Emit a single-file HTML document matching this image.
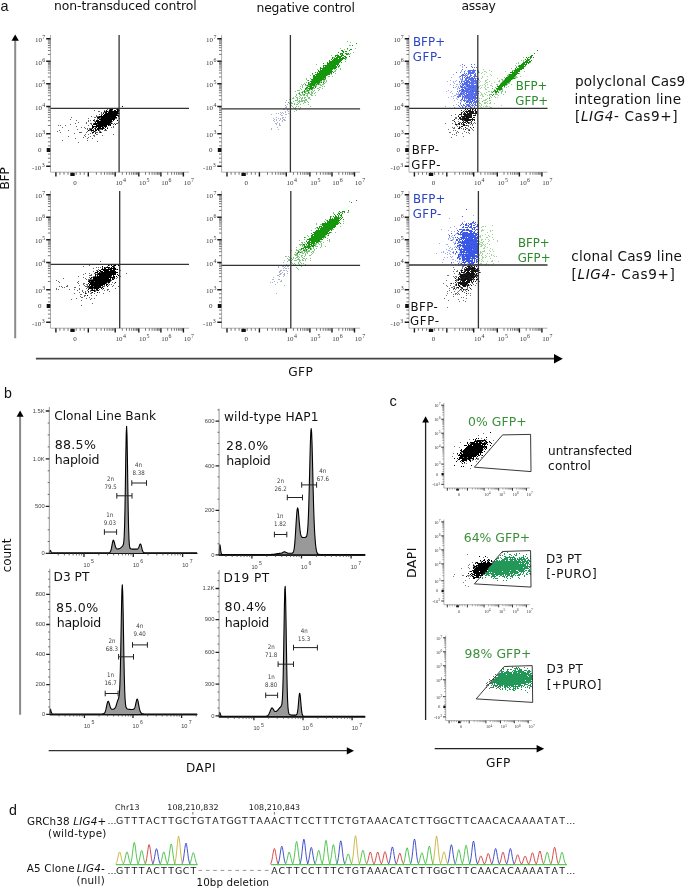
<!DOCTYPE html><html><head><meta charset="utf-8"><style>html,body{margin:0;padding:0;background:#fff}svg{display:block}</style></head><body>
<svg width="685" height="891" viewBox="0 0 685 891" font-family="'DejaVu Sans', 'Liberation Sans', sans-serif">
<rect width="685" height="891" fill="#fff"/>
<defs><filter id="soft" x="-5%" y="-5%" width="110%" height="110%"><feGaussianBlur stdDeviation="0.55"/></filter></defs>
<text x="0.4" y="10.6" font-size="14.4" fill="#111" font-family="Liberation Sans, sans-serif">a</text>
<text x="54" y="9.8" font-size="12.4" fill="#111" textLength="142.6" lengthAdjust="spacing">non-transduced control</text>
<text x="256.5" y="11.8" font-size="12.4" fill="#111" textLength="98.4" lengthAdjust="spacing">negative control</text>
<text x="461.4" y="10.4" font-size="12.4" fill="#111" textLength="34.5" lengthAdjust="spacing">assay</text>
<path d="M50.5 35V172.2H189" stroke="#a8a8a8" stroke-width="0.9" fill="none"/>
<path d="M46.2 38.7h4.3M46.2 61.2h4.3M46.2 83.8h4.3M46.2 106.5h4.3M46.2 133.7h4.3M46.2 166.3h4.3M55.9 172.2v4.4M88.3 172.2v4.4M115.2 172.2v4.4M138.8 172.2v4.4M160.9 172.2v4.4M183.4 172.2v4.4" stroke="#1a1a1a" stroke-width="1.4" fill="none"/>
<path d="M47.9 99.7h2.6M47.9 95.7h2.6M47.9 92.8h2.6M47.9 90.6h2.6M47.9 88.8h2.6M47.9 87.3h2.6M47.9 86h2.6M47.9 84.8h2.6M47.9 77h2.6M47.9 73h2.6M47.9 70.2h2.6M47.9 68h2.6M47.9 66.2h2.6M47.9 64.7h2.6M47.9 63.4h2.6M47.9 62.2h2.6M47.9 54.4h2.6M47.9 50.5h2.6M47.9 47.7h2.6M47.9 45.5h2.6M47.9 43.7h2.6M47.9 42.2h2.6M47.9 40.9h2.6M47.9 39.7h2.6M47.9 125.5h2.6M47.9 120.7h2.6M47.9 117.3h2.6M47.9 114.7h2.6M47.9 112.5h2.6M47.9 110.7h2.6M47.9 109.1h2.6M47.9 107.7h2.6M47.9 162.2h2.6M47.9 158.2h2.6M47.9 154.1h2.6M47.9 150h2.6M47.9 145.9h2.6M47.9 141.8h2.6M47.9 137.8h2.6M96.4 172.2v2.6M101.1 172.2v2.6M104.5 172.2v2.6M107.1 172.2v2.6M109.2 172.2v2.6M111 172.2v2.6M112.6 172.2v2.6M114 172.2v2.6M122.3 172.2v2.6M126.5 172.2v2.6M129.4 172.2v2.6M131.7 172.2v2.6M133.6 172.2v2.6M135.1 172.2v2.6M136.5 172.2v2.6M137.7 172.2v2.6M145.5 172.2v2.6M149.3 172.2v2.6M152.1 172.2v2.6M154.2 172.2v2.6M156 172.2v2.6M157.5 172.2v2.6M158.8 172.2v2.6M159.9 172.2v2.6M167.7 172.2v2.6M171.6 172.2v2.6M174.4 172.2v2.6M176.6 172.2v2.6M178.4 172.2v2.6M179.9 172.2v2.6M181.2 172.2v2.6M182.4 172.2v2.6M59.9 172.2v2.6M64 172.2v2.6M68 172.2v2.6M72.1 172.2v2.6M76.2 172.2v2.6M80.2 172.2v2.6M84.2 172.2v2.6" stroke="#555" stroke-width="0.8" fill="none"/>
<rect x="46.7" y="148" width="3.6" height="4" fill="#111"/>
<rect x="70.3" y="172.8" width="4.4" height="3.2" fill="#111"/>
<g font-family="'Liberation Serif', 'DejaVu Serif', serif" font-size="7" fill="#3a3a3a">
<text x="34.9" y="42">10<tspan dx="0.4" dy="-3" font-size="5.9">7</tspan></text>
<text x="34.9" y="64.5">10<tspan dx="0.4" dy="-3" font-size="5.9">6</tspan></text>
<text x="34.9" y="87.1">10<tspan dx="0.4" dy="-3" font-size="5.9">5</tspan></text>
<text x="34.9" y="109.8">10<tspan dx="0.4" dy="-3" font-size="5.9">4</tspan></text>
<text x="34.9" y="137">10<tspan dx="0.4" dy="-3" font-size="5.9">3</tspan></text>
<text x="37.9" y="152.3">0</text>
<text x="31.9" y="169.6">-10<tspan dx="0.4" dy="-3" font-size="5.9">3</tspan></text>
<text x="73.3" y="184.8">0</text>
<text x="115.5" y="184.8">10<tspan dx="0.4" dy="-3" font-size="5.9">4</tspan></text>
<text x="139.1" y="184.8">10<tspan dx="0.4" dy="-3" font-size="5.9">5</tspan></text>
<text x="161.2" y="184.8">10<tspan dx="0.4" dy="-3" font-size="5.9">6</tspan></text>
<text x="183.7" y="184.8">10<tspan dx="0.4" dy="-3" font-size="5.9">7</tspan></text>
</g>
<path d="M221.6 35V172.2H360.1" stroke="#a8a8a8" stroke-width="0.9" fill="none"/>
<path d="M217.3 38.7h4.3M217.3 61.2h4.3M217.3 83.8h4.3M217.3 106.5h4.3M217.3 133.7h4.3M217.3 166.3h4.3M227 172.2v4.4M259.4 172.2v4.4M286.3 172.2v4.4M309.9 172.2v4.4M332 172.2v4.4M354.5 172.2v4.4" stroke="#1a1a1a" stroke-width="1.4" fill="none"/>
<path d="M219 99.7h2.6M219 95.7h2.6M219 92.8h2.6M219 90.6h2.6M219 88.8h2.6M219 87.3h2.6M219 86h2.6M219 84.8h2.6M219 77h2.6M219 73h2.6M219 70.2h2.6M219 68h2.6M219 66.2h2.6M219 64.7h2.6M219 63.4h2.6M219 62.2h2.6M219 54.4h2.6M219 50.5h2.6M219 47.7h2.6M219 45.5h2.6M219 43.7h2.6M219 42.2h2.6M219 40.9h2.6M219 39.7h2.6M219 125.5h2.6M219 120.7h2.6M219 117.3h2.6M219 114.7h2.6M219 112.5h2.6M219 110.7h2.6M219 109.1h2.6M219 107.7h2.6M219 162.2h2.6M219 158.2h2.6M219 154.1h2.6M219 150h2.6M219 145.9h2.6M219 141.8h2.6M219 137.8h2.6M267.5 172.2v2.6M272.2 172.2v2.6M275.6 172.2v2.6M278.2 172.2v2.6M280.3 172.2v2.6M282.1 172.2v2.6M283.7 172.2v2.6M285.1 172.2v2.6M293.4 172.2v2.6M297.6 172.2v2.6M300.5 172.2v2.6M302.8 172.2v2.6M304.7 172.2v2.6M306.2 172.2v2.6M307.6 172.2v2.6M308.8 172.2v2.6M316.6 172.2v2.6M320.4 172.2v2.6M323.2 172.2v2.6M325.3 172.2v2.6M327.1 172.2v2.6M328.6 172.2v2.6M329.9 172.2v2.6M331 172.2v2.6M338.8 172.2v2.6M342.7 172.2v2.6M345.5 172.2v2.6M347.7 172.2v2.6M349.5 172.2v2.6M351 172.2v2.6M352.3 172.2v2.6M353.5 172.2v2.6M231.1 172.2v2.6M235.1 172.2v2.6M239.1 172.2v2.6M243.2 172.2v2.6M247.2 172.2v2.6M251.3 172.2v2.6M255.3 172.2v2.6" stroke="#555" stroke-width="0.8" fill="none"/>
<rect x="217.8" y="148" width="3.6" height="4" fill="#111"/>
<rect x="241.4" y="172.8" width="4.4" height="3.2" fill="#111"/>
<g font-family="'Liberation Serif', 'DejaVu Serif', serif" font-size="7" fill="#3a3a3a">
<text x="206" y="42">10<tspan dx="0.4" dy="-3" font-size="5.9">7</tspan></text>
<text x="206" y="64.5">10<tspan dx="0.4" dy="-3" font-size="5.9">6</tspan></text>
<text x="206" y="87.1">10<tspan dx="0.4" dy="-3" font-size="5.9">5</tspan></text>
<text x="206" y="109.8">10<tspan dx="0.4" dy="-3" font-size="5.9">4</tspan></text>
<text x="206" y="137">10<tspan dx="0.4" dy="-3" font-size="5.9">3</tspan></text>
<text x="209" y="152.3">0</text>
<text x="203" y="169.6">-10<tspan dx="0.4" dy="-3" font-size="5.9">3</tspan></text>
<text x="244.4" y="184.8">0</text>
<text x="286.6" y="184.8">10<tspan dx="0.4" dy="-3" font-size="5.9">4</tspan></text>
<text x="310.2" y="184.8">10<tspan dx="0.4" dy="-3" font-size="5.9">5</tspan></text>
<text x="332.3" y="184.8">10<tspan dx="0.4" dy="-3" font-size="5.9">6</tspan></text>
<text x="354.8" y="184.8">10<tspan dx="0.4" dy="-3" font-size="5.9">7</tspan></text>
</g>
<path d="M409 35V172.2H547.5" stroke="#a8a8a8" stroke-width="0.9" fill="none"/>
<path d="M404.7 38.7h4.3M404.7 61.2h4.3M404.7 83.8h4.3M404.7 106.5h4.3M404.7 133.7h4.3M404.7 166.3h4.3M414.4 172.2v4.4M446.8 172.2v4.4M473.7 172.2v4.4M497.3 172.2v4.4M519.4 172.2v4.4M541.9 172.2v4.4" stroke="#1a1a1a" stroke-width="1.4" fill="none"/>
<path d="M406.4 99.7h2.6M406.4 95.7h2.6M406.4 92.8h2.6M406.4 90.6h2.6M406.4 88.8h2.6M406.4 87.3h2.6M406.4 86h2.6M406.4 84.8h2.6M406.4 77h2.6M406.4 73h2.6M406.4 70.2h2.6M406.4 68h2.6M406.4 66.2h2.6M406.4 64.7h2.6M406.4 63.4h2.6M406.4 62.2h2.6M406.4 54.4h2.6M406.4 50.5h2.6M406.4 47.7h2.6M406.4 45.5h2.6M406.4 43.7h2.6M406.4 42.2h2.6M406.4 40.9h2.6M406.4 39.7h2.6M406.4 125.5h2.6M406.4 120.7h2.6M406.4 117.3h2.6M406.4 114.7h2.6M406.4 112.5h2.6M406.4 110.7h2.6M406.4 109.1h2.6M406.4 107.7h2.6M406.4 162.2h2.6M406.4 158.2h2.6M406.4 154.1h2.6M406.4 150h2.6M406.4 145.9h2.6M406.4 141.8h2.6M406.4 137.8h2.6M454.9 172.2v2.6M459.6 172.2v2.6M463 172.2v2.6M465.6 172.2v2.6M467.7 172.2v2.6M469.5 172.2v2.6M471.1 172.2v2.6M472.5 172.2v2.6M480.8 172.2v2.6M485 172.2v2.6M487.9 172.2v2.6M490.2 172.2v2.6M492.1 172.2v2.6M493.6 172.2v2.6M495 172.2v2.6M496.2 172.2v2.6M504 172.2v2.6M507.8 172.2v2.6M510.6 172.2v2.6M512.7 172.2v2.6M514.5 172.2v2.6M516 172.2v2.6M517.3 172.2v2.6M518.4 172.2v2.6M526.2 172.2v2.6M530.1 172.2v2.6M532.9 172.2v2.6M535.1 172.2v2.6M536.9 172.2v2.6M538.4 172.2v2.6M539.7 172.2v2.6M540.9 172.2v2.6M418.4 172.2v2.6M422.5 172.2v2.6M426.6 172.2v2.6M430.6 172.2v2.6M434.6 172.2v2.6M438.7 172.2v2.6M442.8 172.2v2.6" stroke="#555" stroke-width="0.8" fill="none"/>
<rect x="405.2" y="148" width="3.6" height="4" fill="#111"/>
<rect x="428.8" y="172.8" width="4.4" height="3.2" fill="#111"/>
<g font-family="'Liberation Serif', 'DejaVu Serif', serif" font-size="7" fill="#3a3a3a">
<text x="393.4" y="42">10<tspan dx="0.4" dy="-3" font-size="5.9">7</tspan></text>
<text x="393.4" y="64.5">10<tspan dx="0.4" dy="-3" font-size="5.9">6</tspan></text>
<text x="393.4" y="87.1">10<tspan dx="0.4" dy="-3" font-size="5.9">5</tspan></text>
<text x="393.4" y="109.8">10<tspan dx="0.4" dy="-3" font-size="5.9">4</tspan></text>
<text x="393.4" y="137">10<tspan dx="0.4" dy="-3" font-size="5.9">3</tspan></text>
<text x="396.4" y="152.3">0</text>
<text x="390.4" y="169.6">-10<tspan dx="0.4" dy="-3" font-size="5.9">3</tspan></text>
<text x="431.8" y="184.8">0</text>
<text x="474" y="184.8">10<tspan dx="0.4" dy="-3" font-size="5.9">4</tspan></text>
<text x="497.6" y="184.8">10<tspan dx="0.4" dy="-3" font-size="5.9">5</tspan></text>
<text x="519.7" y="184.8">10<tspan dx="0.4" dy="-3" font-size="5.9">6</tspan></text>
<text x="542.2" y="184.8">10<tspan dx="0.4" dy="-3" font-size="5.9">7</tspan></text>
</g>
<path d="M50.5 191V328.2H189" stroke="#a8a8a8" stroke-width="0.9" fill="none"/>
<path d="M46.2 194.7h4.3M46.2 217.2h4.3M46.2 239.8h4.3M46.2 262.5h4.3M46.2 289.7h4.3M46.2 322.3h4.3M55.9 328.2v4.4M88.3 328.2v4.4M115.2 328.2v4.4M138.8 328.2v4.4M160.9 328.2v4.4M183.4 328.2v4.4" stroke="#1a1a1a" stroke-width="1.4" fill="none"/>
<path d="M47.9 255.7h2.6M47.9 251.7h2.6M47.9 248.8h2.6M47.9 246.6h2.6M47.9 244.8h2.6M47.9 243.3h2.6M47.9 242h2.6M47.9 240.8h2.6M47.9 233h2.6M47.9 229h2.6M47.9 226.2h2.6M47.9 224h2.6M47.9 222.2h2.6M47.9 220.7h2.6M47.9 219.4h2.6M47.9 218.2h2.6M47.9 210.4h2.6M47.9 206.5h2.6M47.9 203.7h2.6M47.9 201.5h2.6M47.9 199.7h2.6M47.9 198.2h2.6M47.9 196.9h2.6M47.9 195.7h2.6M47.9 281.5h2.6M47.9 276.7h2.6M47.9 273.3h2.6M47.9 270.7h2.6M47.9 268.5h2.6M47.9 266.7h2.6M47.9 265.1h2.6M47.9 263.7h2.6M47.9 318.2h2.6M47.9 314.1h2.6M47.9 310.1h2.6M47.9 306h2.6M47.9 301.9h2.6M47.9 297.9h2.6M47.9 293.8h2.6M96.4 328.2v2.6M101.1 328.2v2.6M104.5 328.2v2.6M107.1 328.2v2.6M109.2 328.2v2.6M111 328.2v2.6M112.6 328.2v2.6M114 328.2v2.6M122.3 328.2v2.6M126.5 328.2v2.6M129.4 328.2v2.6M131.7 328.2v2.6M133.6 328.2v2.6M135.1 328.2v2.6M136.5 328.2v2.6M137.7 328.2v2.6M145.5 328.2v2.6M149.3 328.2v2.6M152.1 328.2v2.6M154.2 328.2v2.6M156 328.2v2.6M157.5 328.2v2.6M158.8 328.2v2.6M159.9 328.2v2.6M167.7 328.2v2.6M171.6 328.2v2.6M174.4 328.2v2.6M176.6 328.2v2.6M178.4 328.2v2.6M179.9 328.2v2.6M181.2 328.2v2.6M182.4 328.2v2.6M59.9 328.2v2.6M64 328.2v2.6M68 328.2v2.6M72.1 328.2v2.6M76.2 328.2v2.6M80.2 328.2v2.6M84.2 328.2v2.6" stroke="#555" stroke-width="0.8" fill="none"/>
<rect x="46.7" y="304" width="3.6" height="4" fill="#111"/>
<rect x="70.3" y="328.8" width="4.4" height="3.2" fill="#111"/>
<g font-family="'Liberation Serif', 'DejaVu Serif', serif" font-size="7" fill="#3a3a3a">
<text x="34.9" y="198">10<tspan dx="0.4" dy="-3" font-size="5.9">7</tspan></text>
<text x="34.9" y="220.5">10<tspan dx="0.4" dy="-3" font-size="5.9">6</tspan></text>
<text x="34.9" y="243.1">10<tspan dx="0.4" dy="-3" font-size="5.9">5</tspan></text>
<text x="34.9" y="265.8">10<tspan dx="0.4" dy="-3" font-size="5.9">4</tspan></text>
<text x="34.9" y="293">10<tspan dx="0.4" dy="-3" font-size="5.9">3</tspan></text>
<text x="37.9" y="308.3">0</text>
<text x="31.9" y="325.6">-10<tspan dx="0.4" dy="-3" font-size="5.9">3</tspan></text>
<text x="73.3" y="340.8">0</text>
<text x="115.5" y="340.8">10<tspan dx="0.4" dy="-3" font-size="5.9">4</tspan></text>
<text x="139.1" y="340.8">10<tspan dx="0.4" dy="-3" font-size="5.9">5</tspan></text>
<text x="161.2" y="340.8">10<tspan dx="0.4" dy="-3" font-size="5.9">6</tspan></text>
<text x="183.7" y="340.8">10<tspan dx="0.4" dy="-3" font-size="5.9">7</tspan></text>
</g>
<path d="M221.6 191V328.2H360.1" stroke="#a8a8a8" stroke-width="0.9" fill="none"/>
<path d="M217.3 194.7h4.3M217.3 217.2h4.3M217.3 239.8h4.3M217.3 262.5h4.3M217.3 289.7h4.3M217.3 322.3h4.3M227 328.2v4.4M259.4 328.2v4.4M286.3 328.2v4.4M309.9 328.2v4.4M332 328.2v4.4M354.5 328.2v4.4" stroke="#1a1a1a" stroke-width="1.4" fill="none"/>
<path d="M219 255.7h2.6M219 251.7h2.6M219 248.8h2.6M219 246.6h2.6M219 244.8h2.6M219 243.3h2.6M219 242h2.6M219 240.8h2.6M219 233h2.6M219 229h2.6M219 226.2h2.6M219 224h2.6M219 222.2h2.6M219 220.7h2.6M219 219.4h2.6M219 218.2h2.6M219 210.4h2.6M219 206.5h2.6M219 203.7h2.6M219 201.5h2.6M219 199.7h2.6M219 198.2h2.6M219 196.9h2.6M219 195.7h2.6M219 281.5h2.6M219 276.7h2.6M219 273.3h2.6M219 270.7h2.6M219 268.5h2.6M219 266.7h2.6M219 265.1h2.6M219 263.7h2.6M219 318.2h2.6M219 314.1h2.6M219 310.1h2.6M219 306h2.6M219 301.9h2.6M219 297.9h2.6M219 293.8h2.6M267.5 328.2v2.6M272.2 328.2v2.6M275.6 328.2v2.6M278.2 328.2v2.6M280.3 328.2v2.6M282.1 328.2v2.6M283.7 328.2v2.6M285.1 328.2v2.6M293.4 328.2v2.6M297.6 328.2v2.6M300.5 328.2v2.6M302.8 328.2v2.6M304.7 328.2v2.6M306.2 328.2v2.6M307.6 328.2v2.6M308.8 328.2v2.6M316.6 328.2v2.6M320.4 328.2v2.6M323.2 328.2v2.6M325.3 328.2v2.6M327.1 328.2v2.6M328.6 328.2v2.6M329.9 328.2v2.6M331 328.2v2.6M338.8 328.2v2.6M342.7 328.2v2.6M345.5 328.2v2.6M347.7 328.2v2.6M349.5 328.2v2.6M351 328.2v2.6M352.3 328.2v2.6M353.5 328.2v2.6M231.1 328.2v2.6M235.1 328.2v2.6M239.1 328.2v2.6M243.2 328.2v2.6M247.2 328.2v2.6M251.3 328.2v2.6M255.3 328.2v2.6" stroke="#555" stroke-width="0.8" fill="none"/>
<rect x="217.8" y="304" width="3.6" height="4" fill="#111"/>
<rect x="241.4" y="328.8" width="4.4" height="3.2" fill="#111"/>
<g font-family="'Liberation Serif', 'DejaVu Serif', serif" font-size="7" fill="#3a3a3a">
<text x="206" y="198">10<tspan dx="0.4" dy="-3" font-size="5.9">7</tspan></text>
<text x="206" y="220.5">10<tspan dx="0.4" dy="-3" font-size="5.9">6</tspan></text>
<text x="206" y="243.1">10<tspan dx="0.4" dy="-3" font-size="5.9">5</tspan></text>
<text x="206" y="265.8">10<tspan dx="0.4" dy="-3" font-size="5.9">4</tspan></text>
<text x="206" y="293">10<tspan dx="0.4" dy="-3" font-size="5.9">3</tspan></text>
<text x="209" y="308.3">0</text>
<text x="203" y="325.6">-10<tspan dx="0.4" dy="-3" font-size="5.9">3</tspan></text>
<text x="244.4" y="340.8">0</text>
<text x="286.6" y="340.8">10<tspan dx="0.4" dy="-3" font-size="5.9">4</tspan></text>
<text x="310.2" y="340.8">10<tspan dx="0.4" dy="-3" font-size="5.9">5</tspan></text>
<text x="332.3" y="340.8">10<tspan dx="0.4" dy="-3" font-size="5.9">6</tspan></text>
<text x="354.8" y="340.8">10<tspan dx="0.4" dy="-3" font-size="5.9">7</tspan></text>
</g>
<path d="M409 191V328.2H547.5" stroke="#a8a8a8" stroke-width="0.9" fill="none"/>
<path d="M404.7 194.7h4.3M404.7 217.2h4.3M404.7 239.8h4.3M404.7 262.5h4.3M404.7 289.7h4.3M404.7 322.3h4.3M414.4 328.2v4.4M446.8 328.2v4.4M473.7 328.2v4.4M497.3 328.2v4.4M519.4 328.2v4.4M541.9 328.2v4.4" stroke="#1a1a1a" stroke-width="1.4" fill="none"/>
<path d="M406.4 255.7h2.6M406.4 251.7h2.6M406.4 248.8h2.6M406.4 246.6h2.6M406.4 244.8h2.6M406.4 243.3h2.6M406.4 242h2.6M406.4 240.8h2.6M406.4 233h2.6M406.4 229h2.6M406.4 226.2h2.6M406.4 224h2.6M406.4 222.2h2.6M406.4 220.7h2.6M406.4 219.4h2.6M406.4 218.2h2.6M406.4 210.4h2.6M406.4 206.5h2.6M406.4 203.7h2.6M406.4 201.5h2.6M406.4 199.7h2.6M406.4 198.2h2.6M406.4 196.9h2.6M406.4 195.7h2.6M406.4 281.5h2.6M406.4 276.7h2.6M406.4 273.3h2.6M406.4 270.7h2.6M406.4 268.5h2.6M406.4 266.7h2.6M406.4 265.1h2.6M406.4 263.7h2.6M406.4 318.2h2.6M406.4 314.1h2.6M406.4 310.1h2.6M406.4 306h2.6M406.4 301.9h2.6M406.4 297.9h2.6M406.4 293.8h2.6M454.9 328.2v2.6M459.6 328.2v2.6M463 328.2v2.6M465.6 328.2v2.6M467.7 328.2v2.6M469.5 328.2v2.6M471.1 328.2v2.6M472.5 328.2v2.6M480.8 328.2v2.6M485 328.2v2.6M487.9 328.2v2.6M490.2 328.2v2.6M492.1 328.2v2.6M493.6 328.2v2.6M495 328.2v2.6M496.2 328.2v2.6M504 328.2v2.6M507.8 328.2v2.6M510.6 328.2v2.6M512.7 328.2v2.6M514.5 328.2v2.6M516 328.2v2.6M517.3 328.2v2.6M518.4 328.2v2.6M526.2 328.2v2.6M530.1 328.2v2.6M532.9 328.2v2.6M535.1 328.2v2.6M536.9 328.2v2.6M538.4 328.2v2.6M539.7 328.2v2.6M540.9 328.2v2.6M418.4 328.2v2.6M422.5 328.2v2.6M426.6 328.2v2.6M430.6 328.2v2.6M434.6 328.2v2.6M438.7 328.2v2.6M442.8 328.2v2.6" stroke="#555" stroke-width="0.8" fill="none"/>
<rect x="405.2" y="304" width="3.6" height="4" fill="#111"/>
<rect x="428.8" y="328.8" width="4.4" height="3.2" fill="#111"/>
<g font-family="'Liberation Serif', 'DejaVu Serif', serif" font-size="7" fill="#3a3a3a">
<text x="393.4" y="198">10<tspan dx="0.4" dy="-3" font-size="5.9">7</tspan></text>
<text x="393.4" y="220.5">10<tspan dx="0.4" dy="-3" font-size="5.9">6</tspan></text>
<text x="393.4" y="243.1">10<tspan dx="0.4" dy="-3" font-size="5.9">5</tspan></text>
<text x="393.4" y="265.8">10<tspan dx="0.4" dy="-3" font-size="5.9">4</tspan></text>
<text x="393.4" y="293">10<tspan dx="0.4" dy="-3" font-size="5.9">3</tspan></text>
<text x="396.4" y="308.3">0</text>
<text x="390.4" y="325.6">-10<tspan dx="0.4" dy="-3" font-size="5.9">3</tspan></text>
<text x="431.8" y="340.8">0</text>
<text x="474" y="340.8">10<tspan dx="0.4" dy="-3" font-size="5.9">4</tspan></text>
<text x="497.6" y="340.8">10<tspan dx="0.4" dy="-3" font-size="5.9">5</tspan></text>
<text x="519.7" y="340.8">10<tspan dx="0.4" dy="-3" font-size="5.9">6</tspan></text>
<text x="542.2" y="340.8">10<tspan dx="0.4" dy="-3" font-size="5.9">7</tspan></text>
</g>
<g filter="url(#soft)">
<path d="M117 108.5h1m-11 1h1m1 0h1m6 0h1m1 0h1m-25 1h1m9 0h1m7 0h1m5 0h1m0 0h1m-22 1h1m0 0h1m5 0h1m1 0h1m0 0h1m0 0h1m2 0h1m1 0h1m1 0h1m-16 1h1m1 0h1m0 0h1m0 0h1m3 0h1m2 0h1m5 0h1m-18 1h1m5 0h1m1 0h1m9 0h1m-21 1h1m1 0h1m0 0h1m4 0h1m0 0h1m2 0h1m0 0h1m0 0h1m3 0h1m-22 1h1m4 0h1m3 0h1m1 0h1m3 0h1m1 0h1m2 0h1m-26 1h1m4 0h1m0 0h1m0 0h1m2 0h1m2 0h1m2 0h1m5 0h1m0 0h1m-44 1h1m22 0h1m0 0h1m3 0h1m0 0h1m1 0h1m1 0h1m1 0h1m0 0h1m0 0h1m0 0h1m1 0h1m0 0h1m1 0h1m-27 1h1m8 0h1m0 0h1m0 0h1m0 0h1m1 0h1m0 0h1m0 0h1m0 0h1m2 0h1m1 0h1m0 0h1m1 0h1m1 0h1m0 0h1m2 0h1m-50 1h1m23 0h1m2 0h1m2 0h1m0 0h1m1 0h1m0 0h1m0 0h1m1 0h1m1 0h1m1 0h1m2 0h1m-39 1h1m11 0h1m1 0h1m3 0h1m2 0h1m0 0h1m1 0h1m0 0h1m0 0h1m1 0h1m0 0h1m0 0h1m3 0h1m2 0h1m-26 1h1m5 0h1m0 0h1m0 0h1m0 0h1m1 0h1m1 0h1m0 0h1m1 0h1m0 0h1m4 0h1m1 0h1m-35 1h1m7 0h1m8 0h1m1 0h1m0 0h1m0 0h1m1 0h1m0 0h1m0 0h1m0 0h1m3 0h1m1 0h1m0 0h1m6 0h1m-44 1h1m10 0h1m3 0h1m0 0h1m1 0h1m0 0h1m0 0h1m3 0h1m0 0h1m0 0h1m1 0h1m0 0h1m0 0h1m0 0h1m1 0h1m0 0h1m0 0h1m1 0h1m1 0h1m1 0h1m0 0h1m-48 1h1m20 0h1m1 0h1m0 0h1m1 0h1m0 0h1m2 0h1m0 0h1m0 0h1m0 0h1m1 0h1m0 0h1m1 0h1m4 0h1m-56 1h1m1 0h1m4 0h1m22 0h1m3 0h1m4 0h1m2 0h1m0 0h1m0 0h1m0 0h1m5 0h1m-34 1h1m15 0h1m1 0h1m0 0h1m0 0h1m0 0h1m2 0h1m2 0h1m1 0h1m0 0h1m6 0h1m-52 1h1m18 0h1m2 0h1m8 0h1m1 0h1m2 0h1m0 0h1m3 0h1m3 0h1m3 0h1m1 0h1m-29 1h1m1 0h1m1 0h1m0 0h1m0 0h1m2 0h1m0 0h1m2 0h1m0 0h1m1 0h1m0 0h1m1 0h1m2 0h1m-31 1h1m9 0h1m1 0h1m3 0h1m1 0h1m0 0h1m1 0h1m0 0h1m0 0h1m0 0h1m-43 1h1m8 0h1m19 0h1m0 0h1m0 0h1m4 0h1m3 0h1m4 0h1m0 0h1m0 0h1m-50 1h1m29 0h1m3 0h1m1 0h1m0 0h1m0 0h1m3 0h1m0 0h1m-41 1h1m18 0h1m0 0h1m0 0h1m4 0h1m8 0h1m0 0h1m0 0h1m1 0h1m1 0h1m-28 1h1m15 0h1m1 0h1m-8 1h1m2 0h1m7 0h1m0 0h1m15 0h1m-30 1h1m8 0h1m0 0h1m7 0h1m-35 1h1m16 0h1m4 0h1m3 0h1m-12 1h1m4 0h1m-14 1h1m11 0h1m4 0h1m-31 2h1m24 0h1m9 1h1m-20 1h1" stroke="#000" stroke-width="1.0" stroke-opacity="0.6" fill="none"/>
<path d="M122 106.5h1m-13 3h1m0 0h1m0 0h1m4 0h1m0 0h1m-13 1h1m2 0h1m0 0h1m0 0h1m2 0h1m0 0h1m1 0h1m0 0h1m-15 1h1m1 0h1m0 0h1m1 0h1m0 0h1m0 0h1m0 0h1m0 0h1m0 0h1m0 0h1m0 0h1m0 0h1m0 0h1m-14 1h1m0 0h1m1 0h1m0 0h1m0 0h1m0 0h1m0 0h1m0 0h1m0 0h1m0 0h1m0 0h1m0 0h1m-15 1h1m1 0h1m0 0h1m0 0h1m0 0h1m0 0h1m0 0h1m0 0h1m0 0h1m0 0h1m0 0h1m0 0h1m0 0h1m0 0h1m0 0h1m-15 1h1m0 0h1m0 0h1m0 0h1m0 0h1m0 0h1m0 0h1m0 0h1m0 0h1m0 0h1m0 0h1m0 0h1m0 0h1m-16 1h1m1 0h1m0 0h1m0 0h1m0 0h1m0 0h1m0 0h1m0 0h1m0 0h1m0 0h1m0 0h1m0 0h1m0 0h1m0 0h1m0 0h1m0 0h1m0 0h1m-20 1h1m0 0h1m0 0h1m0 0h1m0 0h1m0 0h1m0 0h1m0 0h1m0 0h1m0 0h1m0 0h1m0 0h1m0 0h1m0 0h1m0 0h1m0 0h1m0 0h1m2 0h1m-22 1h1m0 0h1m0 0h1m1 0h1m0 0h1m0 0h1m0 0h1m0 0h1m0 0h1m0 0h1m0 0h1m0 0h1m0 0h1m0 0h1m0 0h1m0 0h1m0 0h1m0 0h1m0 0h1m-19 1h1m2 0h1m0 0h1m0 0h1m0 0h1m0 0h1m0 0h1m0 0h1m0 0h1m0 0h1m0 0h1m0 0h1m0 0h1m0 0h1m0 0h1m-16 1h1m0 0h1m0 0h1m0 0h1m0 0h1m0 0h1m0 0h1m0 0h1m0 0h1m0 0h1m0 0h1m0 0h1m0 0h1m0 0h1m0 0h1m0 0h1m-22 1h1m2 0h1m0 0h1m0 0h1m2 0h1m0 0h1m0 0h1m0 0h1m0 0h1m0 0h1m0 0h1m0 0h1m0 0h1m0 0h1m0 0h1m1 0h1m3 0h1m-22 1h1m0 0h1m0 0h1m0 0h1m0 0h1m0 0h1m0 0h1m0 0h1m0 0h1m0 0h1m0 0h1m0 0h1m0 0h1m0 0h1m0 0h1m0 0h1m-17 1h1m1 0h1m0 0h1m0 0h1m0 0h1m0 0h1m0 0h1m0 0h1m0 0h1m0 0h1m0 0h1m0 0h1m0 0h1m0 0h1m0 0h1m-17 1h1m0 0h1m0 0h1m0 0h1m0 0h1m0 0h1m0 0h1m0 0h1m0 0h1m0 0h1m0 0h1m0 0h1m0 0h1m0 0h1m0 0h1m0 0h1m1 0h1m-19 1h1m0 0h1m0 0h1m0 0h1m1 0h1m0 0h1m0 0h1m0 0h1m0 0h1m0 0h1m0 0h1m0 0h1m0 0h1m0 0h1m0 0h1m0 0h1m0 0h1m4 0h1m-24 1h1m3 0h1m0 0h1m0 0h1m0 0h1m0 0h1m0 0h1m0 0h1m0 0h1m0 0h1m0 0h1m0 0h1m1 0h1m1 0h1m-19 1h1m0 0h1m0 0h1m0 0h1m0 0h1m0 0h1m0 0h1m0 0h1m0 0h1m0 0h1m0 0h1m1 0h1m0 0h1m0 0h1m-15 1h1m0 0h1m2 0h1m1 0h1m0 0h1m0 0h1m1 0h1m0 0h1m1 0h1m-14 1h1m2 0h1m1 0h1m0 0h1m0 0h1m0 0h1m0 0h1m0 0h1m0 0h1m3 0h1m-18 1h1m0 0h1m3 0h1m1 0h1m0 0h1m3 0h1m2 0h1m-18 1h1m2 0h1m0 0h1m0 0h1m1 0h1m0 0h1m1 0h1m-5 1h1m-3 1h1m0 0h1m6 0h1m-6 1h1" stroke="#000" stroke-width="1.0" fill="none"/>
</g>
<g filter="url(#soft)">
<path d="M100 261.5h1m-1 3h1m-12 1h1m19 0h1m1 0h1m1 0h1m1 0h1m2 0h1m-36 1h1m23 0h1m6 0h1m-19 1h1m1 0h1m1 0h1m1 0h1m1 0h1m0 0h1m0 0h1m0 0h1m5 0h1m-21 1h1m15 0h1m1 0h1m7 0h1m-22 1h1m5 0h1m1 0h1m1 0h1m0 0h1m3 0h1m0 0h1m1 0h1m-21 1h1m0 0h1m5 0h1m2 0h1m0 0h1m2 0h1m9 0h1m-28 1h1m4 0h1m7 0h1m-8 1h1m0 0h1m0 0h1m1 0h1m6 0h1m0 0h1m-27 1h1m3 0h1m4 0h1m0 0h1m1 0h1m0 0h1m3 0h1m1 0h1m1 0h1m0 0h1m4 0h1m0 0h1m12 0h1m-44 1h1m7 0h1m4 0h1m0 0h1m0 0h1m2 0h1m0 0h1m0 0h1m2 0h1m3 0h1m3 0h1m0 0h1m-27 1h1m0 0h1m0 0h1m3 0h1m4 0h1m0 0h1m0 0h1m0 0h1m1 0h1m1 0h1m-30 1h1m14 0h1m0 0h1m1 0h1m0 0h1m0 0h1m1 0h1m2 0h1m0 0h1m3 0h1m1 0h1m0 0h1m8 0h1m-38 1h1m5 0h1m2 0h1m1 0h1m2 0h1m0 0h1m0 0h1m0 0h1m0 0h1m0 0h1m0 0h1m0 0h1m0 0h1m3 0h1m3 0h1m0 0h1m2 0h1m-55 1h1m21 0h1m5 0h1m1 0h1m0 0h1m0 0h1m0 0h1m0 0h1m2 0h1m0 0h1m0 0h1m0 0h1m0 0h1m0 0h1m6 0h1m0 0h1m2 0h1m-31 1h1m1 0h1m0 0h1m0 0h1m0 0h1m0 0h1m2 0h1m2 0h1m0 0h1m0 0h1m0 0h1m1 0h1m1 0h1m0 0h1m1 0h1m-53 1h1m31 0h1m5 0h1m1 0h1m0 0h1m0 0h1m1 0h1m0 0h1m1 0h1m0 0h1m0 0h1m1 0h1m1 0h1m0 0h1m0 0h1m7 0h1m-62 1h1m19 0h1m11 0h1m2 0h1m0 0h1m3 0h1m0 0h1m0 0h1m0 0h1m0 0h1m0 0h1m3 0h1m2 0h1m-52 1h1m17 0h1m11 0h1m3 0h1m1 0h1m0 0h1m0 0h1m0 0h1m0 0h1m0 0h1m0 0h1m0 0h1m1 0h1m1 0h1m0 0h1m0 0h1m3 0h1m-35 1h1m4 0h1m0 0h1m3 0h1m3 0h1m1 0h1m2 0h1m0 0h1m2 0h1m0 0h1m0 0h1m0 0h1m1 0h1m1 0h1m5 0h1m4 0h1m-37 1h1m2 0h1m0 0h1m6 0h1m0 0h1m2 0h1m0 0h1m0 0h1m2 0h1m0 0h1m1 0h1m2 0h1m1 0h1m-45 1h1m11 0h1m4 0h1m2 0h1m4 0h1m2 0h1m2 0h1m0 0h1m1 0h1m0 0h1m1 0h1m3 0h1m4 0h1m-55 1h1m1 0h1m4 0h1m0 0h1m17 0h1m0 0h1m0 0h1m1 0h1m0 0h1m0 0h1m0 0h1m0 0h1m0 0h1m1 0h1m1 0h1m3 0h1m0 0h1m0 0h1m7 0h1m5 0h1m-57 1h1m1 0h1m9 0h1m0 0h1m11 0h1m0 0h1m1 0h1m0 0h1m1 0h1m4 0h1m0 0h1m1 0h1m-46 1h1m22 0h1m6 0h1m1 0h1m1 0h1m2 0h1m0 0h1m2 0h1m0 0h1m2 0h1m1 0h1m11 0h1m-60 1h1m1 0h1m10 0h1m4 0h1m4 0h1m11 0h1m0 0h1m1 0h1m4 0h1m2 0h1m4 0h1m0 0h1m-32 1h1m4 0h1m4 0h1m2 0h1m0 0h1m3 0h1m0 0h1m1 0h1m5 0h1m2 0h1m-26 1h1m2 0h1m4 0h1m4 0h1m13 0h1m-31 1h1m3 0h1m1 0h1m2 0h1m2 0h1m0 0h1m6 0h1m-26 1h1m11 0h1m3 0h1m0 0h1m2 0h1m8 0h1m-24 1h1m0 0h1m2 1h1m0 0h1m5 0h1m4 0h1m-17 1h1m3 0h1m-4 1h1m0 0h1m6 0h1m-14 1h1m9 0h1m4 0h1m2 0h1m-24 1h1m18 0h1m-10 1h1m10 3h1m-12 2h1" stroke="#000" stroke-width="1.0" stroke-opacity="0.6" fill="none"/>
<path d="M113 264.5h1m-6 1h1m2 0h1m2 0h1m0 0h1m2 0h1m0 0h1m-18 1h1m9 0h1m0 0h1m-10 1h1m1 0h1m0 0h1m0 0h1m0 0h1m1 0h1m1 0h1m0 0h1m4 0h1m-18 1h1m1 0h1m0 0h1m2 0h1m1 0h1m0 0h1m0 0h1m0 0h1m0 0h1m0 0h1m-15 1h1m0 0h1m0 0h1m0 0h1m0 0h1m0 0h1m0 0h1m0 0h1m0 0h1m0 0h1m0 0h1m1 0h1m0 0h1m0 0h1m1 0h1m1 0h1m-21 1h1m0 0h1m2 0h1m0 0h1m0 0h1m0 0h1m0 0h1m0 0h1m1 0h1m0 0h1m0 0h1m0 0h1m0 0h1m-18 1h1m2 0h1m0 0h1m0 0h1m1 0h1m0 0h1m0 0h1m0 0h1m0 0h1m0 0h1m0 0h1m0 0h1m0 0h1m0 0h1m0 0h1m0 0h1m-21 1h1m0 0h1m0 0h1m1 0h1m1 0h1m0 0h1m0 0h1m0 0h1m0 0h1m0 0h1m0 0h1m0 0h1m0 0h1m0 0h1m0 0h1m0 0h1m0 0h1m0 0h1m0 0h1m0 0h1m0 0h1m-20 1h1m0 0h1m0 0h1m0 0h1m0 0h1m0 0h1m0 0h1m0 0h1m0 0h1m0 0h1m0 0h1m0 0h1m0 0h1m0 0h1m0 0h1m0 0h1m0 0h1m0 0h1m-21 1h1m1 0h1m0 0h1m0 0h1m0 0h1m0 0h1m0 0h1m0 0h1m0 0h1m0 0h1m0 0h1m0 0h1m0 0h1m0 0h1m0 0h1m0 0h1m0 0h1m0 0h1m0 0h1m0 0h1m1 0h1m-23 1h1m1 0h1m1 0h1m0 0h1m0 0h1m0 0h1m0 0h1m0 0h1m0 0h1m0 0h1m0 0h1m0 0h1m0 0h1m0 0h1m0 0h1m1 0h1m4 0h1m-24 1h1m1 0h1m0 0h1m0 0h1m0 0h1m0 0h1m0 0h1m0 0h1m0 0h1m0 0h1m0 0h1m0 0h1m0 0h1m0 0h1m0 0h1m2 0h1m0 0h1m1 0h1m-26 1h1m1 0h1m0 0h1m0 0h1m0 0h1m0 0h1m0 0h1m0 0h1m0 0h1m0 0h1m0 0h1m0 0h1m0 0h1m0 0h1m0 0h1m0 0h1m0 0h1m0 0h1m0 0h1m0 0h1m0 0h1m0 0h1m0 0h1m-25 1h1m2 0h1m0 0h1m0 0h1m0 0h1m0 0h1m0 0h1m0 0h1m0 0h1m0 0h1m0 0h1m0 0h1m0 0h1m0 0h1m0 0h1m0 0h1m0 0h1m1 0h1m1 0h1m1 0h1m-22 1h1m0 0h1m0 0h1m0 0h1m0 0h1m0 0h1m0 0h1m0 0h1m0 0h1m0 0h1m0 0h1m0 0h1m0 0h1m0 0h1m0 0h1m0 0h1m0 0h1m0 0h1m1 0h1m0 0h1m-25 1h1m0 0h1m0 0h1m0 0h1m0 0h1m0 0h1m0 0h1m0 0h1m0 0h1m0 0h1m0 0h1m0 0h1m0 0h1m0 0h1m0 0h1m0 0h1m0 0h1m0 0h1m0 0h1m0 0h1m0 0h1m0 0h1m-23 1h1m0 0h1m1 0h1m0 0h1m0 0h1m1 0h1m0 0h1m0 0h1m0 0h1m0 0h1m0 0h1m0 0h1m0 0h1m0 0h1m0 0h1m0 0h1m0 0h1m0 0h1m0 0h1m0 0h1m-21 1h1m0 0h1m0 0h1m0 0h1m0 0h1m0 0h1m0 0h1m0 0h1m0 0h1m0 0h1m0 0h1m0 0h1m0 0h1m0 0h1m0 0h1m0 0h1m0 0h1m0 0h1m1 0h1m0 0h1m5 0h1m-28 1h1m1 0h1m0 0h1m0 0h1m0 0h1m0 0h1m0 0h1m0 0h1m0 0h1m0 0h1m0 0h1m0 0h1m0 0h1m0 0h1m0 0h1m0 0h1m0 0h1m-17 1h1m0 0h1m0 0h1m0 0h1m0 0h1m0 0h1m0 0h1m0 0h1m0 0h1m0 0h1m0 0h1m0 0h1m0 0h1m0 0h1m0 0h1m0 0h1m1 0h1m0 0h1m-19 1h1m1 0h1m0 0h1m0 0h1m0 0h1m0 0h1m0 0h1m0 0h1m0 0h1m0 0h1m0 0h1m0 0h1m0 0h1m3 0h1m-19 1h1m1 0h1m0 0h1m0 0h1m1 0h1m0 0h1m0 0h1m0 0h1m0 0h1m0 0h1m0 0h1m6 0h1m-19 1h1m0 0h1m0 0h1m0 0h1m0 0h1m0 0h1m0 0h1m0 0h1m0 0h1m0 0h1m0 0h1m0 0h1m1 0h1m-14 1h1m0 0h1m0 0h1m0 0h1m1 0h1m0 0h1m0 0h1m0 0h1m0 0h1m2 0h1m1 0h1m-16 1h1m3 0h1m3 0h1m0 0h1m-7 1h1m0 0h1m0 0h1m0 0h1m2 0h1m0 0h1m-11 1h1m5 0h1m-3 1h1m4 0h1m-13 1h1m1 2h1" stroke="#000" stroke-width="1.0" fill="none"/>
</g>
<g filter="url(#soft)">
<path d="M290 99.5h1m-5 1h1m-2 2h1m2 0h1m1 0h1m-4 2h1m-3 1h1m0 1h1m-2 1h1m0 0h1m-4 2h1m0 0h1m2 0h1m0 0h1m1 0h1m-4 1h1m-3 1h1m2 0h1m1 0h1m3 0h1m-15 1h1m1 0h1m2 0h1m-10 1h1m1 0h1m2 0h1m1 0h1m4 0h1m-18 1h1m8 0h1m4 0h1m0 0h1m-6 1h1m0 0h1m-7 2h1m5 0h1m0 0h1m1 0h1m-13 1h1m4 0h1m1 0h1m1 0h1m-9 1h1m1 0h1m3 0h1m2 0h1m0 0h1m-12 1h1m2 0h1m2 0h1m2 0h1m1 0h1m0 0h1m-12 1h1m7 0h1m-6 1h1m-3 1h1m0 0h1m2 0h1m-4 1h1m2 0h1m-1 1h1m0 0h1m-4 2h1m-7 1h1m-1 1h1m6 0h1" stroke="#6870a0" stroke-width="1.0" stroke-opacity="0.55" fill="none"/>
<path d="M347 41.5h1m2 1h1m-2 3h1m0 0h1m-11 3h1m14 0h1m-12 1h1m2 0h1m5 3h1m-14 1h1m6 0h1m2 0h1m-14 1h1m3 0h1m6 0h1m0 0h1m-19 1h1m7 1h1m-7 1h1m0 0h1m1 1h1m7 0h1m0 0h1m0 0h1m-11 1h1m0 0h1m-9 1h1m7 0h1m1 0h1m-11 1h1m9 0h1m5 0h1m-14 1h1m0 0h1m2 0h1m0 0h1m-11 1h1m2 0h1m5 0h1m-21 1h1m18 0h1m-13 1h1m5 0h1m2 0h1m-7 1h1m9 0h1m2 0h1m-17 1h1m1 0h1m0 0h1m0 0h1m0 0h1m1 0h1m2 0h1m4 0h1m-14 1h1m0 0h1m0 0h1m2 0h1m2 0h1m0 0h1m5 0h1m-24 1h1m6 0h1m3 0h1m1 0h1m3 0h1m1 0h1m3 0h1m-21 1h1m1 0h1m5 0h1m0 0h1m5 0h1m-16 1h1m4 0h1m0 0h1m0 0h1m0 0h1m2 0h1m0 0h1m1 0h1m0 0h1m-16 1h1m1 0h1m2 0h1m3 0h1m3 0h1m-17 1h1m2 0h1m1 0h1m0 0h1m0 0h1m0 0h1m1 0h1m0 0h1m0 0h1m0 0h1m4 0h1m-24 1h1m10 0h1m0 0h1m1 0h1m0 0h1m0 0h1m0 0h1m1 0h1m-22 1h1m5 0h1m0 0h1m1 0h1m0 0h1m2 0h1m0 0h1m2 0h1m-15 1h1m1 0h1m0 0h1m0 0h1m0 0h1m0 0h1m1 0h1m0 0h1m0 0h1m0 0h1m3 0h1m0 0h1m2 0h1m-19 1h1m2 0h1m0 0h1m0 0h1m2 0h1m-17 1h1m3 0h1m4 0h1m0 0h1m1 0h1m1 0h1m1 0h1m0 0h1m0 0h1m-19 1h1m4 0h1m0 0h1m2 0h1m0 0h1m0 0h1m1 0h1m0 0h1m0 0h1m1 0h1m0 0h1m0 0h1m-19 1h1m3 0h1m0 0h1m2 0h1m0 0h1m3 0h1m2 0h1m0 0h1m1 0h1m-17 1h1m0 0h1m1 0h1m0 0h1m0 0h1m2 0h1m0 0h1m0 0h1m0 0h1m1 0h1m0 0h1m1 0h1m-21 1h1m2 0h1m3 0h1m3 0h1m2 0h1m2 0h1m1 0h1m-22 1h1m4 0h1m3 0h1m1 0h1m0 0h1m1 0h1m0 0h1m3 0h1m0 0h1m-24 1h1m1 0h1m4 0h1m1 0h1m0 0h1m0 0h1m0 0h1m1 0h1m0 0h1m0 0h1m0 0h1m0 0h1m0 0h1m1 0h1m0 0h1m-22 1h1m2 0h1m0 0h1m0 0h1m0 0h1m0 0h1m1 0h1m2 0h1m0 0h1m0 0h1m3 0h1m0 0h1m-22 1h1m1 0h1m4 0h1m1 0h1m1 0h1m1 0h1m0 0h1m0 0h1m0 0h1m5 0h1m1 0h1m-23 1h1m3 0h1m2 0h1m2 0h1m2 0h1m3 0h1m0 0h1m-21 1h1m5 0h1m0 0h1m0 0h1m0 0h1m1 0h1m0 0h1m0 0h1m0 0h1m2 0h1m0 0h1m3 0h1m-22 1h1m4 0h1m0 0h1m2 0h1m0 0h1m0 0h1m6 0h1m-23 1h1m0 0h1m0 0h1m4 0h1m1 0h1m0 0h1m0 0h1m0 0h1m2 0h1m1 0h1m3 0h1m-24 1h1m6 0h1m0 0h1m1 0h1m0 0h1m0 0h1m0 0h1m2 0h1m1 0h1m-15 1h1m1 0h1m0 0h1m1 0h1m0 0h1m2 0h1m0 0h1m1 0h1m0 0h1m2 0h1m-18 1h1m3 0h1m2 0h1m0 0h1m0 0h1m0 0h1m0 0h1m1 0h1m0 0h1m1 0h1m-19 1h1m2 0h1m0 0h1m1 0h1m0 0h1m0 0h1m2 0h1m2 0h1m0 0h1m-16 1h1m3 0h1m0 0h1m1 0h1m0 0h1m1 0h1m0 0h1m3 0h1m0 0h1m2 0h1m-21 1h1m3 0h1m7 0h1m-15 1h1m2 0h1m0 0h1m2 0h1m1 0h1m1 0h1m0 0h1m2 0h1m0 0h1m-18 1h1m0 0h1m3 0h1m1 0h1m1 0h1m0 0h1m1 0h1m3 0h1m0 0h1m-21 1h1m7 0h1m3 0h1m3 0h1m0 0h1m3 0h1m-16 1h1m0 0h1m0 0h1m1 0h1m1 0h1m0 0h1m0 0h1m0 0h1m0 0h1m0 0h1m-14 1h1m4 0h1m0 0h1m0 0h1m0 0h1m0 0h1m1 0h1m2 0h1m-20 1h1m2 0h1m5 0h1m1 0h1m4 0h1m0 0h1m2 0h1m-20 1h1m1 0h1m0 0h1m1 0h1m3 0h1m4 0h1m-14 1h1m3 0h1m1 0h1m0 0h1m2 0h1m7 0h1m-18 1h1m0 1h1m3 0h1m1 0h1m11 0h1m-18 1h1m1 0h1m4 0h1m-7 1h1m0 0h1m-1 1h1m3 0h1m-4 1h1" stroke="#12960f" stroke-width="1.0" stroke-opacity="0.55" fill="none"/>
<path d="M356 43.5h1m-5 2h1m-6 3h1m2 1h1m0 0h1m-11 1h1m0 0h1m6 0h1m-8 1h1m0 0h1m1 0h1m0 0h1m-9 1h1m4 0h1m-4 1h1m0 0h1m0 0h1m2 0h1m0 0h1m1 0h1m-9 1h1m1 0h1m3 0h1m0 0h1m-13 1h1m0 0h1m0 0h1m0 0h1m2 0h1m0 0h1m0 0h1m-9 1h1m1 0h1m0 0h1m0 0h1m0 0h1m0 0h1m2 0h1m0 0h1m3 0h1m-18 1h1m3 0h1m0 0h1m0 0h1m0 0h1m0 0h1m1 0h1m0 0h1m1 0h1m0 0h1m-15 1h1m1 0h1m0 0h1m0 0h1m0 0h1m1 0h1m0 0h1m0 0h1m0 0h1m0 0h1m0 0h1m-14 1h1m1 0h1m0 0h1m0 0h1m0 0h1m0 0h1m0 0h1m0 0h1m0 0h1m0 0h1m0 0h1m2 0h1m-17 1h1m2 0h1m0 0h1m0 0h1m0 0h1m0 0h1m0 0h1m0 0h1m0 0h1m0 0h1m0 0h1m-13 1h1m0 0h1m0 0h1m0 0h1m0 0h1m0 0h1m0 0h1m0 0h1m0 0h1m0 0h1m0 0h1m0 0h1m-14 1h1m1 0h1m0 0h1m0 0h1m0 0h1m0 0h1m0 0h1m0 0h1m0 0h1m0 0h1m0 0h1m0 0h1m1 0h1m-19 1h1m3 0h1m0 0h1m0 0h1m0 0h1m0 0h1m0 0h1m0 0h1m0 0h1m0 0h1m0 0h1m0 0h1m0 0h1m-12 1h1m0 0h1m0 0h1m0 0h1m0 0h1m0 0h1m0 0h1m0 0h1m0 0h1m0 0h1m0 0h1m0 0h1m-16 1h1m0 0h1m0 0h1m0 0h1m0 0h1m0 0h1m0 0h1m0 0h1m0 0h1m0 0h1m0 0h1m0 0h1m0 0h1m1 0h1m1 0h1m-17 1h1m1 0h1m0 0h1m0 0h1m0 0h1m0 0h1m0 0h1m0 0h1m0 0h1m0 0h1m0 0h1m0 0h1m0 0h1m1 0h1m-19 1h1m2 0h1m0 0h1m0 0h1m0 0h1m0 0h1m0 0h1m0 0h1m0 0h1m0 0h1m0 0h1m0 0h1m0 0h1m0 0h1m0 0h1m-17 1h1m0 0h1m0 0h1m0 0h1m0 0h1m0 0h1m0 0h1m0 0h1m0 0h1m0 0h1m0 0h1m0 0h1m0 0h1m0 0h1m0 0h1m0 0h1m-16 1h1m1 0h1m0 0h1m0 0h1m0 0h1m0 0h1m0 0h1m0 0h1m0 0h1m0 0h1m0 0h1m0 0h1m-15 1h1m1 0h1m0 0h1m0 0h1m0 0h1m0 0h1m0 0h1m0 0h1m0 0h1m0 0h1m0 0h1m0 0h1m0 0h1m-14 1h1m0 0h1m0 0h1m0 0h1m0 0h1m0 0h1m0 0h1m0 0h1m0 0h1m0 0h1m0 0h1m0 0h1m0 0h1m0 0h1m0 0h1m-18 1h1m1 0h1m1 0h1m0 0h1m0 0h1m0 0h1m0 0h1m0 0h1m0 0h1m0 0h1m0 0h1m0 0h1m0 0h1m0 0h1m0 0h1m1 0h1m-22 1h1m4 0h1m0 0h1m0 0h1m0 0h1m0 0h1m0 0h1m0 0h1m0 0h1m0 0h1m0 0h1m0 0h1m0 0h1m0 0h1m1 0h1m-17 1h1m0 0h1m0 0h1m0 0h1m0 0h1m0 0h1m0 0h1m0 0h1m0 0h1m0 0h1m0 0h1m0 0h1m0 0h1m0 0h1m0 0h1m-17 1h1m0 0h1m1 0h1m0 0h1m0 0h1m0 0h1m0 0h1m0 0h1m0 0h1m0 0h1m0 0h1m0 0h1m0 0h1m-14 1h1m0 0h1m0 0h1m0 0h1m0 0h1m0 0h1m0 0h1m0 0h1m0 0h1m0 0h1m0 0h1m0 0h1m0 0h1m-13 1h1m0 0h1m0 0h1m0 0h1m0 0h1m0 0h1m0 0h1m0 0h1m0 0h1m0 0h1m0 0h1m0 0h1m0 0h1m-13 1h1m0 0h1m0 0h1m0 0h1m0 0h1m0 0h1m0 0h1m0 0h1m0 0h1m0 0h1m0 0h1m1 0h1m-15 1h1m0 0h1m0 0h1m0 0h1m0 0h1m0 0h1m0 0h1m0 0h1m0 0h1m0 0h1m0 0h1m0 0h1m0 0h1m0 0h1m-17 1h1m3 0h1m0 0h1m0 0h1m0 0h1m0 0h1m0 0h1m0 0h1m0 0h1m0 0h1m0 0h1m-12 1h1m0 0h1m0 0h1m0 0h1m0 0h1m0 0h1m0 0h1m0 0h1m0 0h1m0 0h1m-12 1h1m2 0h1m0 0h1m0 0h1m0 0h1m0 0h1m0 0h1m0 0h1m0 0h1m0 0h1m1 0h1m1 0h1m-16 1h1m1 0h1m0 0h1m0 0h1m0 0h1m0 0h1m0 0h1m1 0h1m0 0h1m-14 1h1m2 0h1m0 0h1m0 0h1m0 0h1m0 0h1m0 0h1m0 0h1m1 0h1m1 0h1m-12 1h1m2 0h1m0 0h1m0 0h1m0 0h1m0 0h1m-7 1h1m0 0h1m0 0h1m0 0h1m3 0h1m-10 1h1m0 0h1m2 0h1m0 0h1m0 0h1m0 0h1m1 0h1m-11 1h1m0 0h1m1 0h1m0 0h1m0 0h1m0 0h1m0 0h1m-8 1h1m3 0h1m1 0h1m-8 1h1m2 0h1m0 0h1m-5 1h1m-3 1h1m1 0h1m3 0h1m-10 1h1m4 1h1" stroke="#12960f" stroke-width="1.0" fill="none"/>
</g>
<g filter="url(#soft)">
<path d="M286 256.5h1m-3 4h1m3 0h1m-2 1h1m-5 1h1m2 2h1m-6 1h1m1 0h1m0 0h1m0 0h1m3 0h1m-12 1h1m3 0h1m0 0h1m1 0h1m1 0h1m0 0h1m-11 1h1m5 0h1m-2 1h1m1 0h1m0 0h1m1 0h1m1 0h1m-1 1h1m-11 1h1m0 0h1m1 0h1m0 0h1m1 0h1m-8 1h1m0 0h1m6 0h1m-9 1h1m2 0h1m-3 1h1m0 0h1m2 0h1m2 0h1m-9 1h1m0 0h1m2 0h1m0 0h1m-8 1h1m0 0h1m5 0h1m-6 1h1m3 0h1m-11 1h1m-2 2h1m0 0h1m4 0h1m0 0h1m1 1h1m-8 1h1m5 0h1m0 0h1m-12 1h1m1 0h1m4 0h1m-3 2h1m8 1h1m-9 8h1" stroke="#6870a0" stroke-width="1.0" stroke-opacity="0.55" fill="none"/>
<path d="M349 201.5h1m-2 10h1m-16 1h1m4 0h1m2 0h1m0 0h1m4 0h1m0 0h1m-16 1h1m3 1h1m-7 2h1m3 0h1m-1 1h1m1 0h1m1 0h1m-15 2h1m7 0h1m1 0h1m-10 1h1m6 0h1m-10 1h1m5 0h1m12 0h1m-17 1h1m7 0h1m2 0h1m-23 1h1m6 0h1m5 0h1m0 0h1m0 0h1m5 0h1m5 0h1m-28 1h1m3 0h1m0 0h1m1 0h1m1 0h1m9 0h1m-13 1h1m3 0h1m0 0h1m0 0h1m0 0h1m4 0h1m-17 1h1m3 0h1m1 0h1m0 0h1m2 0h1m1 0h1m1 0h1m0 0h1m5 0h1m-25 1h1m4 0h1m0 0h1m3 0h1m2 0h1m0 0h1m-16 1h1m1 0h1m0 0h1m0 0h1m1 0h1m6 0h1m2 0h1m0 0h1m-11 1h1m3 0h1m0 0h1m0 0h1m1 0h1m1 0h1m0 0h1m-23 1h1m8 0h1m0 0h1m1 0h1m0 0h1m0 0h1m1 0h1m-13 1h1m2 0h1m1 0h1m0 0h1m0 0h1m3 0h1m0 0h1m0 0h1m-16 1h1m1 0h1m0 0h1m1 0h1m1 0h1m0 0h1m2 0h1m0 0h1m3 0h1m0 0h1m0 0h1m3 0h1m-22 1h1m5 0h1m0 0h1m0 0h1m1 0h1m0 0h1m1 0h1m1 0h1m-17 1h1m1 0h1m2 0h1m2 0h1m4 0h1m1 0h1m-22 1h1m4 0h1m4 0h1m0 0h1m0 0h1m3 0h1m0 0h1m0 0h1m1 0h1m0 0h1m-21 1h1m4 0h1m1 0h1m2 0h1m0 0h1m1 0h1m3 0h1m-21 1h1m5 0h1m0 0h1m2 0h1m2 0h1m0 0h1m0 0h1m2 0h1m0 0h1m0 0h1m-16 1h1m2 0h1m0 0h1m1 0h1m0 0h1m0 0h1m0 0h1m0 0h1m2 0h1m3 0h1m-24 1h1m2 0h1m1 0h1m0 0h1m0 0h1m0 0h1m1 0h1m0 0h1m0 0h1m0 0h1m0 0h1m0 0h1m1 0h1m7 0h1m-31 1h1m6 0h1m4 0h1m1 0h1m1 0h1m2 0h1m8 0h1m1 0h1m-19 1h1m1 0h1m0 0h1m0 0h1m1 0h1m2 0h1m0 0h1m7 0h1m-29 1h1m0 0h1m1 0h1m3 0h1m2 0h1m2 0h1m3 0h1m1 0h1m2 0h1m-22 1h1m2 0h1m1 0h1m0 0h1m4 0h1m1 0h1m0 0h1m1 0h1m2 0h1m-23 1h1m0 0h1m0 0h1m0 0h1m3 0h1m1 0h1m0 0h1m4 0h1m0 0h1m0 0h1m2 0h1m1 0h1m-22 1h1m1 0h1m0 0h1m2 0h1m0 0h1m0 0h1m0 0h1m2 0h1m2 0h1m5 0h1m-20 1h1m1 0h1m1 0h1m1 0h1m1 0h1m0 0h1m0 0h1m2 0h1m0 0h1m0 0h1m3 0h1m3 0h1m-30 1h1m6 0h1m0 0h1m0 0h1m0 0h1m0 0h1m0 0h1m1 0h1m2 0h1m6 0h1m-20 1h1m0 0h1m0 0h1m1 0h1m2 0h1m0 0h1m1 0h1m1 0h1m2 0h1m-21 1h1m2 0h1m0 0h1m0 0h1m1 0h1m0 0h1m0 0h1m0 0h1m0 0h1m2 0h1m0 0h1m2 0h1m-24 1h1m4 0h1m0 0h1m0 0h1m1 0h1m2 0h1m1 0h1m2 0h1m0 0h1m4 0h1m-16 1h1m1 0h1m0 0h1m1 0h1m0 0h1m0 0h1m0 0h1m0 0h1m0 0h1m2 0h1m0 0h1m-19 1h1m1 0h1m0 0h1m0 0h1m0 0h1m0 0h1m0 0h1m1 0h1m1 0h1m0 0h1m3 0h1m1 0h1m-18 1h1m5 0h1m0 0h1m1 0h1m1 0h1m4 0h1m-19 1h1m0 0h1m0 0h1m0 0h1m1 0h1m5 0h1m5 0h1m-17 1h1m0 0h1m0 0h1m3 0h1m0 0h1m2 0h1m3 0h1m0 0h1m-26 1h1m2 0h1m8 0h1m0 0h1m2 0h1m2 0h1m-16 1h1m3 0h1m2 0h1m0 0h1m1 0h1m2 0h1m-16 1h1m3 0h1m1 0h1m1 0h1m2 0h1m4 0h1m0 0h1m1 0h1m3 0h1m-23 1h1m0 0h1m2 0h1m4 0h1m0 0h1m0 0h1m2 0h1m2 0h1m-17 1h1m1 0h1m2 0h1m0 0h1m0 0h1m2 0h1m0 0h1m1 0h1m0 0h1m1 0h1m4 0h1m-21 1h1m8 0h1m-9 1h1m6 0h1m1 0h1m-9 1h1m1 0h1m3 0h1m2 0h1m1 0h1m-11 1h1m1 0h1m3 0h1m5 0h1m-12 1h1m6 1h1m-6 1h1m0 1h1m0 1h1" stroke="#12960f" stroke-width="1.0" stroke-opacity="0.55" fill="none"/>
<path d="M356 200.5h1m-6 2h1m-4 8h1m-10 1h1m2 0h1m0 0h1m0 0h1m-5 1h1m3 0h1m-7 1h1m0 0h1m2 0h1m-9 1h1m2 0h1m1 0h1m1 0h1m-7 1h1m2 0h1m1 0h1m0 0h1m-12 1h1m2 0h1m1 0h1m0 0h1m1 0h1m2 0h1m-12 1h1m3 0h1m0 0h1m0 0h1m0 0h1m0 0h1m1 0h1m1 0h1m-13 1h1m1 0h1m1 0h1m0 0h1m0 0h1m0 0h1m0 0h1m0 0h1m1 0h1m-13 1h1m0 0h1m0 0h1m0 0h1m0 0h1m0 0h1m0 0h1m0 0h1m0 0h1m0 0h1m1 0h1m2 0h1m-17 1h1m1 0h1m0 0h1m0 0h1m0 0h1m0 0h1m0 0h1m0 0h1m0 0h1m0 0h1m0 0h1m0 0h1m-13 1h1m0 0h1m0 0h1m0 0h1m0 0h1m0 0h1m0 0h1m0 0h1m0 0h1m0 0h1m0 0h1m0 0h1m-14 1h1m1 0h1m0 0h1m0 0h1m0 0h1m0 0h1m0 0h1m0 0h1m0 0h1m0 0h1m0 0h1m0 0h1m1 0h1m-18 1h1m0 0h1m0 0h1m0 0h1m0 0h1m0 0h1m0 0h1m0 0h1m0 0h1m0 0h1m0 0h1m0 0h1m0 0h1m0 0h1m0 0h1m0 0h1m0 0h1m1 0h1m-19 1h1m0 0h1m0 0h1m0 0h1m0 0h1m0 0h1m0 0h1m0 0h1m0 0h1m0 0h1m0 0h1m0 0h1m0 0h1m0 0h1m0 0h1m0 0h1m-16 1h1m0 0h1m0 0h1m0 0h1m0 0h1m0 0h1m0 0h1m0 0h1m0 0h1m0 0h1m0 0h1m0 0h1m0 0h1m0 0h1m-17 1h1m0 0h1m0 0h1m1 0h1m0 0h1m0 0h1m0 0h1m0 0h1m0 0h1m0 0h1m0 0h1m0 0h1m0 0h1m0 0h1m0 0h1m0 0h1m-19 1h1m1 0h1m1 0h1m0 0h1m0 0h1m0 0h1m0 0h1m0 0h1m0 0h1m0 0h1m0 0h1m0 0h1m0 0h1m0 0h1m0 0h1m0 0h1m-17 1h1m1 0h1m0 0h1m0 0h1m0 0h1m0 0h1m0 0h1m0 0h1m0 0h1m0 0h1m0 0h1m0 0h1m0 0h1m0 0h1m-15 1h1m1 0h1m0 0h1m0 0h1m0 0h1m0 0h1m0 0h1m0 0h1m0 0h1m0 0h1m0 0h1m0 0h1m0 0h1m-16 1h1m0 0h1m0 0h1m0 0h1m0 0h1m0 0h1m0 0h1m0 0h1m0 0h1m0 0h1m0 0h1m0 0h1m0 0h1m0 0h1m1 0h1m-17 1h1m0 0h1m0 0h1m0 0h1m0 0h1m0 0h1m0 0h1m0 0h1m0 0h1m0 0h1m0 0h1m0 0h1m0 0h1m0 0h1m-16 1h1m0 0h1m0 0h1m0 0h1m0 0h1m0 0h1m0 0h1m0 0h1m0 0h1m0 0h1m0 0h1m0 0h1m0 0h1m0 0h1m0 0h1m1 0h1m0 0h1m-20 1h1m2 0h1m0 0h1m0 0h1m0 0h1m0 0h1m0 0h1m0 0h1m0 0h1m0 0h1m0 0h1m0 0h1m0 0h1m0 0h1m0 0h1m0 0h1m-17 1h1m0 0h1m0 0h1m0 0h1m0 0h1m0 0h1m0 0h1m0 0h1m0 0h1m0 0h1m0 0h1m0 0h1m0 0h1m0 0h1m0 0h1m-16 1h1m0 0h1m1 0h1m0 0h1m0 0h1m0 0h1m0 0h1m0 0h1m0 0h1m0 0h1m0 0h1m0 0h1m0 0h1m3 0h1m-18 1h1m0 0h1m0 0h1m0 0h1m0 0h1m0 0h1m0 0h1m0 0h1m0 0h1m0 0h1m0 0h1m0 0h1m0 0h1m0 0h1m-21 1h1m6 0h1m0 0h1m0 0h1m0 0h1m0 0h1m0 0h1m0 0h1m0 0h1m0 0h1m0 0h1m0 0h1m0 0h1m0 0h1m1 0h1m-17 1h1m0 0h1m0 0h1m0 0h1m0 0h1m0 0h1m0 0h1m0 0h1m0 0h1m0 0h1m0 0h1m0 0h1m0 0h1m-15 1h1m0 0h1m0 0h1m0 0h1m0 0h1m0 0h1m0 0h1m0 0h1m0 0h1m0 0h1m0 0h1m0 0h1m0 0h1m0 0h1m0 0h1m0 0h1m-14 1h1m0 0h1m0 0h1m0 0h1m0 0h1m0 0h1m0 0h1m0 0h1m0 0h1m0 0h1m0 0h1m-14 1h1m1 0h1m0 0h1m1 0h1m0 0h1m0 0h1m0 0h1m0 0h1m0 0h1m0 0h1m0 0h1m0 0h1m-13 1h1m0 0h1m0 0h1m0 0h1m0 0h1m0 0h1m0 0h1m0 0h1m1 0h1m0 0h1m-11 1h1m0 0h1m0 0h1m1 0h1m0 0h1m0 0h1m0 0h1m-12 1h1m0 0h1m1 0h1m1 0h1m0 0h1m0 0h1m0 0h1m1 0h1m-10 1h1m3 0h1m0 0h1m1 0h1m0 0h1m0 0h1m0 0h1m-11 1h1m0 0h1m1 0h1m0 0h1m0 0h1m0 0h1m1 0h1m0 0h1m-10 1h1m0 0h1m0 0h1m0 0h1m0 0h1m0 0h1m-9 1h1m0 0h1m0 0h1m1 0h1m2 0h1m1 0h1m-10 1h1m4 0h1m3 0h1m-8 1h1m0 0h1m1 0h1m-9 1h1m-1 1h1m1 0h1m-4 1h1" stroke="#12960f" stroke-width="1.0" fill="none"/>
</g>
<g filter="url(#soft)">
<path d="M472 108.5h1m-1 1h1m0 0h1m-10 1h1m1 0h1m5 0h1m1 0h1m-6 1h1m0 0h1m-9 1h1m0 1h1m5 0h1m-15 1h1m8 0h1m10 0h1m1 0h1m-27 1h1m6 0h1m2 0h1m-4 1h1m4 0h1m3 0h1m-13 1h1m0 0h1m3 0h1m4 0h1m0 0h1m1 0h1m2 0h1m-17 1h1m0 0h1m4 0h1m2 0h1m0 0h1m0 0h1m-9 1h1m8 0h1m5 0h1m-22 1h1m0 0h1m9 0h1m1 0h1m0 0h1m0 0h1m0 0h1m-11 1h1m6 0h1m-11 1h1m3 0h1m0 0h1m1 0h1m0 0h1m1 0h1m2 0h1m0 0h1m0 0h1m0 0h1m2 0h1m-30 1h1m6 0h1m2 0h1m13 0h1m3 0h1m1 0h1m-19 1h1m0 0h1m0 0h1m1 0h1m0 0h1m0 0h1m6 0h1m1 0h1m-17 1h1m8 0h1m1 0h1m0 0h1m3 0h1m-16 1h1m1 0h1m1 0h1m6 0h1m-17 1h1m1 0h1m5 0h1m-8 1h1m0 0h1m4 0h1m1 0h1m1 0h1m2 0h1m0 0h1m3 0h1m-24 1h1m14 0h1m4 0h1m0 0h1m2 0h1m-20 1h1m1 0h1m12 0h1m4 0h1m-17 1h1m6 0h1m-16 1h1m0 0h1m5 0h1m1 0h1m7 0h1m1 0h1m-13 1h1m5 0h1m6 0h1m-18 1h1m1 0h1m1 1h1m6 1h1m-13 1h1" stroke="#000" stroke-width="1.0" stroke-opacity="0.55" fill="none"/>
<path d="M470 108.5h1m-6 1h1m1 0h1m2 0h1m1 0h1m2 0h1m-15 1h1m6 0h1m0 0h1m0 0h1m1 0h1m2 0h1m-13 1h1m1 0h1m0 0h1m0 0h1m0 0h1m0 0h1m0 0h1m0 0h1m0 0h1m0 0h1m1 0h1m0 0h1m-16 1h1m2 0h1m1 0h1m0 0h1m1 0h1m0 0h1m0 0h1m0 0h1m0 0h1m1 0h1m0 0h1m-16 1h1m2 0h1m0 0h1m1 0h1m0 0h1m0 0h1m0 0h1m0 0h1m0 0h1m0 0h1m0 0h1m0 0h1m0 0h1m-18 1h1m0 0h1m0 0h1m1 0h1m0 0h1m0 0h1m0 0h1m0 0h1m0 0h1m0 0h1m0 0h1m0 0h1m-8 1h1m0 0h1m0 0h1m0 0h1m0 0h1m0 0h1m0 0h1m0 0h1m1 0h1m0 0h1m0 0h1m-18 1h1m2 0h1m0 0h1m0 0h1m0 0h1m0 0h1m0 0h1m0 0h1m0 0h1m0 0h1m0 0h1m0 0h1m-13 1h1m0 0h1m1 0h1m0 0h1m0 0h1m1 0h1m0 0h1m0 0h1m0 0h1m0 0h1m0 0h1m1 0h1m0 0h1m-16 1h1m0 0h1m1 0h1m0 0h1m0 0h1m0 0h1m0 0h1m0 0h1m0 0h1m3 0h1m-19 1h1m5 0h1m0 0h1m0 0h1m0 0h1m0 0h1m0 0h1m0 0h1m0 0h1m0 0h1m0 0h1m0 0h1m0 0h1m0 0h1m0 0h1m0 0h1m-13 1h1m1 0h1m0 0h1m0 0h1m0 0h1m0 0h1m0 0h1m0 0h1m1 0h1m1 0h1m-21 1h1m8 0h1m2 0h1m0 0h1m3 0h1m-10 1h1m1 0h1m0 0h1m1 0h1m0 0h1m-11 1h1m0 0h1m1 0h1m1 0h1m2 0h1m1 0h1m2 0h1m-17 1h1m0 0h1m2 0h1m3 0h1m0 0h1m-2 1h1m0 0h1m1 0h1m-6 1h1m0 0h1m-4 1h1m5 0h1m4 0h1m2 0h1m-16 1h1m0 0h1m5 1h1m3 1h1" stroke="#000" stroke-width="1.0" stroke-opacity="0.9" fill="none"/>
<path d="M460 65.5h1m1 1h1m-1 1h1m9 0h1m-12 3h1m3 0h1m5 0h1m-11 1h1m5 0h1m-4 1h1m1 1h1m10 0h1m-25 1h1m13 0h1m-3 1h1m1 0h1m-9 1h1m-9 1h1m7 0h1m7 0h1m1 0h1m-10 1h1m7 0h1m3 0h1m3 0h1m0 0h1m-18 1h1m0 0h1m11 0h1m-24 1h1m5 0h1m4 0h1m0 0h1m1 0h1m-18 1h1m5 0h1m1 0h1m5 0h1m0 0h1m4 0h1m1 0h1m-17 1h1m5 0h1m5 0h1m0 0h1m7 0h1m-21 1h1m7 0h1m0 0h1m0 0h1m-15 1h1m5 0h1m0 0h1m1 0h1m1 0h1m1 0h1m2 0h1m-14 1h1m11 0h1m1 0h1m7 0h1m-20 1h1m1 0h1m2 0h1m3 0h1m1 0h1m1 0h1m-15 1h1m2 0h1m1 0h1m0 0h1m1 0h1m2 0h1m0 0h1m2 0h1m1 0h1m0 0h1m-17 1h1m7 0h1m-9 1h1m3 0h1m0 0h1m0 0h1m4 0h1m0 0h1m-22 1h1m12 0h1m0 0h1m0 0h1m5 0h1m2 0h1m3 0h1m-31 1h1m4 0h1m10 0h1m3 0h1m3 0h1m1 0h1m2 0h1m0 0h1m-27 1h1m7 0h1m1 0h1m1 0h1m4 0h1m8 0h1m-25 1h1m3 0h1m1 0h1m1 0h1m3 0h1m1 0h1m9 0h1m-21 1h1m0 0h1m0 0h1m2 0h1m0 0h1m4 0h1m3 0h1m-18 1h1m0 0h1m2 0h1m8 0h1m4 0h1m0 0h1m0 0h1m1 0h1m-26 1h1m1 0h1m9 0h1m0 0h1m0 0h1m7 0h1m-26 1h1m8 0h1m5 0h1m9 0h1m1 0h1m-23 1h1m2 0h1m5 0h1m2 0h1m-9 1h1m8 0h1m1 0h1m3 0h1m-19 1h1m6 0h1m1 0h1m2 0h1m5 0h1m-12 1h1m2 0h1m2 0h1m1 0h1m2 0h1m1 0h1m2 0h1m-20 1h1m1 0h1m5 0h1m0 0h1m0 0h1m0 0h1m-1 1h1m1 0h1m5 0h1m-22 1h1m3 0h1m8 0h1m-17 1h1m12 0h1m1 0h1m6 0h1m-31 1h1m20 0h1m1 0h1m3 0h1m-19 1h1m5 0h1m2 0h1m7 0h1m-12 1h1m1 0h1m6 0h1m6 0h1" stroke="#2a48e4" stroke-width="1.0" stroke-opacity="0.45" fill="none"/>
<path d="M462 64.5h1m8 0h1m2 0h1m-11 1h1m6 1h1m-6 1h1m5 0h1m1 0h1m1 0h1m-15 2h1m10 0h1m-6 1h1m0 0h1m0 0h1m0 0h1m0 0h1m0 0h1m0 0h1m0 0h1m1 0h1m-14 1h1m3 0h1m0 0h1m0 0h1m1 0h1m0 0h1m0 0h1m3 0h1m-23 1h1m3 0h1m7 0h1m0 0h1m0 0h1m0 0h1m0 0h1m0 0h1m0 0h1m3 0h1m-15 1h1m1 0h1m1 0h1m0 0h1m0 0h1m0 0h1m0 0h1m0 0h1m1 0h1m-14 1h1m0 0h1m1 0h1m2 0h1m1 0h1m3 0h1m0 0h1m-15 1h1m0 0h1m0 0h1m0 0h1m1 0h1m3 0h1m0 0h1m2 0h1m0 0h1m-16 1h1m1 0h1m2 0h1m1 0h1m1 0h1m0 0h1m2 0h1m0 0h1m0 0h1m0 0h1m-15 1h1m1 0h1m1 0h1m0 0h1m0 0h1m0 0h1m1 0h1m0 0h1m1 0h1m-13 1h1m2 0h1m0 0h1m0 0h1m1 0h1m0 0h1m0 0h1m0 0h1m0 0h1m0 0h1m0 0h1m1 0h1m0 0h1m-17 1h1m2 0h1m0 0h1m1 0h1m0 0h1m0 0h1m0 0h1m0 0h1m0 0h1m1 0h1m1 0h1m0 0h1m-14 1h1m0 0h1m0 0h1m0 0h1m1 0h1m0 0h1m0 0h1m0 0h1m0 0h1m0 0h1m0 0h1m0 0h1m-19 1h1m1 0h1m1 0h1m0 0h1m1 0h1m0 0h1m0 0h1m0 0h1m1 0h1m0 0h1m0 0h1m0 0h1m0 0h1m0 0h1m0 0h1m-17 1h1m2 0h1m0 0h1m0 0h1m0 0h1m0 0h1m0 0h1m0 0h1m0 0h1m0 0h1m0 0h1m1 0h1m0 0h1m0 0h1m-18 1h1m1 0h1m1 0h1m0 0h1m0 0h1m0 0h1m1 0h1m0 0h1m0 0h1m0 0h1m0 0h1m0 0h1m0 0h1m0 0h1m0 0h1m-16 1h1m0 0h1m0 0h1m0 0h1m0 0h1m0 0h1m0 0h1m0 0h1m1 0h1m0 0h1m0 0h1m2 0h1m0 0h1m-18 1h1m1 0h1m0 0h1m2 0h1m0 0h1m0 0h1m0 0h1m0 0h1m0 0h1m0 0h1m0 0h1m0 0h1m0 0h1m0 0h1m0 0h1m-18 1h1m0 0h1m0 0h1m1 0h1m1 0h1m0 0h1m0 0h1m0 0h1m0 0h1m0 0h1m0 0h1m0 0h1m0 0h1m0 0h1m0 0h1m0 0h1m-25 1h1m7 0h1m0 0h1m0 0h1m0 0h1m0 0h1m2 0h1m0 0h1m0 0h1m0 0h1m0 0h1m0 0h1m0 0h1m0 0h1m0 0h1m0 0h1m0 0h1m-20 1h1m2 0h1m1 0h1m0 0h1m0 0h1m0 0h1m0 0h1m0 0h1m0 0h1m0 0h1m0 0h1m0 0h1m0 0h1m0 0h1m0 0h1m0 0h1m-17 1h1m0 0h1m0 0h1m1 0h1m0 0h1m0 0h1m0 0h1m0 0h1m0 0h1m0 0h1m0 0h1m0 0h1m0 0h1m0 0h1m0 0h1m0 0h1m-19 1h1m0 0h1m1 0h1m0 0h1m0 0h1m0 0h1m0 0h1m0 0h1m0 0h1m1 0h1m0 0h1m0 0h1m0 0h1m0 0h1m0 0h1m0 0h1m-20 1h1m1 0h1m1 0h1m0 0h1m0 0h1m0 0h1m0 0h1m0 0h1m0 0h1m0 0h1m0 0h1m0 0h1m0 0h1m0 0h1m0 0h1m0 0h1m0 0h1m0 0h1m1 0h1m-18 1h1m1 0h1m0 0h1m1 0h1m0 0h1m0 0h1m0 0h1m0 0h1m0 0h1m0 0h1m0 0h1m1 0h1m0 0h1m-17 1h1m0 0h1m0 0h1m0 0h1m1 0h1m0 0h1m1 0h1m0 0h1m0 0h1m0 0h1m0 0h1m0 0h1m0 0h1m0 0h1m0 0h1m1 0h1m-20 1h1m0 0h1m0 0h1m1 0h1m0 0h1m1 0h1m0 0h1m0 0h1m0 0h1m0 0h1m0 0h1m0 0h1m0 0h1m0 0h1m0 0h1m0 0h1m-18 1h1m0 0h1m1 0h1m1 0h1m0 0h1m0 0h1m0 0h1m0 0h1m0 0h1m0 0h1m0 0h1m0 0h1m1 0h1m0 0h1m0 0h1m0 0h1m-21 1h1m0 0h1m0 0h1m0 0h1m1 0h1m0 0h1m1 0h1m0 0h1m0 0h1m0 0h1m0 0h1m0 0h1m0 0h1m0 0h1m0 0h1m0 0h1m0 0h1m1 0h1m-20 1h1m3 0h1m1 0h1m0 0h1m0 0h1m0 0h1m0 0h1m0 0h1m0 0h1m0 0h1m0 0h1m0 0h1m0 0h1m0 0h1m0 0h1m0 0h1m-16 1h1m1 0h1m1 0h1m0 0h1m0 0h1m0 0h1m0 0h1m0 0h1m0 0h1m0 0h1m0 0h1m0 0h1m0 0h1m0 0h1m-17 1h1m0 0h1m1 0h1m3 0h1m0 0h1m0 0h1m0 0h1m0 0h1m1 0h1m0 0h1m-16 1h1m2 0h1m0 0h1m0 0h1m1 0h1m0 0h1m0 0h1m0 0h1m1 0h1m0 0h1m0 0h1m1 0h1m-13 1h1m1 0h1m0 0h1m0 0h1m1 0h1m0 0h1m0 0h1m1 0h1m0 0h1m0 0h1m-11 1h1m0 0h1m1 0h1m0 0h1m0 0h1m1 0h1m0 0h1m0 0h1m0 0h1m-17 1h1m4 0h1m3 0h1m1 0h1m1 0h1m1 0h1m-13 1h1m2 0h1m0 0h1m0 0h1m1 0h1m1 0h1m1 0h1m0 0h1m-18 1h1m2 0h1m1 0h1m0 0h1m2 0h1m0 0h1m0 0h1m1 0h1m0 0h1m0 0h1m1 0h1m0 0h1m-18 1h1m2 0h1m2 0h1m0 0h1m1 0h1m0 0h1m0 0h1m3 0h1m-13 1h1m2 0h1m4 0h1m0 0h1m2 0h1m-11 1h1m4 0h1m1 0h1m0 0h1m3 0h1m0 0h1" stroke="#2a48e4" stroke-width="1.0" stroke-opacity="0.78" fill="none"/>
<path d="M483 69.5h1m-6 1h1m10 0h1m-6 1h1m0 0h1m5 0h1m-13 1h1m2 0h1m3 0h1m-6 1h1m2 1h1m5 0h1m0 1h1m-10 1h1m4 0h1m-6 1h1m-2 1h1m15 0h1m-11 1h1m-9 1h1m5 0h1m0 0h1m-7 1h1m4 0h1m3 0h1m-11 1h1m6 0h1m0 0h1m6 0h1m-10 1h1m5 0h1m-8 1h1m2 0h1m-8 1h1m1 0h1m2 0h1m4 0h1m0 0h1m5 0h1m3 0h1m-24 1h1m0 0h1m5 0h1m-5 1h1m2 0h1m2 0h1m0 0h1m-11 1h1m1 0h1m4 0h1m6 0h1m-8 1h1m0 0h1m12 1h1m-21 1h1m8 0h1m0 0h1m-10 1h1m10 0h1m-11 1h1m2 0h1m-4 1h1m0 0h1m8 0h1m-12 1h1m1 0h1m4 0h1m-6 1h1m0 0h1m5 1h1m7 0h1m-19 1h1m1 0h1m5 0h1m-3 1h1m-7 1h1m3 0h1m1 0h1m3 0h1m-12 1h1m3 0h1m4 0h1m-9 1h1m4 0h1m0 0h1m0 0h1m-8 1h1m0 0h1m4 0h1m1 0h1m1 0h1m0 0h1m3 0h1m-16 2h1m1 0h1m4 0h1m14 0h1m-24 1h1m1 0h1m2 0h1m1 0h1m0 0h1m0 0h1m1 0h1m-9 1h1m8 0h1m0 0h1m-11 1h1" stroke="#12960f" stroke-width="1.0" stroke-opacity="0.4" fill="none"/>
<path d="M523 57.5h1m2 0h1m2 0h1m-9 3h1m1 0h1m5 0h1m-7 1h1m-6 1h1m11 0h1m-15 1h1m1 0h1m3 0h1m1 1h1m-10 1h1m2 0h1m2 0h1m1 0h1m-8 1h1m6 0h1m1 0h1m-10 1h1m3 0h1m2 0h1m-13 1h1m7 0h1m0 0h1m1 0h1m-7 1h1m0 0h1m0 0h1m1 0h1m-9 1h1m0 0h1m0 0h1m0 0h1m0 0h1m2 0h1m-15 1h1m8 0h1m2 0h1m1 0h1m4 0h1m-11 1h1m0 0h1m0 0h1m0 0h1m-5 1h1m0 0h1m1 0h1m2 0h1m-12 1h1m0 0h1m0 0h1m0 0h1m0 0h1m0 0h1m0 0h1m0 0h1m-9 1h1m0 0h1m0 0h1m1 0h1m0 0h1m-6 1h1m0 0h1m0 0h1m5 0h1m0 0h1m3 0h1m-17 1h1m1 0h1m1 0h1m0 0h1m0 0h1m1 0h1m0 0h1m0 0h1m0 0h1m0 0h1m0 0h1m-13 1h1m0 0h1m0 0h1m0 0h1m3 0h1m0 0h1m1 0h1m-15 1h1m0 0h1m1 0h1m1 0h1m1 0h1m1 0h1m1 0h1m-14 1h1m2 0h1m0 0h1m0 0h1m0 0h1m2 0h1m1 0h1m-13 1h1m0 0h1m2 0h1m1 0h1m0 0h1m2 0h1m1 0h1m-10 1h1m1 0h1m0 0h1m0 0h1m0 0h1m1 0h1m0 0h1m-10 1h1m0 0h1m0 0h1m1 0h1m2 0h1m0 0h1m0 0h1m-14 1h1m0 0h1m2 0h1m0 0h1m0 0h1m0 0h1m0 0h1m2 0h1m3 0h1m-7 1h1m0 0h1m-15 1h1m5 0h1m0 0h1m0 0h1m0 0h1m0 0h1m5 0h1m-14 1h1m2 0h1m0 0h1m0 0h1m0 0h1m2 0h1m1 0h1m-15 1h1m3 0h1m0 0h1m2 0h1m0 0h1m0 0h1m-9 1h1m1 0h1m0 0h1m0 0h1m2 0h1m0 0h1m-4 1h1m0 0h1m1 0h1m-12 1h1m1 0h1m0 0h1m0 0h1m1 0h1m0 0h1m2 0h1m0 0h1m2 0h1m-20 1h1m8 0h1m5 0h1m3 0h1m-11 1h1m0 0h1m4 0h1m-17 1h1m3 0h1m0 0h1m0 0h1m3 0h1m0 0h1m0 0h1m5 0h1m-15 1h1m8 0h1m-9 1h1m3 0h1m-4 1h1m3 0h1m-7 1h1m-4 1h1m-3 1h1m5 0h1m-9 1h1m7 1h1m-7 1h1m-4 1h1" stroke="#12960f" stroke-width="1.0" stroke-opacity="0.5" fill="none"/>
<path d="M537 50.5h1m-4 3h1m-4 2h1m0 0h1m-3 1h1m0 0h1m-6 1h1m1 0h1m1 0h1m0 0h1m1 0h1m-7 1h1m2 0h1m-6 1h1m1 0h1m0 0h1m0 0h1m-4 1h1m0 0h1m0 0h1m2 0h1m-7 1h1m0 0h1m0 0h1m1 0h1m0 0h1m-8 1h1m0 0h1m0 0h1m0 0h1m0 0h1m0 0h1m0 0h1m-8 1h1m0 0h1m0 0h1m1 0h1m1 0h1m-8 1h1m0 0h1m0 0h1m0 0h1m0 0h1m0 0h1m-8 1h1m0 0h1m0 0h1m0 0h1m0 0h1m1 0h1m-8 1h1m0 0h1m0 0h1m0 0h1m0 0h1m0 0h1m0 0h1m-9 1h1m2 0h1m0 0h1m0 0h1m0 0h1m0 0h1m-9 1h1m1 0h1m0 0h1m0 0h1m0 0h1m0 0h1m0 0h1m0 0h1m-9 1h1m0 0h1m0 0h1m0 0h1m0 0h1m0 0h1m0 0h1m-8 1h1m0 0h1m0 0h1m0 0h1m0 0h1m0 0h1m-8 1h1m1 0h1m0 0h1m0 0h1m0 0h1m0 0h1m0 0h1m-10 1h1m0 0h1m0 0h1m0 0h1m0 0h1m0 0h1m0 0h1m0 0h1m-6 1h1m0 0h1m0 0h1m0 0h1m0 0h1m0 0h1m0 0h1m-10 1h1m0 0h1m0 0h1m0 0h1m0 0h1m0 0h1m0 0h1m0 0h1m-8 1h1m0 0h1m0 0h1m0 0h1m0 0h1m0 0h1m0 0h1m-8 1h1m0 0h1m0 0h1m0 0h1m0 0h1m0 0h1m0 0h1m-9 1h1m0 0h1m0 0h1m0 0h1m0 0h1m0 0h1m0 0h1m0 0h1m-9 1h1m0 0h1m0 0h1m0 0h1m0 0h1m0 0h1m0 0h1m0 0h1m0 0h1m0 0h1m-10 1h1m0 0h1m0 0h1m0 0h1m0 0h1m0 0h1m0 0h1m-8 1h1m0 0h1m0 0h1m0 0h1m0 0h1m0 0h1m0 0h1m-8 1h1m0 0h1m0 0h1m0 0h1m0 0h1m0 0h1m0 0h1m-8 1h1m0 0h1m0 0h1m0 0h1m0 0h1m0 0h1m0 0h1m-8 1h1m0 0h1m0 0h1m0 0h1m0 0h1m0 0h1m-7 1h1m0 0h1m0 0h1m0 0h1m0 0h1m0 0h1m0 0h1m-8 1h1m0 0h1m0 0h1m0 0h1m0 0h1m0 0h1m-8 1h1m0 0h1m0 0h1m0 0h1m0 0h1m0 0h1m1 0h1m-7 1h1m0 0h1m0 0h1m0 0h1m-6 1h1m0 0h1m0 0h1m0 0h1m0 0h1m0 0h1m-5 1h1m0 0h1m0 0h1m0 0h1m0 0h1m-8 1h1m0 0h1m1 0h1m-5 1h1m1 0h1m0 0h1m0 0h1m-6 1h1m2 0h1m0 0h1m1 0h1m-6 2h1m-2 1h1m-4 3h1" stroke="#12960f" stroke-width="1.0" fill="none"/>
</g>
<g filter="url(#soft)">
<path d="M478 265.5h1m-17 1h1m0 0h1m6 0h1m1 0h1m-20 1h1m8 0h1m3 0h1m4 0h1m0 0h1m-11 1h1m1 0h1m6 0h1m0 0h1m1 0h1m-21 1h1m6 0h1m13 0h1m-19 1h1m2 0h1m3 0h1m3 0h1m4 0h1m0 0h1m4 0h1m-27 1h1m2 0h1m0 0h1m14 0h1m-14 1h1m1 0h1m1 0h1m2 0h1m0 0h1m0 0h1m3 0h1m7 0h1m-27 1h1m5 0h1m2 0h1m0 0h1m3 0h1m0 0h1m1 0h1m0 0h1m4 0h1m-20 1h1m0 0h1m0 0h1m1 0h1m1 0h1m3 0h1m2 0h1m1 0h1m1 0h1m2 0h1m-32 1h1m0 0h1m12 0h1m0 0h1m2 0h1m1 0h1m2 0h1m2 0h1m0 0h1m-22 1h1m1 0h1m0 0h1m6 0h1m1 0h1m0 0h1m2 0h1m1 0h1m0 0h1m3 0h1m0 0h1m-24 1h1m1 0h1m1 0h1m2 0h1m5 0h1m4 0h1m3 0h1m1 0h1m-19 1h1m1 0h1m2 0h1m1 0h1m4 0h1m0 0h1m3 0h1m0 0h1m-23 1h1m0 0h1m0 0h1m0 0h1m1 0h1m2 0h1m0 0h1m2 0h1m2 0h1m0 0h1m0 0h1m2 0h1m-31 1h1m9 0h1m0 0h1m0 0h1m1 0h1m1 0h1m0 0h1m0 0h1m2 0h1m1 0h1m3 0h1m2 0h1m-21 1h1m3 0h1m2 0h1m2 0h1m2 0h1m1 0h1m7 0h1m-23 1h1m1 0h1m5 0h1m0 0h1m1 0h1m0 0h1m1 0h1m-29 1h1m6 0h1m2 0h1m2 0h1m4 0h1m0 0h1m0 0h1m0 0h1m2 0h1m4 0h1m3 0h1m-22 1h1m2 0h1m6 0h1m0 0h1m0 0h1m0 0h1m1 0h1m2 0h1m-28 1h1m3 0h1m4 0h1m7 0h1m0 0h1m0 0h1m0 0h1m1 0h1m0 0h1m1 0h1m3 0h1m-29 1h1m5 0h1m0 0h1m4 0h1m0 0h1m3 0h1m-14 1h1m0 0h1m1 0h1m1 0h1m0 0h1m2 0h1m0 0h1m0 0h1m4 0h1m1 0h1m-21 1h1m3 0h1m2 0h1m1 0h1m2 0h1m5 0h1m10 0h1m-26 1h1m1 0h1m5 0h1m1 0h1m0 0h1m0 0h1m1 0h1m3 0h1m-23 1h1m9 0h1m1 0h1m1 0h1m1 0h1m-19 1h1m6 0h1m3 0h1m3 0h1m3 0h1m-16 1h1m5 0h1m6 0h1m-18 1h1m7 0h1m0 0h1m1 0h1m9 0h1m1 0h1m-18 1h1m1 0h1m1 0h1m1 0h1m-14 1h1m19 0h1m3 0h1m-18 1h1m7 1h1m1 0h1m-20 1h1m21 0h1m-9 1h1m-11 1h1m14 0h1m-5 1h1m5 0h1m-19 6h1" stroke="#000" stroke-width="1.0" stroke-opacity="0.55" fill="none"/>
<path d="M465 265.5h1m5 0h1m1 0h1m4 0h1m-12 1h1m0 0h1m0 0h1m1 0h1m2 0h1m1 0h1m-12 1h1m2 0h1m0 0h1m0 0h1m1 0h1m0 0h1m0 0h1m-9 1h1m0 0h1m0 0h1m0 0h1m0 0h1m0 0h1m0 0h1m0 0h1m0 0h1m0 0h1m1 0h1m0 0h1m-15 1h1m0 0h1m0 0h1m0 0h1m0 0h1m0 0h1m0 0h1m0 0h1m0 0h1m0 0h1m0 0h1m1 0h1m0 0h1m-17 1h1m0 0h1m2 0h1m0 0h1m0 0h1m0 0h1m0 0h1m1 0h1m0 0h1m0 0h1m0 0h1m0 0h1m0 0h1m0 0h1m-17 1h1m2 0h1m0 0h1m1 0h1m0 0h1m1 0h1m0 0h1m0 0h1m0 0h1m0 0h1m0 0h1m0 0h1m0 0h1m-19 1h1m1 0h1m0 0h1m0 0h1m0 0h1m1 0h1m0 0h1m0 0h1m0 0h1m1 0h1m0 0h1m0 0h1m1 0h1m2 0h1m0 0h1m-21 1h1m5 0h1m0 0h1m0 0h1m0 0h1m0 0h1m0 0h1m0 0h1m0 0h1m0 0h1m0 0h1m1 0h1m-17 1h1m0 0h1m0 0h1m0 0h1m0 0h1m0 0h1m0 0h1m0 0h1m0 0h1m0 0h1m0 0h1m0 0h1m0 0h1m0 0h1m0 0h1m1 0h1m-17 1h1m0 0h1m0 0h1m0 0h1m0 0h1m0 0h1m0 0h1m0 0h1m0 0h1m0 0h1m0 0h1m0 0h1m0 0h1m0 0h1m1 0h1m0 0h1m0 0h1m-19 1h1m0 0h1m0 0h1m0 0h1m0 0h1m0 0h1m0 0h1m0 0h1m0 0h1m0 0h1m0 0h1m0 0h1m0 0h1m0 0h1m0 0h1m0 0h1m0 0h1m-18 1h1m1 0h1m0 0h1m0 0h1m0 0h1m0 0h1m0 0h1m0 0h1m0 0h1m0 0h1m0 0h1m0 0h1m0 0h1m0 0h1m0 0h1m0 0h1m1 0h1m-22 1h1m2 0h1m0 0h1m1 0h1m0 0h1m0 0h1m0 0h1m0 0h1m0 0h1m0 0h1m0 0h1m0 0h1m0 0h1m0 0h1m1 0h1m-16 1h1m0 0h1m0 0h1m0 0h1m0 0h1m0 0h1m0 0h1m0 0h1m0 0h1m0 0h1m0 0h1m0 0h1m0 0h1m0 0h1m0 0h1m1 0h1m1 0h1m0 0h1m-23 1h1m2 0h1m2 0h1m0 0h1m0 0h1m0 0h1m0 0h1m1 0h1m0 0h1m0 0h1m0 0h1m0 0h1m-12 1h1m1 0h1m0 0h1m0 0h1m1 0h1m0 0h1m0 0h1m0 0h1m1 0h1m1 0h1m1 0h1m-21 1h1m2 0h1m0 0h1m0 0h1m0 0h1m0 0h1m0 0h1m0 0h1m0 0h1m0 0h1m0 0h1m0 0h1m0 0h1m2 0h1m-22 1h1m6 0h1m0 0h1m0 0h1m0 0h1m0 0h1m0 0h1m0 0h1m0 0h1m0 0h1m0 0h1m-12 1h1m1 0h1m1 0h1m0 0h1m0 0h1m0 0h1m0 0h1m0 0h1m0 0h1m1 0h1m-13 1h1m1 0h1m0 0h1m2 0h1m0 0h1m0 0h1m0 0h1m1 0h1m0 0h1m2 0h1m-13 1h1m3 0h1m0 0h1m0 0h1m1 0h1m-11 1h1m0 0h1m2 0h1m-8 1h1m7 0h1m7 0h1m-11 1h1m2 0h1m2 0h1m1 1h1m-7 1h1m3 2h1" stroke="#000" stroke-width="1.0" stroke-opacity="0.9" fill="none"/>
<path d="M473 215.5h1m-25 3h1m14 3h1m-3 1h1m9 1h1m0 0h1m-8 1h1m4 0h1m-5 1h1m-14 1h1m21 0h1m-27 1h1m5 1h1m10 0h1m3 0h1m-31 1h1m17 0h1m2 0h1m1 0h1m2 0h1m5 0h1m-26 1h1m16 0h1m-15 1h1m2 0h1m17 0h1m-16 1h1m4 0h1m-7 1h1m0 0h1m4 0h1m12 0h1m-28 1h1m6 0h1m2 0h1m10 0h1m6 0h1m-25 1h1m7 0h1m1 0h1m0 0h1m3 0h1m-19 1h1m1 0h1m11 0h1m0 0h1m2 0h1m-19 1h1m2 0h1m0 0h1m3 0h1m4 0h1m0 0h1m1 0h1m0 0h1m5 0h1m5 0h1m-31 1h1m1 0h1m2 0h1m5 0h1m4 0h1m2 0h1m4 0h1m1 0h1m-27 1h1m3 0h1m0 0h1m2 0h1m8 0h1m-16 1h1m1 0h1m9 0h1m1 0h1m1 0h1m0 0h1m0 0h1m0 0h1m0 0h1m0 0h1m0 0h1m-18 1h1m3 0h1m1 0h1m0 0h1m0 0h1m1 0h1m1 0h1m7 0h1m-23 1h1m1 0h1m2 0h1m1 0h1m1 0h1m1 0h1m1 0h1m1 0h1m-30 1h1m14 0h1m3 0h1m3 0h1m2 0h1m0 0h1m0 0h1m0 0h1m8 0h1m-32 1h1m0 0h1m6 0h1m7 0h1m1 0h1m6 0h1m1 0h1m0 0h1m3 0h1m-20 1h1m0 0h1m1 0h1m0 0h1m2 0h1m2 0h1m-22 1h1m6 0h1m2 0h1m0 0h1m0 0h1m2 0h1m3 0h1m1 0h1m4 0h1m1 0h1m0 0h1m-28 1h1m3 0h1m3 0h1m0 0h1m2 0h1m1 0h1m0 0h1m2 0h1m0 0h1m1 0h1m-23 1h1m2 0h1m4 0h1m1 0h1m1 0h1m1 0h1m1 0h1m0 0h1m0 0h1m1 0h1m1 0h1m1 0h1m-28 1h1m4 0h1m0 0h1m2 0h1m2 0h1m3 0h1m2 0h1m4 0h1m0 0h1m0 0h1m3 0h1m-29 1h1m0 0h1m9 0h1m4 0h1m2 0h1m0 0h1m2 0h1m-29 1h1m6 0h1m2 0h1m2 0h1m5 0h1m0 0h1m5 0h1m3 0h1m0 0h1m-34 1h1m1 0h1m3 0h1m4 0h1m4 0h1m1 0h1m0 0h1m3 0h1m1 0h1m2 0h1m4 0h1m0 0h1m0 0h1m-41 1h1m8 0h1m3 0h1m3 0h1m5 0h1m0 0h1m0 0h1m3 0h1m1 0h1m1 0h1m1 0h1m3 0h1m-29 1h1m2 0h1m4 0h1m3 0h1m4 0h1m5 0h1m1 0h1m-15 1h1m0 0h1m1 0h1m0 0h1m0 0h1m0 0h1m0 0h1m0 0h1m1 0h1m1 0h1m1 0h1m4 0h1m0 0h1m-29 1h1m1 0h1m5 0h1m1 0h1m0 0h1m0 0h1m0 0h1m2 0h1m0 0h1m3 0h1m0 0h1m0 0h1m-30 1h1m2 0h1m3 0h1m6 0h1m0 0h1m1 0h1m2 0h1m0 1h1m1 0h1m0 0h1m6 0h1m-33 1h1m8 0h1m0 0h1m5 0h1m0 0h1m2 0h1m0 0h1m1 0h1m1 0h1m2 0h1m-17 1h1m1 1h1m1 0h1m1 0h1m4 0h1m3 0h1m0 0h1m-30 1h1m10 0h1m5 0h1m3 0h1m0 0h1m3 0h1m4 0h1m-23 1h1m8 0h1m6 0h1m0 0h1m1 0h1m2 0h1m-19 1h1m4 0h1m0 0h1m1 0h1m0 0h1m5 0h1m3 0h1m2 0h1m-20 1h1" stroke="#2a48e4" stroke-width="1.0" stroke-opacity="0.45" fill="none"/>
<path d="M466 209.5h1m-5 7h1m10 5h1m-2 1h1m0 0h1m1 0h1m-14 1h1m3 0h1m1 0h1m1 0h1m0 0h1m2 0h1m-14 1h1m1 0h1m1 0h1m0 0h1m2 0h1m0 0h1m0 0h1m3 0h1m1 0h1m-18 1h1m4 0h1m0 0h1m1 0h1m2 0h1m1 0h1m0 0h1m2 0h1m-15 1h1m4 0h1m1 0h1m0 0h1m4 0h1m0 0h1m0 0h1m-17 1h1m0 0h1m1 0h1m0 0h1m0 0h1m1 0h1m0 0h1m0 0h1m1 0h1m0 0h1m0 0h1m2 0h1m-7 1h1m1 0h1m-16 1h1m0 0h1m0 0h1m1 0h1m0 0h1m1 0h1m0 0h1m0 0h1m3 0h1m1 0h1m1 0h1m0 0h1m0 0h1m-22 1h1m4 0h1m0 0h1m0 0h1m1 0h1m0 0h1m0 0h1m0 0h1m0 0h1m0 0h1m3 0h1m-18 1h1m2 0h1m0 0h1m6 0h1m0 0h1m0 0h1m0 0h1m1 0h1m-15 1h1m0 0h1m1 0h1m0 0h1m0 0h1m0 0h1m0 0h1m2 0h1m0 0h1m1 0h1m0 0h1m2 0h1m-27 1h1m5 0h1m0 0h1m1 0h1m1 0h1m0 0h1m0 0h1m0 0h1m0 0h1m0 0h1m0 0h1m0 0h1m0 0h1m0 0h1m0 0h1m0 0h1m0 0h1m0 0h1m0 0h1m-19 1h1m0 0h1m0 0h1m0 0h1m0 0h1m0 0h1m0 0h1m0 0h1m0 0h1m0 0h1m0 0h1m0 0h1m0 0h1m0 0h1m0 0h1m0 0h1m1 0h1m0 0h1m0 0h1m0 0h1m-30 1h1m4 0h1m7 0h1m0 0h1m0 0h1m0 0h1m0 0h1m0 0h1m0 0h1m0 0h1m0 0h1m0 0h1m0 0h1m0 0h1m0 0h1m0 0h1m0 0h1m1 0h1m-17 1h1m0 0h1m0 0h1m0 0h1m0 0h1m0 0h1m0 0h1m0 0h1m0 0h1m0 0h1m0 0h1m0 0h1m0 0h1m0 0h1m1 0h1m0 0h1m-24 1h1m1 0h1m2 0h1m0 0h1m0 0h1m0 0h1m0 0h1m1 0h1m1 0h1m0 0h1m0 0h1m0 0h1m0 0h1m0 0h1m0 0h1m0 0h1m0 0h1m0 0h1m0 0h1m-21 1h1m2 0h1m0 0h1m0 0h1m0 0h1m0 0h1m0 0h1m0 0h1m0 0h1m0 0h1m0 0h1m0 0h1m0 0h1m1 0h1m0 0h1m0 0h1m0 0h1m0 0h1m-23 1h1m0 0h1m1 0h1m0 0h1m0 0h1m1 0h1m1 0h1m0 0h1m0 0h1m0 0h1m0 0h1m0 0h1m0 0h1m0 0h1m0 0h1m0 0h1m0 0h1m0 0h1m1 0h1m-28 1h1m4 0h1m0 0h1m1 0h1m2 0h1m1 0h1m0 0h1m0 0h1m0 0h1m0 0h1m0 0h1m0 0h1m0 0h1m0 0h1m0 0h1m0 0h1m0 0h1m0 0h1m0 0h1m0 0h1m-21 1h1m1 0h1m1 0h1m0 0h1m0 0h1m0 0h1m0 0h1m0 0h1m0 0h1m0 0h1m0 0h1m0 0h1m0 0h1m0 0h1m0 0h1m0 0h1m0 0h1m0 0h1m0 0h1m-21 1h1m0 0h1m0 0h1m0 0h1m0 0h1m0 0h1m0 0h1m0 0h1m0 0h1m0 0h1m0 0h1m0 0h1m0 0h1m0 0h1m0 0h1m0 0h1m0 0h1m0 0h1m0 0h1m1 0h1m-24 1h1m1 0h1m3 0h1m0 0h1m0 0h1m0 0h1m0 0h1m0 0h1m0 0h1m0 0h1m0 0h1m0 0h1m0 0h1m0 0h1m0 0h1m0 0h1m0 0h1m0 0h1m0 0h1m0 0h1m-20 1h1m0 0h1m2 0h1m0 0h1m1 0h1m0 0h1m0 0h1m0 0h1m0 0h1m0 0h1m0 0h1m0 0h1m0 0h1m0 0h1m0 0h1m0 0h1m0 0h1m-22 1h1m0 0h1m0 0h1m0 0h1m0 0h1m0 0h1m0 0h1m0 0h1m0 0h1m0 0h1m0 0h1m0 0h1m0 0h1m0 0h1m0 0h1m0 0h1m0 0h1m0 0h1m0 0h1m0 0h1m0 0h1m0 0h1m-22 1h1m2 0h1m1 0h1m0 0h1m0 0h1m0 0h1m0 0h1m0 0h1m0 0h1m0 0h1m0 0h1m0 0h1m0 0h1m0 0h1m0 0h1m0 0h1m0 0h1m0 0h1m0 0h1m-23 1h1m2 0h1m3 0h1m0 0h1m0 0h1m0 0h1m0 0h1m0 0h1m0 0h1m0 0h1m0 0h1m0 0h1m0 0h1m0 0h1m0 0h1m0 0h1m0 0h1m-19 1h1m1 0h1m2 0h1m0 0h1m0 0h1m0 0h1m0 0h1m0 0h1m0 0h1m0 0h1m0 0h1m0 0h1m0 0h1m0 0h1m0 0h1m0 0h1m0 0h1m-24 1h1m3 0h1m0 0h1m0 0h1m0 0h1m0 0h1m0 0h1m0 0h1m0 0h1m0 0h1m0 0h1m0 0h1m0 0h1m0 0h1m1 0h1m0 0h1m0 0h1m0 0h1m0 0h1m0 0h1m-19 1h1m0 0h1m1 0h1m0 0h1m0 0h1m0 0h1m0 0h1m0 0h1m0 0h1m0 0h1m0 0h1m0 0h1m0 0h1m0 0h1m0 0h1m0 0h1m0 0h1m-22 1h1m3 0h1m0 0h1m0 0h1m0 0h1m0 0h1m1 0h1m0 0h1m0 0h1m0 0h1m0 0h1m0 0h1m0 0h1m0 0h1m0 0h1m0 0h1m0 0h1m0 0h1m-25 1h1m2 0h1m3 0h1m0 0h1m0 0h1m0 0h1m0 0h1m0 0h1m0 0h1m0 0h1m0 0h1m0 0h1m0 0h1m0 0h1m0 0h1m0 0h1m0 0h1m0 0h1m0 0h1m0 0h1m0 0h1m-24 1h1m5 0h1m1 0h1m2 0h1m1 0h1m0 0h1m0 0h1m0 0h1m0 0h1m0 0h1m0 0h1m0 0h1m0 0h1m0 0h1m-20 1h1m0 0h1m0 0h1m0 0h1m0 0h1m0 0h1m0 0h1m0 0h1m0 0h1m0 0h1m0 0h1m0 0h1m0 0h1m0 0h1m0 0h1m0 0h1m0 0h1m2 0h1m-20 1h1m1 0h1m1 0h1m0 0h1m1 0h1m0 0h1m0 0h1m0 0h1m0 0h1m0 0h1m0 0h1m0 0h1m0 0h1m0 0h1m0 0h1m0 0h1m-19 1h1m0 0h1m2 0h1m0 0h1m0 0h1m0 0h1m0 0h1m0 0h1m0 0h1m0 0h1m0 0h1m0 0h1m0 0h1m0 0h1m0 0h1m0 0h1m0 0h1m0 0h1m0 0h1m-22 1h1m0 0h1m3 0h1m0 0h1m0 0h1m1 0h1m0 0h1m0 0h1m0 0h1m0 0h1m1 0h1m0 0h1m0 0h1m1 0h1m0 0h1m0 0h1m-22 1h1m1 0h1m0 0h1m1 0h1m0 0h1m0 0h1m0 0h1m0 0h1m0 0h1m0 0h1m0 0h1m0 0h1m0 0h1m0 0h1m0 0h1m0 0h1m0 0h1m-17 1h1m2 0h1m0 0h1m0 0h1m0 0h1m0 0h1m0 0h1m0 0h1m0 0h1m2 0h1m1 0h1m1 0h1m0 0h1m0 0h1m-17 1h1m0 0h1m0 0h1m1 0h1m0 0h1m0 0h1m0 0h1m0 0h1m0 0h1m0 0h1m1 0h1m1 0h1m-14 1h1m1 0h1m0 0h1m0 0h1m0 0h1m0 0h1m0 0h1m0 0h1m0 0h1m1 0h1m1 0h1m0 0h1m-27 1h1m10 0h1m0 0h1m0 0h1m0 0h1m2 0h1m0 0h1m1 0h1m0 0h1m0 0h1m0 0h1m1 0h1m-19 1h1m2 0h1m2 0h1m4 0h1m0 0h1m0 0h1m0 0h1m0 0h1m-12 1h1m2 0h1m0 0h1m1 0h1m0 0h1m0 0h1m1 0h1m2 0h1m0 0h1m-14 1h1m0 0h1m0 0h1m2 0h1m0 0h1m0 0h1" stroke="#2a48e4" stroke-width="1.0" stroke-opacity="0.9" fill="none"/>
<path d="M492 225.5h1m-11 1h1m0 0h1m1 0h1m-5 1h1m0 2h1m-2 1h1m0 0h1m0 0h1m6 0h1m1 0h1m-12 1h1m8 0h1m-4 1h1m-3 2h1m6 0h1m-13 1h1m1 0h1m5 0h1m-10 1h1m0 0h1m8 0h1m-10 1h1m5 0h1m0 0h1m4 0h1m-12 2h1m0 0h1m2 0h1m2 0h1m4 0h1m-13 1h1m7 0h1m7 0h1m-19 1h1m3 0h1m4 0h1m8 0h1m-18 1h1m0 0h1m0 0h1m-4 1h1m2 0h1m4 0h1m-9 1h1m0 0h1m0 0h1m1 0h1m1 0h1m3 0h1m-9 1h1m0 0h1m1 0h1m-5 1h1m0 0h1m3 0h1m-2 1h1m2 0h1m-5 1h1m0 0h1m5 0h1m1 1h1m-9 1h1m4 0h1m-10 1h1m1 0h1m0 0h1m0 0h1m5 0h1m2 0h1m-14 1h1m0 0h1m-2 1h1m1 0h1m4 0h1m1 0h1m-11 1h1m2 0h1m8 0h1m-13 1h1m1 0h1m3 0h1m5 0h1m1 0h1m-12 1h1m3 0h1m2 0h1m4 0h1m1 0h1m-15 1h1m0 0h1m1 0h1m-7 1h1m2 0h1m7 0h1m-10 1h1m-3 1h1m2 0h1m9 0h1m-12 1h1m1 0h1m3 0h1m3 0h1m0 0h1m5 0h1m-19 2h1m0 0h1m4 0h1m6 0h1m-15 1h1m1 0h1m3 0h1m-1 1h1m2 0h1m3 0h1" stroke="#12960f" stroke-width="1.0" stroke-opacity="0.4" fill="none"/>
</g>
<path d="M119.1 35V172.2M50.5 108.4H189" stroke="#333" stroke-width="1.3" fill="none"/>
<path d="M290.4 35V172.2M221.6 108.8H360.1" stroke="#333" stroke-width="1.3" fill="none"/>
<path d="M477.8 35V172.2M409 108.3H547.5" stroke="#333" stroke-width="1.3" fill="none"/>
<path d="M119.7 191V328.2M50.5 264.3H189" stroke="#333" stroke-width="1.3" fill="none"/>
<path d="M290.8 191V328.2M221.6 265.4H360.1" stroke="#333" stroke-width="1.3" fill="none"/>
<path d="M478.4 191V328.2M409 265H547.5" stroke="#333" stroke-width="1.3" fill="none"/>
<g>
<text x="412.9" y="46.2" font-size="11.8" fill="#2c45c4" textLength="32.2" lengthAdjust="spacing">BFP+</text>
<text x="412.8" y="61.4" font-size="11.8" fill="#2c45c4" textLength="28.8" lengthAdjust="spacing">GFP-</text>
<text x="515.7" y="89.7" font-size="11.8" fill="#2e8a2e" textLength="31.6" lengthAdjust="spacing">BFP+</text>
<text x="515.3" y="105" font-size="11.8" fill="#2e8a2e" textLength="32.9" lengthAdjust="spacing">GFP+</text>
<text x="411.8" y="153.6" font-size="11.8" fill="#111" textLength="27.3" lengthAdjust="spacing">BFP-</text>
<text x="411.3" y="168.5" font-size="11.8" fill="#111" textLength="29.1" lengthAdjust="spacing">GFP-</text>
<text x="412.9" y="203" font-size="11.8" fill="#2c45c4" textLength="32.6" lengthAdjust="spacing">BFP+</text>
<text x="412.7" y="217.7" font-size="11.8" fill="#2c45c4" textLength="28.6" lengthAdjust="spacing">GFP-</text>
<text x="518" y="247" font-size="11.8" fill="#2e8a2e" textLength="31.6" lengthAdjust="spacing">BFP+</text>
<text x="517.7" y="261.7" font-size="11.8" fill="#2e8a2e" textLength="32.9" lengthAdjust="spacing">GFP+</text>
<text x="410.4" y="310.6" font-size="11.8" fill="#111" textLength="27.3" lengthAdjust="spacing">BFP-</text>
<text x="409.9" y="325.2" font-size="11.8" fill="#111" textLength="29.1" lengthAdjust="spacing">GFP-</text>
</g>
<text x="574.9" y="85.7" font-size="13.6" fill="#111" textLength="110.3" lengthAdjust="spacing">polyclonal Cas9</text>
<text x="574.6" y="103.6" font-size="13.6" fill="#111" textLength="106.4" lengthAdjust="spacing">integration line</text>
<text x="575.1" y="120.9" font-size="13.6" fill="#111" textLength="102.4" lengthAdjust="spacing">[<tspan font-style="italic">LIG4</tspan>- Cas9+]</text>
<text x="571.2" y="260.8" font-size="13.6" fill="#111" textLength="110.7" lengthAdjust="spacing">clonal Cas9 line</text>
<text x="571.5" y="278.6" font-size="13.6" fill="#111" textLength="103.3" lengthAdjust="spacing">[<tspan font-style="italic">LIG4</tspan>- Cas9+]</text>
<path d="M15.2 40V338.2" stroke="#8a8a8a" stroke-width="2" fill="none"/>
<path d="M15.2 34.5L18.9 40.8H11.5Z" fill="#000"/>
<path d="M35.9 358.6H555" stroke="#444" stroke-width="1.7" fill="none"/>
<path d="M562.8 358.7L554 353.9V363.5Z" fill="#000"/>
<text transform="translate(8.9 178.5) rotate(-90)" font-size="12.6" fill="#111" text-anchor="middle" textLength="22.5" lengthAdjust="spacing">BFP</text>
<text x="288.2" y="376" font-size="12.2" fill="#111" textLength="24.7" lengthAdjust="spacing">GFP</text>
<text x="4" y="397.7" font-size="14.2" fill="#111" font-family="Liberation Sans, sans-serif">b</text>
<path d="M49.3 553.5L49.8 550.8 50.2 550.4 50.6 550.8 51 551.6 51.4 552.3 51.8 552.7 52.2 552.9 52.6 552.9 53 552.9 53.4 552.9 53.8 552.9 54.2 552.9 54.6 552.9 55 552.9 55.4 552.9 55.8 552.9 56.2 552.9 56.6 552.9 57 552.9 57.4 552.9 57.8 552.9 58.2 552.9 58.6 552.9 59 552.9 59.4 552.9 59.8 552.9 60.2 552.9 60.6 552.9 61 552.9 61.4 552.9 61.8 552.9 62.2 552.9 62.6 552.9 63 552.9 63.4 552.9 63.8 552.9 64.2 552.9 64.6 552.9 65 552.9 65.4 552.9 65.8 552.9 66.2 552.9 66.6 552.9 67 552.9 67.4 552.9 67.8 552.9 68.2 552.9 68.6 552.9 69 552.9 69.4 552.9 69.8 552.9 70.2 552.9 70.6 552.9 71 552.9 71.4 552.9 71.8 552.9 72.2 552.9 72.6 552.9 73 552.9 73.4 552.9 73.8 552.9 74.2 552.9 74.6 552.9 75 552.9 75.4 552.9 75.8 552.9 76.2 552.9 76.6 552.9 77 552.9 77.4 552.9 77.8 552.9 78.2 552.9 78.6 552.9 79 552.9 79.4 552.9 79.8 552.9 80.2 552.9 80.6 552.9 81 552.9 81.4 552.9 81.8 552.9 82.2 552.9 82.6 552.9 83 552.9 83.4 552.9 83.8 552.9 84.2 552.9 84.6 552.9 85 552.9 85.4 552.9 85.8 552.9 86.2 552.9 86.6 552.9 87 552.9 87.4 552.9 87.8 552.9 88.2 552.9 88.6 552.9 89 552.9 89.4 552.9 89.8 552.9 90.2 552.9 90.6 552.9 91 552.9 91.4 552.9 91.8 552.9 92.2 552.9 92.6 552.9 93 552.9 93.4 552.9 93.8 552.9 94.2 552.9 94.6 552.9 95 552.9 95.4 552.9 95.8 552.9 96.2 552.9 96.6 552.9 97 552.9 97.4 552.9 97.8 552.9 98.2 552.9 98.6 552.9 99 552.9 99.4 552.9 99.8 552.9 100.2 552.9 100.6 552.9 101 552.9 101.4 552.9 101.8 552.9 102.2 552.9 102.6 552.9 103 552.9 103.4 552.9 103.8 552.9 104.2 552.9 104.6 552.9 105 552.9 105.4 552.9 105.8 552.9 106.2 552.9 106.6 552.9 107 552.9 107.4 552.9 107.8 552.9 108.2 552.9 108.6 552.8 109 552.8 109.4 552.7 109.8 552.4 110.2 552 110.6 551.2 111 550.1 111.4 548.4 111.8 546.4 112.2 544.1 112.6 542.1 113 540.7 113.4 540.2 113.8 540.6 114.2 541.9 114.6 543.5 115 545.1 115.4 546.6 115.8 547.6 116.2 548.3 116.6 548.7 117 548.9 117.4 549 117.8 549 118.2 548.9 118.6 548.9 119 548.7 119.4 548.6 119.8 548.4 120.2 548.2 120.6 547.9 121 547.6 121.4 547.2 121.8 546.9 122.2 546.5 122.6 546 123 545.4 123.4 544.3 123.8 541.8 124.2 536.3 124.6 525.5 125 507.6 125.4 482.9 125.8 455.8 126.2 434.3 126.6 426.3 127 435.1 127.4 457.3 127.8 485 128.2 510.2 128.6 528.5 129 539.5 129.4 545.1 129.8 547.5 130.2 548.5 130.6 548.8 131 548.9 131.4 549 131.8 549 132.2 549.1 132.6 549.1 133 549.1 133.4 549.1 133.8 549.1 134.2 549.1 134.6 549.1 135 549.1 135.4 549.1 135.8 549.1 136.2 549.1 136.6 549.1 137 549.1 137.4 549 137.8 548.7 138.2 548.3 138.6 547.7 139 546.7 139.4 545.6 139.8 544.6 140.2 544 140.6 544 141 544.9 141.4 546.3 141.8 547.9 142.2 549.5 142.6 550.8 143 551.7 143.4 552.3 143.8 552.6 144.2 552.8 144.6 552.8 145 552.9 145.4 552.9 145.8 552.9 146.2 552.9 146.6 552.9 147 552.9 147.4 552.9 147.8 552.9 148.2 552.9 148.6 552.9 149 552.9 149.4 552.9 149.8 552.9 150.2 552.9 150.6 552.9 151 552.9 151.4 552.9 151.8 552.9 152.2 552.9 152.6 552.9 153 552.9 153.4 552.9 153.8 552.9 154.2 552.9 154.6 552.9 155 552.9 155.4 552.9 155.8 552.9 156.2 552.9 156.6 552.9 157 552.9 157.4 552.9 157.8 552.9 158.2 552.9 158.6 552.9 159 552.9 159.4 552.9 159.8 552.9 160.2 552.9 160.6 552.9 161 552.9 161.4 552.9 161.8 552.9 162.2 552.9 162.6 552.9 163 552.9 163.4 552.9 163.8 552.9 164.2 552.9 164.6 552.9 165 552.9 165.4 552.9 165.8 552.9 166.2 552.9 166.6 552.9 167 552.9 167.4 552.9 167.8 552.9 168.2 552.9 168.6 552.9 169 552.9 169.4 552.9 169.8 552.9 170.2 552.9 170.6 552.9 171 552.9 171.4 552.9 171.8 552.9 172.2 552.9 172.6 552.9 173 552.9 173.4 552.9 173.8 552.9 174.2 552.9 174.6 552.9 175 552.9 175.4 552.9 175.8 552.9 176.2 552.9 176.6 552.9 177 552.9 177.4 552.9 177.8 552.9 178.2 552.9 178.6 552.9 179 552.9 179.4 552.9 179.8 552.9 180.2 552.9 180.6 552.9 181 552.9 181.4 552.9 181.8 552.9 182.2 552.9 182.6 552.9 183 552.9 183.4 552.9 183.8 552.9 184.2 552.9 184.6 552.9 185 552.9 185.4 552.9 185.8 552.9 186.2 552.9 186.6 552.9 187 552.9 187.4 552.9 187.8 552.9 188.2 552.9 188.6 552.9 189 552.9 189.4 552.9 189.8 552.9 190.2 552.9 190.6 552.9 191 552.9 191.4 552.9 191.8 552.9 192.2 552.9 192.6 552.9 193 552.9 193.4 552.9 193.8 552.9 194.2 552.9 194.6 552.9 195 552.9 195.4 552.9 195.8 552.9 196.2 552.9 196.6 552.9L197 553.5Z" fill="#999" stroke="#000" stroke-width="1.1" stroke-linejoin="round"/>
<path d="M49.3 407V553.5" stroke="#8a8a8a" stroke-width="0.9" fill="none"/>
<path d="M49.3 553.5H197" stroke="#111" stroke-width="1.2" fill="none"/>
<path d="M45.7 411h3.6M45.7 458.9h3.6M45.7 506.3h3.6M45.7 553.3h3.6M84 553.5v3.4M133.3 553.5v3.4M182.6 553.5v3.4" stroke="#222" stroke-width="1.3" fill="none"/>
<path d="M47.7 423h1.6M47.7 434.9h1.6M47.7 446.9h1.6M47.7 470.8h1.6M47.7 482.6h1.6M47.7 494.4h1.6M47.7 518h1.6M47.7 529.8h1.6M47.7 541.5h1.6M58.2 553.5v1.9M64.4 553.5v1.9M69.2 553.5v1.9M73.1 553.5v1.9M76.4 553.5v1.9M79.2 553.5v1.9M81.7 553.5v1.9M98.8 553.5v1.9M107.5 553.5v1.9M113.7 553.5v1.9M118.5 553.5v1.9M122.4 553.5v1.9M125.7 553.5v1.9M128.5 553.5v1.9M131 553.5v1.9M148.1 553.5v1.9M156.8 553.5v1.9M163 553.5v1.9M167.8 553.5v1.9M171.7 553.5v1.9M175 553.5v1.9M177.8 553.5v1.9M180.3 553.5v1.9" stroke="#444" stroke-width="0.8" fill="none"/>
<g font-family="Liberation Sans, sans-serif" font-size="5.2" fill="#444" text-anchor="end" transform="translate(44.7 0) scale(1.12 1) translate(-44.7 0)">
<text x="44.7" y="412.9">1.5K</text>
<text x="44.7" y="460.8">1.0K</text>
<text x="44.7" y="508.2">500</text>
<text x="44.7" y="555.2">0</text>
</g>
<g font-family="Liberation Sans, sans-serif" font-size="5.6" fill="#444">
<text x="83.6" y="566.9">10<tspan dx="1.2" dy="-3.8" font-size="5.2">5</tspan></text>
<text x="132.9" y="566.9">10<tspan dx="1.2" dy="-3.8" font-size="5.2">6</tspan></text>
<text x="182.2" y="566.9">10<tspan dx="1.2" dy="-3.8" font-size="5.2">7</tspan></text>
</g>
<text x="54.2" y="419.8" font-size="12.2" fill="#111" textLength="101.8" lengthAdjust="spacing">Clonal Line Bank</text>
<text x="54.7" y="448.9" font-size="12.6" fill="#111" textLength="41.2" lengthAdjust="spacing">88.5%</text>
<text x="54.8" y="464.1" font-size="12.6" fill="#111" textLength="44.6" lengthAdjust="spacing">haploid</text>
<text x="109.8" y="516.8" font-size="6.3" fill="#3a3a3a" text-anchor="middle" textLength="7" lengthAdjust="spacingAndGlyphs">1n</text>
<text x="109.8" y="524.8" font-size="6.3" fill="#3a3a3a" text-anchor="middle" textLength="12.2" lengthAdjust="spacingAndGlyphs">9.03</text>
<text x="110.6" y="480.6" font-size="6.3" fill="#3a3a3a" text-anchor="middle" textLength="7" lengthAdjust="spacingAndGlyphs">2n</text>
<text x="110.6" y="488.6" font-size="6.3" fill="#3a3a3a" text-anchor="middle" textLength="12.2" lengthAdjust="spacingAndGlyphs">79.5</text>
<text x="138.6" y="466.5" font-size="6.3" fill="#3a3a3a" text-anchor="middle" textLength="7" lengthAdjust="spacingAndGlyphs">4n</text>
<text x="138.6" y="474.5" font-size="6.3" fill="#3a3a3a" text-anchor="middle" textLength="12.2" lengthAdjust="spacingAndGlyphs">8.38</text>
<path d="M104.4 532H116.6M104.4 529.2v5.6M116.6 529.2v5.6M116.8 495.8H132M116.8 493v5.6M132 493v5.6M131.8 483H146.5M131.8 480.2v5.6M146.5 480.2v5.6" stroke="#222" stroke-width="1" fill="none"/>
<path d="M219.1 555.1L219.6 544.9 220 544.9 220.4 547.6 220.8 550.9 221.2 553.1 221.6 554.1 222 554.4 222.4 554.5 222.8 554.5 223.2 554.5 223.6 554.5 224 554.5 224.4 554.5 224.8 554.5 225.2 554.5 225.6 554.5 226 554.5 226.4 554.5 226.8 554.5 227.2 554.5 227.6 554.5 228 554.5 228.4 554.5 228.8 554.5 229.2 554.5 229.6 554.5 230 554.5 230.4 554.5 230.8 554.5 231.2 554.5 231.6 554.5 232 554.5 232.4 554.5 232.8 554.5 233.2 554.5 233.6 554.5 234 554.5 234.4 554.5 234.8 554.5 235.2 554.5 235.6 554.5 236 554.5 236.4 554.5 236.8 554.5 237.2 554.5 237.6 554.5 238 554.5 238.4 554.5 238.8 554.5 239.2 554.5 239.6 554.5 240 554.5 240.4 554.5 240.8 554.5 241.2 554.5 241.6 554.5 242 554.5 242.4 554.5 242.8 554.5 243.2 554.5 243.6 554.5 244 554.5 244.4 554.5 244.8 554.5 245.2 554.5 245.6 554.5 246 554.5 246.4 554.5 246.8 554.5 247.2 554.5 247.6 554.5 248 554.5 248.4 554.5 248.8 554.5 249.2 554.5 249.6 554.5 250 554.5 250.4 554.5 250.8 554.5 251.2 554.5 251.6 554.5 252 554.5 252.4 554.5 252.8 554.5 253.2 554.5 253.6 554.5 254 554.5 254.4 554.5 254.8 554.5 255.2 554.5 255.6 554.5 256 554.5 256.4 554.5 256.8 554.5 257.2 554.5 257.6 554.5 258 554.5 258.4 554.5 258.8 554.5 259.2 554.5 259.6 554.5 260 554.5 260.4 554.5 260.8 554.5 261.2 554.5 261.6 554.5 262 554.5 262.4 554.5 262.8 554.5 263.2 554.5 263.6 554.5 264 554.5 264.4 554.5 264.8 554.5 265.2 554.5 265.6 554.5 266 554.5 266.4 554.5 266.8 554.5 267.2 554.5 267.6 554.5 268 554.5 268.4 554.5 268.8 554.5 269.2 554.5 269.6 554.5 270 554.5 270.4 554.5 270.8 554.5 271.2 554.5 271.6 554.4 272 554.4 272.4 554.4 272.8 554.4 273.2 554.3 273.6 554.3 274 554.2 274.4 554.2 274.8 554.1 275.2 554.1 275.6 554 276 553.9 276.4 553.8 276.8 553.7 277.2 553.7 277.6 553.6 278 553.6 278.4 553.5 278.8 553.5 279.2 553.4 279.6 553.4 280 553.4 280.4 553.3 280.8 553.3 281.2 553.2 281.6 553.1 282 552.9 282.4 552.8 282.8 552.5 283.2 552.3 283.6 552.1 284 551.9 284.4 551.8 284.8 551.8 285.2 552 285.6 552.2 286 552.4 286.4 552.6 286.8 552.8 287.2 553 287.6 553.1 288 553.2 288.4 553.3 288.8 553.3 289.2 553.3 289.6 553.3 290 553.3 290.4 553.3 290.8 553.3 291.2 553.3 291.6 553.3 292 553.3 292.4 553.1 292.8 552.9 293.2 552.4 293.6 551.4 294 549.7 294.4 547 294.8 543.1 295.2 537.8 295.6 531.6 296 524.9 296.4 518.5 296.8 513 297.2 509.3 297.6 507.9 298 508.8 298.4 511.8 298.8 516.2 299.2 521.2 299.6 525.9 300 529.9 300.4 532.8 300.8 534.9 301.2 536.1 301.6 536.8 302 537.2 302.4 537.4 302.8 537.4 303.2 537.5 303.6 537.5 304 537.5 304.4 537.5 304.8 537.5 305.2 537.4 305.6 537.3 306 537.1 306.4 536.6 306.8 535.6 307.2 533.6 307.6 530.2 308 524.6 308.4 516.2 308.8 504.6 309.2 490.1 309.6 473.5 310 456.7 310.4 442.1 310.8 432.1 311.2 428.5 311.6 432.1 312 442.2 312.4 456.9 312.8 473.9 313.2 490.7 313.6 505.7 314 518 314.4 527.5 314.8 534.7 315.2 540.3 315.6 544.7 316 548 316.4 550.4 316.8 552 317.2 553.1 317.6 553.7 318 554 318.4 554.2 318.8 554.3 319.2 554.4 319.6 554.5 320 554.5 320.4 554.5 320.8 554.5 321.2 554.5 321.6 554.5 322 554.5 322.4 554.5 322.8 554.5 323.2 554.5 323.6 554.5 324 554.5 324.4 554.5 324.8 554.5 325.2 554.5 325.6 554.5 326 554.5 326.4 554.5 326.8 554.5 327.2 554.5 327.6 554.5 328 554.5 328.4 554.5 328.8 554.5 329.2 554.5 329.6 554.5 330 554.5 330.4 554.5 330.8 554.5 331.2 554.5 331.6 554.5 332 554.5 332.4 554.5 332.8 554.5 333.2 554.5 333.6 554.5 334 554.5 334.4 554.5 334.8 554.5 335.2 554.5 335.6 554.5 336 554.5 336.4 554.5 336.8 554.5 337.2 554.5 337.6 554.5 338 554.5 338.4 554.5 338.8 554.5 339.2 554.5 339.6 554.5 340 554.5 340.4 554.5 340.8 554.5 341.2 554.5 341.6 554.5 342 554.5 342.4 554.5 342.8 554.5 343.2 554.5 343.6 554.5 344 554.5 344.4 554.5 344.8 554.5 345.2 554.5 345.6 554.5 346 554.5 346.4 554.5 346.8 554.5 347.2 554.5 347.6 554.5 348 554.5 348.4 554.5 348.8 554.5 349.2 554.5 349.6 554.5 350 554.5 350.4 554.5 350.8 554.5 351.2 554.5 351.6 554.5 352 554.5 352.4 554.5 352.8 554.5 353.2 554.5 353.6 554.5 354 554.5 354.4 554.5 354.8 554.5 355.2 554.5 355.6 554.5 356 554.5 356.4 554.5 356.8 554.5 357.2 554.5 357.6 554.5 358 554.5 358.4 554.5 358.8 554.5 359.2 554.5 359.6 554.5 360 554.5 360.4 554.5 360.8 554.5 361.2 554.5 361.6 554.5 362 554.5 362.4 554.5 362.8 554.5 363.2 554.5 363.6 554.5 364 554.5 364.4 554.5 364.8 554.5L365 555.1Z" fill="#999" stroke="#000" stroke-width="1.1" stroke-linejoin="round"/>
<path d="M219.1 408.7V555.1" stroke="#8a8a8a" stroke-width="0.9" fill="none"/>
<path d="M219.1 555.1H365" stroke="#111" stroke-width="1.2" fill="none"/>
<path d="M215.5 421.1h3.6M215.5 465.8h3.6M215.5 510.4h3.6M215.5 554.9h3.6M251.9 555.1v3.4M301.5 555.1v3.4M351.1 555.1v3.4" stroke="#222" stroke-width="1.3" fill="none"/>
<path d="M217.5 432.3h1.6M217.5 443.5h1.6M217.5 454.6h1.6M217.5 476.9h1.6M217.5 488.1h1.6M217.5 499.2h1.6M217.5 521.5h1.6M217.5 532.6h1.6M217.5 543.8h1.6M217.5 409.9h1.6M226 555.1v1.9M232.2 555.1v1.9M237 555.1v1.9M240.9 555.1v1.9M244.2 555.1v1.9M247.1 555.1v1.9M249.6 555.1v1.9M266.8 555.1v1.9M275.6 555.1v1.9M281.8 555.1v1.9M286.6 555.1v1.9M290.5 555.1v1.9M293.8 555.1v1.9M296.7 555.1v1.9M299.2 555.1v1.9M316.4 555.1v1.9M325.2 555.1v1.9M331.4 555.1v1.9M336.2 555.1v1.9M340.1 555.1v1.9M343.4 555.1v1.9M346.3 555.1v1.9M348.8 555.1v1.9" stroke="#444" stroke-width="0.8" fill="none"/>
<g font-family="Liberation Sans, sans-serif" font-size="5.2" fill="#444" text-anchor="end" transform="translate(214.5 0) scale(1.12 1) translate(-214.5 0)">
<text x="214.5" y="423">600</text>
<text x="214.5" y="467.7">400</text>
<text x="214.5" y="512.3">200</text>
<text x="214.5" y="556.8">0</text>
</g>
<g font-family="Liberation Sans, sans-serif" font-size="5.6" fill="#444">
<text x="251.5" y="568.5">10<tspan dx="1.2" dy="-3.8" font-size="5.2">5</tspan></text>
<text x="301.1" y="568.5">10<tspan dx="1.2" dy="-3.8" font-size="5.2">6</tspan></text>
<text x="350.7" y="568.5">10<tspan dx="1.2" dy="-3.8" font-size="5.2">7</tspan></text>
</g>
<text x="224" y="421.1" font-size="12.2" fill="#111" textLength="94.5" lengthAdjust="spacing">wild-type HAP1</text>
<text x="226.1" y="449.6" font-size="12.6" fill="#111" textLength="42.2" lengthAdjust="spacing">28.0%</text>
<text x="226.2" y="465" font-size="12.6" fill="#111" textLength="44.6" lengthAdjust="spacing">haploid</text>
<text x="280.1" y="517.8" font-size="6.3" fill="#3a3a3a" text-anchor="middle" textLength="7" lengthAdjust="spacingAndGlyphs">1n</text>
<text x="280.1" y="525.8" font-size="6.3" fill="#3a3a3a" text-anchor="middle" textLength="12.2" lengthAdjust="spacingAndGlyphs">1.82</text>
<text x="280.6" y="483.1" font-size="6.3" fill="#3a3a3a" text-anchor="middle" textLength="7" lengthAdjust="spacingAndGlyphs">2n</text>
<text x="280.6" y="491.1" font-size="6.3" fill="#3a3a3a" text-anchor="middle" textLength="12.2" lengthAdjust="spacingAndGlyphs">26.2</text>
<text x="322.8" y="472.6" font-size="6.3" fill="#3a3a3a" text-anchor="middle" textLength="7" lengthAdjust="spacingAndGlyphs">4n</text>
<text x="322.8" y="480.6" font-size="6.3" fill="#3a3a3a" text-anchor="middle" textLength="12.2" lengthAdjust="spacingAndGlyphs">67.6</text>
<path d="M274.4 534.5H286.8M274.4 531.7v5.6M286.8 531.7v5.6M287.3 497.5H302.5M287.3 494.7v5.6M302.5 494.7v5.6M301.7 484.9H316.6M301.7 482.1v5.6M316.6 482.1v5.6" stroke="#222" stroke-width="1" fill="none"/>
<path d="M49.8 714.6L50.3 709 50.7 709.8 51.1 711.4 51.5 712.8 51.9 713.6 52.3 713.9 52.7 714 53.1 714 53.5 714 53.9 714 54.3 714 54.7 714 55.1 714 55.5 714 55.9 714 56.3 714 56.7 714 57.1 714 57.5 714 57.9 714 58.3 714 58.7 714 59.1 714 59.5 714 59.9 714 60.3 714 60.7 714 61.1 714 61.5 714 61.9 714 62.3 714 62.7 714 63.1 714 63.5 714 63.9 714 64.3 714 64.7 714 65.1 714 65.5 714 65.9 714 66.3 714 66.7 714 67.1 714 67.5 714 67.9 714 68.3 714 68.7 714 69.1 714 69.5 714 69.9 714 70.3 714 70.7 714 71.1 714 71.5 714 71.9 714 72.3 714 72.7 714 73.1 714 73.5 714 73.9 714 74.3 714 74.7 714 75.1 714 75.5 714 75.9 714 76.3 714 76.7 714 77.1 714 77.5 714 77.9 714 78.3 714 78.7 714 79.1 714 79.5 714 79.9 714 80.3 714 80.7 714 81.1 714 81.5 714 81.9 714 82.3 714 82.7 714 83.1 714 83.5 714 83.9 714 84.3 714 84.7 714 85.1 714 85.5 714 85.9 714 86.3 714 86.7 714 87.1 714 87.5 714 87.9 714 88.3 714 88.7 714 89.1 714 89.5 714 89.9 714 90.3 714 90.7 714 91.1 714 91.5 714 91.9 714 92.3 714 92.7 714 93.1 714 93.5 714 93.9 714 94.3 714 94.7 714 95.1 714 95.5 714 95.9 714 96.3 714 96.7 714 97.1 714 97.5 714 97.9 714 98.3 714 98.7 714 99.1 714 99.5 714 99.9 714 100.3 714 100.7 714 101.1 714 101.5 714 101.9 714 102.3 714 102.7 713.9 103.1 713.9 103.5 713.8 103.9 713.6 104.3 713.3 104.7 712.8 105.1 712 105.5 710.9 105.9 709.4 106.3 707.6 106.7 705.7 107.1 703.8 107.5 702.3 107.9 701.5 108.3 701.3 108.7 701.9 109.1 703 109.5 704.4 109.9 705.8 110.3 707 110.7 708 111.1 708.6 111.5 709 111.9 709.2 112.3 709.3 112.7 709.3 113.1 709.3 113.5 709.2 113.9 709 114.3 708.8 114.7 708.4 115.1 707.9 115.5 707.2 115.9 706.2 116.3 705.1 116.7 703.7 117.1 702.3 117.5 701 117.9 700 118.3 699.1 118.7 698 119.1 696.2 119.5 692.3 119.9 684.6 120.3 671.7 120.7 653.1 121.1 630.4 121.5 607.8 121.9 590.9 122.3 584.9 122.7 591.8 123.1 609.5 123.5 633.1 123.9 656.8 124.3 676.5 124.7 690.6 125.1 699.3 125.5 704.2 125.9 706.6 126.3 707.8 126.7 708.4 127.1 708.7 127.5 708.9 127.9 709.1 128.3 709.2 128.7 709.3 129.1 709.3 129.5 709.4 129.9 709.4 130.3 709.5 130.7 709.5 131.1 709.5 131.5 709.5 131.9 709.5 132.3 709.5 132.7 709.5 133.1 709.4 133.5 709.3 133.9 709.1 134.3 708.6 134.7 707.9 135.1 706.7 135.5 705.1 135.9 703.2 136.3 701.3 136.7 699.8 137.1 699.1 137.5 699.5 137.9 700.7 138.3 702.6 138.7 704.8 139.1 707 139.5 708.9 139.9 710.4 140.3 711.6 140.7 712.4 141.1 713 141.5 713.4 141.9 713.6 142.3 713.8 142.7 713.8 143.1 713.9 143.5 713.9 143.9 714 144.3 714 144.7 714 145.1 714 145.5 714 145.9 714 146.3 714 146.7 714 147.1 714 147.5 714 147.9 714 148.3 714 148.7 714 149.1 714 149.5 714 149.9 714 150.3 714 150.7 714 151.1 714 151.5 714 151.9 714 152.3 714 152.7 714 153.1 714 153.5 714 153.9 714 154.3 714 154.7 714 155.1 714 155.5 714 155.9 714 156.3 714 156.7 714 157.1 714 157.5 714 157.9 714 158.3 714 158.7 714 159.1 714 159.5 714 159.9 714 160.3 714 160.7 714 161.1 714 161.5 714 161.9 714 162.3 714 162.7 714 163.1 714 163.5 714 163.9 714 164.3 714 164.7 714 165.1 714 165.5 714 165.9 714 166.3 714 166.7 714 167.1 714 167.5 714 167.9 714 168.3 714 168.7 714 169.1 714 169.5 714 169.9 714 170.3 714 170.7 714 171.1 714 171.5 714 171.9 714 172.3 714 172.7 714 173.1 714 173.5 714 173.9 714 174.3 714 174.7 714 175.1 714 175.5 714 175.9 714 176.3 714 176.7 714 177.1 714 177.5 714 177.9 714 178.3 714 178.7 714 179.1 714 179.5 714 179.9 714 180.3 714 180.7 714 181.1 714 181.5 714 181.9 714 182.3 714 182.7 714 183.1 714 183.5 714 183.9 714 184.3 714 184.7 714 185.1 714 185.5 714 185.9 714 186.3 714 186.7 714 187.1 714 187.5 714 187.9 714 188.3 714 188.7 714 189.1 714 189.5 714 189.9 714 190.3 714 190.7 714 191.1 714 191.5 714 191.9 714 192.3 714 192.7 714 193.1 714 193.5 714 193.9 714 194.3 714 194.7 714 195.1 714 195.5 714 195.9 714 196.3 714 196.7 714L197 714.6Z" fill="#999" stroke="#000" stroke-width="1.1" stroke-linejoin="round"/>
<path d="M49.8 568.7V714.6" stroke="#8a8a8a" stroke-width="0.9" fill="none"/>
<path d="M49.8 714.6H197" stroke="#111" stroke-width="1.2" fill="none"/>
<path d="M46.2 594.3h3.6M46.2 624.5h3.6M46.2 654.3h3.6M46.2 684.6h3.6M46.2 714.4h3.6M84.4 714.6v3.4M133 714.6v3.4M181.6 714.6v3.4" stroke="#222" stroke-width="1.3" fill="none"/>
<path d="M48.2 601.8h1.6M48.2 609.4h1.6M48.2 617h1.6M48.2 632h1.6M48.2 639.4h1.6M48.2 646.8h1.6M48.2 661.9h1.6M48.2 669.5h1.6M48.2 677h1.6M48.2 692h1.6M48.2 699.5h1.6M48.2 707h1.6M48.2 586.8h1.6M48.2 579.2h1.6M48.2 571.7h1.6M59 714.6v1.9M65.1 714.6v1.9M69.8 714.6v1.9M73.6 714.6v1.9M76.9 714.6v1.9M79.7 714.6v1.9M82.2 714.6v1.9M99 714.6v1.9M107.6 714.6v1.9M113.7 714.6v1.9M118.4 714.6v1.9M122.2 714.6v1.9M125.5 714.6v1.9M128.3 714.6v1.9M130.8 714.6v1.9M147.6 714.6v1.9M156.2 714.6v1.9M162.3 714.6v1.9M167 714.6v1.9M170.8 714.6v1.9M174.1 714.6v1.9M176.9 714.6v1.9M179.4 714.6v1.9M196.2 714.6v1.9" stroke="#444" stroke-width="0.8" fill="none"/>
<g font-family="Liberation Sans, sans-serif" font-size="5.2" fill="#444" text-anchor="end" transform="translate(45.2 0) scale(1.12 1) translate(-45.2 0)">
<text x="45.2" y="596.2">800</text>
<text x="45.2" y="626.4">600</text>
<text x="45.2" y="656.2">400</text>
<text x="45.2" y="686.5">200</text>
<text x="45.2" y="716.3">0</text>
</g>
<g font-family="Liberation Sans, sans-serif" font-size="5.6" fill="#444">
<text x="84" y="728">10<tspan dx="1.2" dy="-3.8" font-size="5.2">5</tspan></text>
<text x="132.6" y="728">10<tspan dx="1.2" dy="-3.8" font-size="5.2">6</tspan></text>
<text x="181.2" y="728">10<tspan dx="1.2" dy="-3.8" font-size="5.2">7</tspan></text>
</g>
<text x="53.6" y="581.1" font-size="12.2" fill="#111" textLength="35.8" lengthAdjust="spacing">D3 PT</text>
<text x="56.1" y="611.6" font-size="12.6" fill="#111" textLength="42.2" lengthAdjust="spacing">85.0%</text>
<text x="56.7" y="627" font-size="12.6" fill="#111" textLength="44.6" lengthAdjust="spacing">haploid</text>
<text x="110.6" y="677.2" font-size="6.3" fill="#3a3a3a" text-anchor="middle" textLength="7" lengthAdjust="spacingAndGlyphs">1n</text>
<text x="110.6" y="685.2" font-size="6.3" fill="#3a3a3a" text-anchor="middle" textLength="12.2" lengthAdjust="spacingAndGlyphs">16.7</text>
<text x="111.9" y="642.6" font-size="6.3" fill="#3a3a3a" text-anchor="middle" textLength="7" lengthAdjust="spacingAndGlyphs">2n</text>
<text x="111.9" y="650.6" font-size="6.3" fill="#3a3a3a" text-anchor="middle" textLength="12.2" lengthAdjust="spacingAndGlyphs">68.3</text>
<text x="139.7" y="628.2" font-size="6.3" fill="#3a3a3a" text-anchor="middle" textLength="7" lengthAdjust="spacingAndGlyphs">4n</text>
<text x="139.7" y="636.2" font-size="6.3" fill="#3a3a3a" text-anchor="middle" textLength="12.2" lengthAdjust="spacingAndGlyphs">9.40</text>
<path d="M105.2 693.5H118.1M105.2 690.7v5.6M118.1 690.7v5.6M118.6 656.8H133.5M118.6 654v5.6M133.5 654v5.6M132.5 644.9H147.4M132.5 642.1v5.6M147.4 642.1v5.6" stroke="#222" stroke-width="1" fill="none"/>
<path d="M219.1 716.9L219.6 712.3 220 712.9 220.4 714.2 220.8 715.4 221.2 716 221.6 716.2 222 716.3 222.4 716.3 222.8 716.3 223.2 716.3 223.6 716.3 224 716.3 224.4 716.3 224.8 716.3 225.2 716.3 225.6 716.3 226 716.3 226.4 716.3 226.8 716.3 227.2 716.3 227.6 716.3 228 716.3 228.4 716.3 228.8 716.3 229.2 716.3 229.6 716.3 230 716.3 230.4 716.3 230.8 716.3 231.2 716.3 231.6 716.3 232 716.3 232.4 716.3 232.8 716.3 233.2 716.3 233.6 716.3 234 716.3 234.4 716.3 234.8 716.3 235.2 716.3 235.6 716.3 236 716.3 236.4 716.3 236.8 716.3 237.2 716.3 237.6 716.3 238 716.3 238.4 716.3 238.8 716.3 239.2 716.3 239.6 716.3 240 716.3 240.4 716.3 240.8 716.3 241.2 716.3 241.6 716.3 242 716.3 242.4 716.3 242.8 716.3 243.2 716.3 243.6 716.3 244 716.3 244.4 716.3 244.8 716.3 245.2 716.3 245.6 716.3 246 716.3 246.4 716.3 246.8 716.3 247.2 716.3 247.6 716.3 248 716.3 248.4 716.3 248.8 716.3 249.2 716.3 249.6 716.3 250 716.3 250.4 716.3 250.8 716.3 251.2 716.3 251.6 716.3 252 716.3 252.4 716.3 252.8 716.3 253.2 716.3 253.6 716.3 254 716.3 254.4 716.3 254.8 716.3 255.2 716.3 255.6 716.3 256 716.3 256.4 716.3 256.8 716.3 257.2 716.3 257.6 716.3 258 716.3 258.4 716.3 258.8 716.3 259.2 716.3 259.6 716.3 260 716.3 260.4 716.3 260.8 716.3 261.2 716.3 261.6 716.3 262 716.3 262.4 716.3 262.8 716.3 263.2 716.3 263.6 716.3 264 716.3 264.4 716.3 264.8 716.3 265.2 716.3 265.6 716.2 266 716.2 266.4 716.1 266.8 716.1 267.2 715.9 267.6 715.7 268 715.3 268.4 714.9 268.8 714.2 269.2 713.4 269.6 712.5 270 711.6 270.4 710.5 270.8 709.6 271.2 708.7 271.6 708.1 272 707.9 272.4 708 272.8 708.5 273.2 709.1 273.6 709.9 274 710.5 274.4 711 274.8 711.4 275.2 711.5 275.6 711.5 276 711.4 276.4 711.2 276.8 711 277.2 710.6 277.6 710.3 278 709.8 278.4 709.4 278.8 708.9 279.2 708.4 279.6 707.9 280 707.5 280.4 707.1 280.8 706.6 281.2 706.1 281.6 705.2 282 703.1 282.4 698.5 282.8 689.9 283.2 675.4 283.6 654.6 284 629.7 284.4 605.8 284.8 589.6 285.2 586.4 285.6 597.6 286 619.5 286.4 645.7 286.8 669.9 287.2 688.5 287.6 700.7 288 707.8 288.4 711.4 288.8 713.2 289.2 714 289.6 714.5 290 714.7 290.4 714.8 290.8 714.9 291.2 715 291.6 715 292 715.1 292.4 715.1 292.8 715.1 293.2 715.1 293.6 715.1 294 715.1 294.4 715.1 294.8 715.1 295.2 715.1 295.6 715.1 296 715 296.4 714.9 296.8 714.4 297.2 713.4 297.6 711.5 298 708.4 298.4 704.2 298.8 699.4 299.2 695.3 299.6 693.2 300 694 300.4 697.3 300.8 702 301.2 706.7 301.6 710.6 302 713.2 302.4 714.8 302.8 715.6 303.2 715.9 303.6 716.1 304 716.2 304.4 716.2 304.8 716.3 305.2 716.3 305.6 716.3 306 716.3 306.4 716.3 306.8 716.3 307.2 716.3 307.6 716.3 308 716.3 308.4 716.3 308.8 716.3 309.2 716.3 309.6 716.3 310 716.3 310.4 716.3 310.8 716.3 311.2 716.3 311.6 716.3 312 716.3 312.4 716.3 312.8 716.3 313.2 716.3 313.6 716.3 314 716.3 314.4 716.3 314.8 716.3 315.2 716.3 315.6 716.3 316 716.3 316.4 716.3 316.8 716.3 317.2 716.3 317.6 716.3 318 716.3 318.4 716.3 318.8 716.3 319.2 716.3 319.6 716.3 320 716.3 320.4 716.3 320.8 716.3 321.2 716.3 321.6 716.3 322 716.3 322.4 716.3 322.8 716.3 323.2 716.3 323.6 716.3 324 716.3 324.4 716.3 324.8 716.3 325.2 716.3 325.6 716.3 326 716.3 326.4 716.3 326.8 716.3 327.2 716.3 327.6 716.3 328 716.3 328.4 716.3 328.8 716.3 329.2 716.3 329.6 716.3 330 716.3 330.4 716.3 330.8 716.3 331.2 716.3 331.6 716.3 332 716.3 332.4 716.3 332.8 716.3 333.2 716.3 333.6 716.3 334 716.3 334.4 716.3 334.8 716.3 335.2 716.3 335.6 716.3 336 716.3 336.4 716.3 336.8 716.3 337.2 716.3 337.6 716.3 338 716.3 338.4 716.3 338.8 716.3 339.2 716.3 339.6 716.3 340 716.3 340.4 716.3 340.8 716.3 341.2 716.3 341.6 716.3 342 716.3 342.4 716.3 342.8 716.3 343.2 716.3 343.6 716.3 344 716.3 344.4 716.3 344.8 716.3 345.2 716.3 345.6 716.3 346 716.3 346.4 716.3 346.8 716.3 347.2 716.3 347.6 716.3 348 716.3 348.4 716.3 348.8 716.3 349.2 716.3 349.6 716.3 350 716.3 350.4 716.3 350.8 716.3 351.2 716.3 351.6 716.3 352 716.3 352.4 716.3 352.8 716.3 353.2 716.3 353.6 716.3 354 716.3 354.4 716.3 354.8 716.3 355.2 716.3 355.6 716.3 356 716.3 356.4 716.3 356.8 716.3 357.2 716.3 357.6 716.3 358 716.3 358.4 716.3 358.8 716.3 359.2 716.3 359.6 716.3 360 716.3 360.4 716.3 360.8 716.3 361.2 716.3 361.6 716.3 362 716.3 362.4 716.3 362.8 716.3 363.2 716.3 363.6 716.3 364 716.3 364.4 716.3 364.8 716.3L365 716.9Z" fill="#999" stroke="#000" stroke-width="1.1" stroke-linejoin="round"/>
<path d="M219.1 570V716.9" stroke="#8a8a8a" stroke-width="0.9" fill="none"/>
<path d="M219.1 716.9H365" stroke="#111" stroke-width="1.2" fill="none"/>
<path d="M215.5 588.5h3.6M215.5 619.6h3.6M215.5 652.3h3.6M215.5 684.1h3.6M215.5 715.9h3.6M253.9 716.9v3.4M303 716.9v3.4M352.1 716.9v3.4" stroke="#222" stroke-width="1.3" fill="none"/>
<path d="M217.5 596.3h1.6M217.5 604h1.6M217.5 611.8h1.6M217.5 627.8h1.6M217.5 636h1.6M217.5 644.1h1.6M217.5 660.2h1.6M217.5 668.2h1.6M217.5 676.1h1.6M217.5 692h1.6M217.5 700h1.6M217.5 708h1.6M217.5 580.7h1.6M217.5 573h1.6M228.2 716.9v1.9M234.4 716.9v1.9M239.1 716.9v1.9M243 716.9v1.9M246.3 716.9v1.9M249.1 716.9v1.9M251.7 716.9v1.9M268.7 716.9v1.9M277.3 716.9v1.9M283.5 716.9v1.9M288.2 716.9v1.9M292.1 716.9v1.9M295.4 716.9v1.9M298.2 716.9v1.9M300.8 716.9v1.9M317.8 716.9v1.9M326.4 716.9v1.9M332.6 716.9v1.9M337.3 716.9v1.9M341.2 716.9v1.9M344.5 716.9v1.9M347.3 716.9v1.9M349.9 716.9v1.9" stroke="#444" stroke-width="0.8" fill="none"/>
<g font-family="Liberation Sans, sans-serif" font-size="5.2" fill="#444" text-anchor="end" transform="translate(214.5 0) scale(1.12 1) translate(-214.5 0)">
<text x="214.5" y="590.4">1.2K</text>
<text x="214.5" y="621.5">900</text>
<text x="214.5" y="654.2">600</text>
<text x="214.5" y="686">300</text>
<text x="214.5" y="717.8">0</text>
</g>
<g font-family="Liberation Sans, sans-serif" font-size="5.6" fill="#444">
<text x="253.5" y="730.3">10<tspan dx="1.2" dy="-3.8" font-size="5.2">5</tspan></text>
<text x="302.6" y="730.3">10<tspan dx="1.2" dy="-3.8" font-size="5.2">6</tspan></text>
<text x="351.7" y="730.3">10<tspan dx="1.2" dy="-3.8" font-size="5.2">7</tspan></text>
</g>
<text x="223.6" y="582.3" font-size="12.2" fill="#111" textLength="45.5" lengthAdjust="spacing">D19 PT</text>
<text x="224.6" y="610.9" font-size="12.6" fill="#111" textLength="41.7" lengthAdjust="spacing">80.4%</text>
<text x="224.7" y="626.5" font-size="12.6" fill="#111" textLength="44.6" lengthAdjust="spacing">haploid</text>
<text x="271.2" y="679.2" font-size="6.3" fill="#3a3a3a" text-anchor="middle" textLength="7" lengthAdjust="spacingAndGlyphs">1n</text>
<text x="271.2" y="687.2" font-size="6.3" fill="#3a3a3a" text-anchor="middle" textLength="12.2" lengthAdjust="spacingAndGlyphs">8.80</text>
<text x="271.2" y="649.4" font-size="6.3" fill="#3a3a3a" text-anchor="middle" textLength="7" lengthAdjust="spacingAndGlyphs">2n</text>
<text x="271.2" y="657.4" font-size="6.3" fill="#3a3a3a" text-anchor="middle" textLength="12.2" lengthAdjust="spacingAndGlyphs">71.8</text>
<text x="304.2" y="632.7" font-size="6.3" fill="#3a3a3a" text-anchor="middle" textLength="7" lengthAdjust="spacingAndGlyphs">4n</text>
<text x="304.2" y="640.7" font-size="6.3" fill="#3a3a3a" text-anchor="middle" textLength="12.2" lengthAdjust="spacingAndGlyphs">15.3</text>
<path d="M265.7 695.3H277.6M265.7 692.5v5.6M277.6 692.5v5.6M278.1 664.2H293.5M278.1 661.4v5.6M293.5 661.4v5.6M293.5 647.6H317.4M293.5 644.8v5.6M317.4 644.8v5.6" stroke="#222" stroke-width="1" fill="none"/>
<path d="M20.1 416V714.7" stroke="#8a8a8a" stroke-width="2" fill="none"/>
<path d="M20.1 410.6L23.6 416.8H16.6Z" fill="#000"/>
<path d="M48.7 750.6H347.5" stroke="#333" stroke-width="1.3" fill="none"/>
<path d="M354 750.8L346.8 747.2V754.4Z" fill="#000"/>
<text transform="translate(11.0 555.4) rotate(-90)" font-size="12" fill="#111" text-anchor="middle" textLength="33.5" lengthAdjust="spacing">count</text>
<text x="186" y="771.9" font-size="12.0" fill="#111" textLength="29.6" lengthAdjust="spacing">DAPI</text>
<text x="389.6" y="405.8" font-size="14.6" fill="#111" font-family="Liberation Sans, sans-serif">c</text>
<path d="M443.9 402.9V488H529.9" stroke="#a8a8a8" stroke-width="0.9" fill="none"/>
<path d="M441.2 405.2h2.7M441.2 419.2h2.7M441.2 433.2h2.7M441.2 447.2h2.7M441.2 464.1h2.7M441.2 484.3h2.7M447.3 488v2.7M467.4 488v2.7M484.1 488v2.7M498.7 488v2.7M512.5 488v2.7M526.4 488v2.7" stroke="#1a1a1a" stroke-width="0.9" fill="none"/>
<path d="M442.3 443h1.6M442.3 440.5h1.6M442.3 438.8h1.6M442.3 437.4h1.6M442.3 436.3h1.6M442.3 435.3h1.6M442.3 434.5h1.6M442.3 433.8h1.6M442.3 428.9h1.6M442.3 426.5h1.6M442.3 424.7h1.6M442.3 423.4h1.6M442.3 422.3h1.6M442.3 421.3h1.6M442.3 420.5h1.6M442.3 419.8h1.6M442.3 414.9h1.6M442.3 412.5h1.6M442.3 410.7h1.6M442.3 409.4h1.6M442.3 408.3h1.6M442.3 407.4h1.6M442.3 406.5h1.6M442.3 405.8h1.6M442.3 459h1.6M442.3 456.1h1.6M442.3 454h1.6M442.3 452.3h1.6M442.3 451h1.6M442.3 449.9h1.6M442.3 448.9h1.6M442.3 448h1.6M442.3 481.8h1.6M442.3 479.3h1.6M442.3 476.8h1.6M442.3 474.2h1.6M442.3 471.7h1.6M442.3 469.2h1.6M442.3 466.6h1.6M472.4 488v1.6M475.3 488v1.6M477.4 488v1.6M479 488v1.6M480.4 488v1.6M481.5 488v1.6M482.5 488v1.6M483.3 488v1.6M488.5 488v1.6M491.1 488v1.6M492.9 488v1.6M494.3 488v1.6M495.5 488v1.6M496.5 488v1.6M497.3 488v1.6M498.1 488v1.6M502.9 488v1.6M505.3 488v1.6M507 488v1.6M508.3 488v1.6M509.4 488v1.6M510.3 488v1.6M511.1 488v1.6M511.8 488v1.6M516.7 488v1.6M519.1 488v1.6M520.9 488v1.6M522.2 488v1.6M523.3 488v1.6M524.3 488v1.6M525.1 488v1.6M525.8 488v1.6M449.8 488v1.6M452.3 488v1.6M454.8 488v1.6M457.3 488v1.6M459.8 488v1.6M462.3 488v1.6M464.9 488v1.6" stroke="#555" stroke-width="0.5" fill="none"/>
<rect x="441.5" y="473" width="2.2" height="2.5" fill="#111"/>
<rect x="456.2" y="488.6" width="2.7" height="2" fill="#111"/>
<g font-family="'Liberation Serif', 'DejaVu Serif', serif" font-size="4.3" fill="#3a3a3a">
<text x="434.2" y="407.2">10<tspan dx="0.2" dy="-1.9" font-size="3.6">7</tspan></text>
<text x="434.2" y="421.2">10<tspan dx="0.2" dy="-1.9" font-size="3.6">6</tspan></text>
<text x="434.2" y="435.2">10<tspan dx="0.2" dy="-1.9" font-size="3.6">5</tspan></text>
<text x="434.2" y="449.3">10<tspan dx="0.2" dy="-1.9" font-size="3.6">4</tspan></text>
<text x="434.2" y="466.2">10<tspan dx="0.2" dy="-1.9" font-size="3.6">3</tspan></text>
<text x="436.1" y="475.7">0</text>
<text x="432.4" y="486.4">-10<tspan dx="0.2" dy="-1.9" font-size="3.6">3</tspan></text>
<text x="458.1" y="495.8">0</text>
<text x="484.3" y="495.8">10<tspan dx="0.2" dy="-1.9" font-size="3.6">4</tspan></text>
<text x="498.9" y="495.8">10<tspan dx="0.2" dy="-1.9" font-size="3.6">5</tspan></text>
<text x="512.6" y="495.8">10<tspan dx="0.2" dy="-1.9" font-size="3.6">6</tspan></text>
<text x="526.6" y="495.8">10<tspan dx="0.2" dy="-1.9" font-size="3.6">7</tspan></text>
</g>
<path d="M443.9 519.6V604.7H529.9" stroke="#a8a8a8" stroke-width="0.9" fill="none"/>
<path d="M441.2 521.9h2.7M441.2 535.9h2.7M441.2 549.9h2.7M441.2 563.9h2.7M441.2 580.8h2.7M441.2 601h2.7M447.3 604.7v2.7M467.4 604.7v2.7M484.1 604.7v2.7M498.7 604.7v2.7M512.5 604.7v2.7M526.4 604.7v2.7" stroke="#1a1a1a" stroke-width="0.9" fill="none"/>
<path d="M442.3 559.7h1.6M442.3 557.2h1.6M442.3 555.5h1.6M442.3 554.1h1.6M442.3 553h1.6M442.3 552h1.6M442.3 551.2h1.6M442.3 550.5h1.6M442.3 545.6h1.6M442.3 543.2h1.6M442.3 541.4h1.6M442.3 540.1h1.6M442.3 539h1.6M442.3 538h1.6M442.3 537.2h1.6M442.3 536.5h1.6M442.3 531.6h1.6M442.3 529.2h1.6M442.3 527.4h1.6M442.3 526.1h1.6M442.3 525h1.6M442.3 524.1h1.6M442.3 523.2h1.6M442.3 522.5h1.6M442.3 575.7h1.6M442.3 572.8h1.6M442.3 570.7h1.6M442.3 569h1.6M442.3 567.7h1.6M442.3 566.6h1.6M442.3 565.6h1.6M442.3 564.7h1.6M442.3 598.5h1.6M442.3 596h1.6M442.3 593.5h1.6M442.3 590.9h1.6M442.3 588.4h1.6M442.3 585.9h1.6M442.3 583.3h1.6M472.4 604.7v1.6M475.3 604.7v1.6M477.4 604.7v1.6M479 604.7v1.6M480.4 604.7v1.6M481.5 604.7v1.6M482.5 604.7v1.6M483.3 604.7v1.6M488.5 604.7v1.6M491.1 604.7v1.6M492.9 604.7v1.6M494.3 604.7v1.6M495.5 604.7v1.6M496.5 604.7v1.6M497.3 604.7v1.6M498.1 604.7v1.6M502.9 604.7v1.6M505.3 604.7v1.6M507 604.7v1.6M508.3 604.7v1.6M509.4 604.7v1.6M510.3 604.7v1.6M511.1 604.7v1.6M511.8 604.7v1.6M516.7 604.7v1.6M519.1 604.7v1.6M520.9 604.7v1.6M522.2 604.7v1.6M523.3 604.7v1.6M524.3 604.7v1.6M525.1 604.7v1.6M525.8 604.7v1.6M449.8 604.7v1.6M452.3 604.7v1.6M454.8 604.7v1.6M457.3 604.7v1.6M459.8 604.7v1.6M462.3 604.7v1.6M464.9 604.7v1.6" stroke="#555" stroke-width="0.5" fill="none"/>
<rect x="441.5" y="589.7" width="2.2" height="2.5" fill="#111"/>
<rect x="456.2" y="605.3" width="2.7" height="2" fill="#111"/>
<g font-family="'Liberation Serif', 'DejaVu Serif', serif" font-size="4.3" fill="#3a3a3a">
<text x="434.2" y="523.9">10<tspan dx="0.2" dy="-1.9" font-size="3.6">7</tspan></text>
<text x="434.2" y="537.9">10<tspan dx="0.2" dy="-1.9" font-size="3.6">6</tspan></text>
<text x="434.2" y="551.9">10<tspan dx="0.2" dy="-1.9" font-size="3.6">5</tspan></text>
<text x="434.2" y="566">10<tspan dx="0.2" dy="-1.9" font-size="3.6">4</tspan></text>
<text x="434.2" y="582.9">10<tspan dx="0.2" dy="-1.9" font-size="3.6">3</tspan></text>
<text x="436.1" y="592.4">0</text>
<text x="432.4" y="603.1">-10<tspan dx="0.2" dy="-1.9" font-size="3.6">3</tspan></text>
<text x="458.1" y="612.5">0</text>
<text x="484.3" y="612.5">10<tspan dx="0.2" dy="-1.9" font-size="3.6">4</tspan></text>
<text x="498.9" y="612.5">10<tspan dx="0.2" dy="-1.9" font-size="3.6">5</tspan></text>
<text x="512.6" y="612.5">10<tspan dx="0.2" dy="-1.9" font-size="3.6">6</tspan></text>
<text x="526.6" y="612.5">10<tspan dx="0.2" dy="-1.9" font-size="3.6">7</tspan></text>
</g>
<path d="M445.7 635.5V720.6H531.7" stroke="#a8a8a8" stroke-width="0.9" fill="none"/>
<path d="M443 637.8h2.7M443 651.8h2.7M443 665.8h2.7M443 679.8h2.7M443 696.7h2.7M443 716.9h2.7M449.1 720.6v2.7M469.2 720.6v2.7M485.9 720.6v2.7M500.5 720.6v2.7M514.3 720.6v2.7M528.2 720.6v2.7" stroke="#1a1a1a" stroke-width="0.9" fill="none"/>
<path d="M444.1 675.6h1.6M444.1 673.1h1.6M444.1 671.4h1.6M444.1 670h1.6M444.1 668.9h1.6M444.1 667.9h1.6M444.1 667.1h1.6M444.1 666.4h1.6M444.1 661.5h1.6M444.1 659.1h1.6M444.1 657.3h1.6M444.1 656h1.6M444.1 654.9h1.6M444.1 653.9h1.6M444.1 653.1h1.6M444.1 652.4h1.6M444.1 647.5h1.6M444.1 645.1h1.6M444.1 643.3h1.6M444.1 642h1.6M444.1 640.9h1.6M444.1 640h1.6M444.1 639.1h1.6M444.1 638.4h1.6M444.1 691.6h1.6M444.1 688.7h1.6M444.1 686.6h1.6M444.1 684.9h1.6M444.1 683.6h1.6M444.1 682.5h1.6M444.1 681.5h1.6M444.1 680.6h1.6M444.1 714.4h1.6M444.1 711.9h1.6M444.1 709.4h1.6M444.1 706.8h1.6M444.1 704.3h1.6M444.1 701.8h1.6M444.1 699.2h1.6M474.2 720.6v1.6M477.1 720.6v1.6M479.2 720.6v1.6M480.8 720.6v1.6M482.2 720.6v1.6M483.3 720.6v1.6M484.3 720.6v1.6M485.1 720.6v1.6M490.3 720.6v1.6M492.9 720.6v1.6M494.7 720.6v1.6M496.1 720.6v1.6M497.3 720.6v1.6M498.3 720.6v1.6M499.1 720.6v1.6M499.9 720.6v1.6M504.7 720.6v1.6M507.1 720.6v1.6M508.8 720.6v1.6M510.1 720.6v1.6M511.2 720.6v1.6M512.1 720.6v1.6M512.9 720.6v1.6M513.6 720.6v1.6M518.5 720.6v1.6M520.9 720.6v1.6M522.7 720.6v1.6M524 720.6v1.6M525.1 720.6v1.6M526.1 720.6v1.6M526.9 720.6v1.6M527.6 720.6v1.6M451.6 720.6v1.6M454.1 720.6v1.6M456.6 720.6v1.6M459.1 720.6v1.6M461.6 720.6v1.6M464.1 720.6v1.6M466.7 720.6v1.6" stroke="#555" stroke-width="0.5" fill="none"/>
<rect x="443.3" y="705.6" width="2.2" height="2.5" fill="#111"/>
<rect x="458" y="721.2" width="2.7" height="2" fill="#111"/>
<g font-family="'Liberation Serif', 'DejaVu Serif', serif" font-size="4.3" fill="#3a3a3a">
<text x="436" y="639.8">10<tspan dx="0.2" dy="-1.9" font-size="3.6">7</tspan></text>
<text x="436" y="653.8">10<tspan dx="0.2" dy="-1.9" font-size="3.6">6</tspan></text>
<text x="436" y="667.8">10<tspan dx="0.2" dy="-1.9" font-size="3.6">5</tspan></text>
<text x="436" y="681.9">10<tspan dx="0.2" dy="-1.9" font-size="3.6">4</tspan></text>
<text x="436" y="698.8">10<tspan dx="0.2" dy="-1.9" font-size="3.6">3</tspan></text>
<text x="437.9" y="708.3">0</text>
<text x="434.2" y="719">-10<tspan dx="0.2" dy="-1.9" font-size="3.6">3</tspan></text>
<text x="459.9" y="728.4">0</text>
<text x="486.1" y="728.4">10<tspan dx="0.2" dy="-1.9" font-size="3.6">4</tspan></text>
<text x="500.7" y="728.4">10<tspan dx="0.2" dy="-1.9" font-size="3.6">5</tspan></text>
<text x="514.4" y="728.4">10<tspan dx="0.2" dy="-1.9" font-size="3.6">6</tspan></text>
<text x="528.4" y="728.4">10<tspan dx="0.2" dy="-1.9" font-size="3.6">7</tspan></text>
</g>
<path d="M490 432.5h1m-5 5h1m-11 1h1m1 0h1m-6 1h1m1 0h1m8 0h1m-10 1h1m1 0h1m0 0h1m0 0h1m0 0h1m0 0h1m0 0h1m0 0h1m0 0h1m0 0h1m-12 1h1m0 0h1m0 0h1m0 0h1m0 0h1m0 0h1m0 0h1m1 0h1m2 0h1m0 0h1m2 0h1m-23 1h1m2 0h1m0 0h1m0 0h1m0 0h1m0 0h1m1 0h1m0 0h1m1 0h1m0 0h1m0 0h1m2 0h1m1 0h1m0 0h1m2 0h1m-24 1h1m3 0h1m0 0h1m0 0h1m0 0h1m0 0h1m0 0h1m0 0h1m0 0h1m0 0h1m0 0h1m0 0h1m0 0h1m0 0h1m0 0h1m0 0h1m0 0h1m4 0h1m-24 1h1m1 0h1m0 0h1m0 0h1m0 0h1m0 0h1m0 0h1m0 0h1m0 0h1m0 0h1m0 0h1m0 0h1m1 0h1m0 0h1m0 0h1m0 0h1m1 0h1m-24 1h1m0 0h1m0 0h1m1 0h1m0 0h1m0 0h1m0 0h1m1 0h1m0 0h1m0 0h1m0 0h1m0 0h1m0 0h1m0 0h1m0 0h1m0 0h1m0 0h1m1 0h1m5 0h1m-24 1h1m0 0h1m0 0h1m0 0h1m0 0h1m0 0h1m0 0h1m0 0h1m0 0h1m0 0h1m0 0h1m0 0h1m0 0h1m0 0h1m0 0h1m0 0h1m0 0h1m0 0h1m0 0h1m0 0h1m-21 1h1m0 0h1m0 0h1m0 0h1m0 0h1m0 0h1m0 0h1m0 0h1m0 0h1m0 0h1m0 0h1m0 0h1m0 0h1m0 0h1m0 0h1m0 0h1m0 0h1m0 0h1m1 0h1m0 0h1m-22 1h1m0 0h1m0 0h1m0 0h1m0 0h1m0 0h1m0 0h1m0 0h1m0 0h1m0 0h1m0 0h1m0 0h1m0 0h1m0 0h1m0 0h1m0 0h1m0 0h1m0 0h1m1 0h1m1 0h1m-26 1h1m2 0h1m0 0h1m0 0h1m0 0h1m0 0h1m0 0h1m0 0h1m0 0h1m0 0h1m0 0h1m0 0h1m0 0h1m0 0h1m0 0h1m0 0h1m0 0h1m0 0h1m0 0h1m0 0h1m2 0h1m-26 1h1m0 0h1m1 0h1m0 0h1m0 0h1m0 0h1m0 0h1m0 0h1m0 0h1m0 0h1m0 0h1m0 0h1m0 0h1m0 0h1m0 0h1m0 0h1m0 0h1m0 0h1m0 0h1m0 0h1m0 0h1m0 0h1m-22 1h1m0 0h1m0 0h1m0 0h1m0 0h1m0 0h1m0 0h1m0 0h1m0 0h1m0 0h1m0 0h1m0 0h1m0 0h1m0 0h1m0 0h1m0 0h1m0 0h1m0 0h1m0 0h1m0 0h1m0 0h1m2 0h1m-25 1h1m2 0h1m0 0h1m0 0h1m0 0h1m0 0h1m0 0h1m0 0h1m0 0h1m0 0h1m0 0h1m0 0h1m0 0h1m0 0h1m0 0h1m0 0h1m0 0h1m0 0h1m0 0h1m0 0h1m0 0h1m-26 1h1m2 0h1m0 0h1m1 0h1m0 0h1m0 0h1m0 0h1m0 0h1m0 0h1m0 0h1m0 0h1m0 0h1m0 0h1m0 0h1m0 0h1m0 0h1m0 0h1m0 0h1m0 0h1m1 0h1m-22 1h1m1 0h1m0 0h1m0 0h1m0 0h1m0 0h1m0 0h1m0 0h1m0 0h1m0 0h1m0 0h1m0 0h1m0 0h1m0 0h1m0 0h1m0 0h1m0 0h1m0 0h1m0 0h1m1 0h1m-23 1h1m0 0h1m0 0h1m0 0h1m0 0h1m0 0h1m0 0h1m0 0h1m0 0h1m0 0h1m0 0h1m0 0h1m0 0h1m0 0h1m0 0h1m0 0h1m0 0h1m0 0h1m0 0h1m1 0h1m0 0h1m2 0h1m-23 1h1m0 0h1m0 0h1m0 0h1m0 0h1m0 0h1m0 0h1m0 0h1m0 0h1m0 0h1m0 0h1m0 0h1m0 0h1m0 0h1m0 0h1m0 0h1m1 0h1m-19 1h1m0 0h1m0 0h1m0 0h1m1 0h1m0 0h1m0 0h1m1 0h1m0 0h1m0 0h1m0 0h1m1 0h1m-20 1h1m2 0h1m1 0h1m0 0h1m0 0h1m0 0h1m0 0h1m0 0h1m0 0h1m0 0h1m0 0h1m0 0h1m0 0h1m0 0h1m0 0h1m0 0h1m0 0h1m2 0h1m-19 1h1m0 0h1m2 0h1m0 0h1m0 0h1m0 0h1m0 0h1m1 0h1m0 0h1m3 0h1m-13 1h1m0 0h1m0 0h1m0 0h1m0 0h1m0 0h1m2 0h1m0 0h1m-15 1h1m3 0h1m1 0h1m0 0h1m6 0h1m-7 1h1m-3 1h1m-9 2h1m16 0h1m-11 1h1m1 0h1" stroke="#000" stroke-width="1.0" fill="none"/>
<path d="M483 433.5h1m-6 2h1m2 3h1m-13 1h1m5 0h1m10 0h1m-12 1h1m0 0h1m1 0h1m4 0h1m9 0h1m-18 1h1m0 0h1m3 0h1m1 0h1m-24 1h1m10 0h1m0 0h1m0 0h1m0 0h1m1 0h1m2 0h1m5 0h1m3 0h1m-21 1h1m0 0h1m0 0h1m1 0h1m4 0h1m3 0h1m-10 1h1m4 0h1m0 0h1m5 0h1m-21 1h1m0 0h1m8 0h1m0 0h1m0 0h1m0 0h1m2 0h1m0 0h1m-29 1h1m12 0h1m0 0h1m5 0h1m0 0h1m0 0h1m0 0h1m2 0h1m4 0h1m-27 1h1m6 0h1m1 0h1m4 0h1m2 0h1m1 0h1m5 0h1m-19 1h1m2 0h1m0 0h1m3 0h1m1 0h1m1 0h1m-11 1h1m0 0h1m4 0h1m1 0h1m1 0h1m4 0h1m5 0h1m-29 1h1m3 0h1m1 0h1m3 0h1m2 0h1m0 0h1m3 0h1m0 0h1m0 0h1m-11 1h1m5 0h1m0 0h1m-18 1h1m0 0h1m0 0h1m0 0h1m3 0h1m0 0h1m2 0h1m0 0h1m0 0h1m1 0h1m1 0h1m-26 1h1m3 0h1m3 0h1m4 0h1m0 0h1m1 0h1m1 0h1m5 0h1m0 0h1m-22 1h1m4 0h1m4 0h1m2 0h1m5 0h1m0 0h1m-16 1h1m1 0h1m5 0h1m3 0h1m0 0h1m3 0h1m1 0h1m-30 1h1m9 0h1m0 0h1m0 0h1m0 0h1m1 0h1m1 0h1m3 0h1m0 0h1m-12 1h1m3 0h1m0 0h1m0 0h1m0 0h1m5 0h1m4 0h1m-25 1h1m5 0h1m2 0h1m3 0h1m6 0h1m0 0h1m-16 1h1m1 0h1m1 0h1m0 0h1m1 0h1m1 0h1m2 0h1m1 0h1m0 0h1m-22 1h1m6 0h1m0 0h1m6 0h1m-11 1h1m3 0h1m9 0h1m-16 1h1m16 0h1m-15 1h1m1 0h1m3 5h1" stroke="#000" stroke-width="1.0" stroke-opacity="0.5" fill="none"/>
<path d="M479 556.5h1m5 0h1m-2 3h1m3 0h1m-9 1h1m2 0h1m0 0h1m2 0h1m1 0h1m1 0h1m-10 1h1m2 0h1m2 0h1m2 0h1m2 0h1m-19 1h1m0 0h1m3 0h1m1 0h1m0 0h1m0 0h1m1 0h1m0 0h1m0 0h1m-15 1h1m1 0h1m0 0h1m0 0h1m0 0h1m0 0h1m0 0h1m0 0h1m0 0h1m0 0h1m0 0h1m0 0h1m0 0h1m0 0h1m0 0h1m0 0h1m-14 1h1m0 0h1m0 0h1m0 0h1m0 0h1m0 0h1m0 0h1m0 0h1m0 0h1m0 0h1m0 0h1m0 0h1m0 0h1m0 0h1m-19 1h1m2 0h1m0 0h1m0 0h1m0 0h1m0 0h1m0 0h1m0 0h1m0 0h1m0 0h1m0 0h1m0 0h1m0 0h1m0 0h1m0 0h1m0 0h1m-17 1h1m0 0h1m0 0h1m1 0h1m0 0h1m0 0h1m0 0h1m0 0h1m0 0h1m0 0h1m0 0h1m0 0h1m0 0h1m0 0h1m0 0h1m-17 1h1m0 0h1m1 0h1m0 0h1m0 0h1m0 0h1m0 0h1m0 0h1m0 0h1m0 0h1m0 0h1m0 0h1m0 0h1m0 0h1m0 0h1m-16 1h1m1 0h1m0 0h1m0 0h1m0 0h1m0 0h1m0 0h1m0 0h1m0 0h1m0 0h1m0 0h1m0 0h1m0 0h1m0 0h1m0 0h1m-15 1h1m0 0h1m0 0h1m0 0h1m0 0h1m0 0h1m0 0h1m0 0h1m0 0h1m0 0h1m0 0h1m0 0h1m0 0h1m0 0h1m-16 1h1m0 0h1m0 0h1m0 0h1m0 0h1m0 0h1m0 0h1m0 0h1m0 0h1m0 0h1m0 0h1m0 0h1m0 0h1m0 0h1m0 0h1m-17 1h1m0 0h1m1 0h1m0 0h1m0 0h1m0 0h1m0 0h1m0 0h1m1 0h1m0 0h1m0 0h1m0 0h1m0 0h1m0 0h1m0 0h1m-14 1h1m0 0h1m0 0h1m0 0h1m0 0h1m0 0h1m0 0h1m0 0h1m0 0h1m0 0h1m0 0h1m0 0h1m0 0h1m-18 1h1m2 0h1m2 0h1m0 0h1m0 0h1m0 0h1m0 0h1m0 0h1m0 0h1m0 0h1m0 0h1m0 0h1m0 0h1m-15 1h1m1 0h1m0 0h1m0 0h1m1 0h1m0 0h1m0 0h1m0 0h1m1 0h1m0 0h1m-12 1h1m2 0h1m0 0h1m0 0h1m0 0h1m0 0h1m0 0h1m0 0h1m0 0h1m0 0h1m-17 1h1m5 0h1m0 0h1m2 0h1m0 0h1m0 0h1m-6 1h1m0 0h1m0 0h1m0 0h1m0 0h1m0 0h1m1 0h1m-8 1h1m0 0h1" stroke="#000" stroke-width="1.0" fill="none"/>
<path d="M467 554.5h1m15 3h1m3 0h1m1 2h1m-7 1h1m4 0h1m-9 1h1m0 0h1m5 0h1m0 0h1m3 0h1m-21 1h1m2 0h1m-1 1h1m9 0h1m6 0h1m-24 1h1m3 0h1m6 0h1m1 0h1m3 0h1m0 0h1m-20 1h1m4 0h1m0 0h1m1 0h1m4 0h1m7 0h1m-17 1h1m3 0h1m1 0h1m2 0h1m2 0h1m-18 1h1m6 0h1m2 0h1m0 0h1m2 0h1m4 0h1m0 0h1m-28 1h1m7 0h1m3 0h1m0 0h1m0 0h1m1 0h1m7 0h1m-3 1h1m0 0h1m1 0h1m-9 1h1m1 0h1m0 0h1m1 0h1m1 0h1m-17 1h1m5 0h1m0 0h1m1 0h1m6 0h1m-12 1h1m1 0h1m1 0h1m2 0h1m2 0h1m-13 1h1m2 0h1m2 0h1m0 0h1m0 0h1m-27 1h1m24 0h1m2 0h1m0 0h1m-22 1h1m0 0h1m3 0h1m0 0h1m0 0h1m1 0h1m0 0h1m-20 1h1m14 0h1m1 0h1m5 1h1m-8 1h1m-5 2h1m-3 2h1m1 3h1m2 1h1" stroke="#000" stroke-width="1.0" stroke-opacity="0.5" fill="none"/>
<g filter="url(#soft)">
<path d="M502 552.5h1m4 0h1m-4 1h1m11 0h1m2 0h1m-16 1h1m4 0h1m0 0h1m3 0h1m1 0h1m9 0h1m-27 1h1m1 0h1m8 0h1m3 0h1m0 0h1m6 0h1m-20 1h1m0 0h1m3 0h1m3 0h1m9 0h1m1 0h1m4 0h1m-33 1h1m1 0h1m4 0h1m0 0h1m0 0h1m0 0h1m0 0h1m0 0h1m0 0h1m0 0h1m0 0h1m0 0h1m4 0h1m1 0h1m0 0h1m0 0h1m3 0h1m-31 1h1m0 0h1m2 0h1m2 0h1m0 0h1m0 0h1m0 0h1m2 0h1m1 0h1m1 0h1m0 0h1m1 0h1m1 0h1m0 0h1m0 0h1m1 0h1m0 0h1m1 0h1m0 0h1m2 0h1m-35 1h1m5 0h1m0 0h1m0 0h1m0 0h1m0 0h1m0 0h1m1 0h1m0 0h1m0 0h1m0 0h1m0 0h1m0 0h1m0 0h1m1 0h1m0 0h1m0 0h1m0 0h1m0 0h1m0 0h1m0 0h1m0 0h1m0 0h1m2 0h1m-33 1h1m0 0h1m1 0h1m1 0h1m0 0h1m0 0h1m0 0h1m1 0h1m0 0h1m2 0h1m0 0h1m0 0h1m1 0h1m0 0h1m0 0h1m1 0h1m0 0h1m1 0h1m0 0h1m1 0h1m0 0h1m1 0h1m0 0h1m0 0h1m-36 1h1m0 0h1m0 0h1m0 0h1m0 0h1m0 0h1m0 0h1m0 0h1m0 0h1m0 0h1m0 0h1m0 0h1m0 0h1m0 0h1m0 0h1m0 0h1m0 0h1m0 0h1m0 0h1m0 0h1m0 0h1m0 0h1m0 0h1m0 0h1m0 0h1m0 0h1m0 0h1m1 0h1m0 0h1m0 0h1m0 0h1m0 0h1m0 0h1m1 0h1m0 0h1m-38 1h1m0 0h1m0 0h1m0 0h1m0 0h1m0 0h1m0 0h1m0 0h1m0 0h1m0 0h1m0 0h1m0 0h1m0 0h1m0 0h1m0 0h1m0 0h1m0 0h1m0 0h1m0 0h1m0 0h1m0 0h1m0 0h1m0 0h1m0 0h1m0 0h1m0 0h1m0 0h1m0 0h1m0 0h1m0 0h1m0 0h1m0 0h1m1 0h1m0 0h1m0 0h1m-36 1h1m0 0h1m0 0h1m0 0h1m0 0h1m0 0h1m0 0h1m0 0h1m0 0h1m0 0h1m0 0h1m0 0h1m0 0h1m0 0h1m0 0h1m0 0h1m0 0h1m0 0h1m0 0h1m0 0h1m0 0h1m0 0h1m0 0h1m0 0h1m0 0h1m0 0h1m1 0h1m1 0h1m0 0h1m1 0h1m0 0h1m0 0h1m0 0h1m-37 1h1m0 0h1m0 0h1m0 0h1m0 0h1m0 0h1m0 0h1m0 0h1m0 0h1m0 0h1m0 0h1m0 0h1m0 0h1m0 0h1m0 0h1m0 0h1m0 0h1m0 0h1m0 0h1m0 0h1m0 0h1m0 0h1m0 0h1m0 0h1m0 0h1m0 0h1m0 0h1m0 0h1m0 0h1m0 0h1m0 0h1m0 0h1m0 0h1m0 0h1m1 0h1m1 0h1m-39 1h1m0 0h1m0 0h1m0 0h1m0 0h1m0 0h1m0 0h1m0 0h1m0 0h1m0 0h1m0 0h1m0 0h1m0 0h1m0 0h1m0 0h1m0 0h1m0 0h1m0 0h1m0 0h1m0 0h1m0 0h1m0 0h1m0 0h1m0 0h1m0 0h1m0 0h1m0 0h1m0 0h1m0 0h1m0 0h1m0 0h1m0 0h1m0 0h1m0 0h1m0 0h1m1 0h1m2 0h1m-41 1h1m0 0h1m0 0h1m0 0h1m0 0h1m0 0h1m0 0h1m0 0h1m0 0h1m0 0h1m0 0h1m0 0h1m0 0h1m0 0h1m0 0h1m0 0h1m0 0h1m0 0h1m0 0h1m0 0h1m0 0h1m0 0h1m0 0h1m0 0h1m0 0h1m0 0h1m0 0h1m0 0h1m0 0h1m0 0h1m0 0h1m0 0h1m0 0h1m0 0h1m0 0h1m0 0h1m0 0h1m0 0h1m0 0h1m0 0h1m0 0h1m-42 1h1m0 0h1m0 0h1m0 0h1m0 0h1m0 0h1m0 0h1m0 0h1m0 0h1m0 0h1m0 0h1m0 0h1m0 0h1m0 0h1m0 0h1m0 0h1m0 0h1m0 0h1m0 0h1m0 0h1m0 0h1m0 0h1m0 0h1m0 0h1m0 0h1m0 0h1m0 0h1m0 0h1m0 0h1m0 0h1m0 0h1m0 0h1m0 0h1m0 0h1m1 0h1m0 0h1m0 0h1m0 0h1m1 0h1m-42 1h1m0 0h1m0 0h1m0 0h1m0 0h1m0 0h1m0 0h1m0 0h1m0 0h1m0 0h1m0 0h1m0 0h1m0 0h1m0 0h1m0 0h1m0 0h1m0 0h1m0 0h1m0 0h1m0 0h1m0 0h1m0 0h1m0 0h1m0 0h1m0 0h1m0 0h1m0 0h1m0 0h1m0 0h1m0 0h1m0 0h1m0 0h1m0 0h1m0 0h1m0 0h1m0 0h1m0 0h1m0 0h1m0 0h1m0 0h1m0 0h1m-41 1h1m0 0h1m0 0h1m0 0h1m0 0h1m0 0h1m0 0h1m0 0h1m0 0h1m0 0h1m0 0h1m0 0h1m0 0h1m0 0h1m0 0h1m0 0h1m0 0h1m0 0h1m0 0h1m0 0h1m0 0h1m0 0h1m0 0h1m0 0h1m0 0h1m0 0h1m0 0h1m0 0h1m0 0h1m0 0h1m0 0h1m0 0h1m0 0h1m0 0h1m0 0h1m0 0h1m0 0h1m4 0h1m-42 1h1m0 0h1m0 0h1m0 0h1m0 0h1m0 0h1m0 0h1m0 0h1m0 0h1m0 0h1m0 0h1m0 0h1m0 0h1m0 0h1m0 0h1m0 0h1m0 0h1m0 0h1m0 0h1m0 0h1m0 0h1m0 0h1m1 0h1m0 0h1m0 0h1m0 0h1m0 0h1m2 0h1m0 0h1m0 0h1m0 0h1m0 0h1m0 0h1m1 0h1m0 0h1m1 0h1m0 0h1m-43 1h1m0 0h1m0 0h1m0 0h1m0 0h1m0 0h1m0 0h1m0 0h1m0 0h1m0 0h1m0 0h1m0 0h1m0 0h1m0 0h1m0 0h1m1 0h1m0 0h1m0 0h1m0 0h1m0 0h1m0 0h1m0 0h1m0 0h1m0 0h1m0 0h1m0 0h1m0 0h1m0 0h1m0 0h1m0 0h1m1 0h1m0 0h1m0 0h1m0 0h1m0 0h1m0 0h1m3 0h1m0 0h1m0 0h1m-46 1h1m0 0h1m0 0h1m0 0h1m1 0h1m1 0h1m0 0h1m0 0h1m0 0h1m0 0h1m0 0h1m0 0h1m0 0h1m0 0h1m0 0h1m0 0h1m0 0h1m0 0h1m0 0h1m0 0h1m0 0h1m0 0h1m1 0h1m0 0h1m0 0h1m0 0h1m0 0h1m0 0h1m0 0h1m0 0h1m0 0h1m2 0h1m1 0h1m3 0h1m-43 1h1m0 0h1m0 0h1m0 0h1m0 0h1m0 0h1m0 0h1m0 0h1m0 0h1m1 0h1m0 0h1m0 0h1m0 0h1m0 0h1m0 0h1m0 0h1m0 0h1m0 0h1m0 0h1m0 0h1m0 0h1m0 0h1m0 0h1m0 0h1m0 0h1m0 0h1m0 0h1m1 0h1m0 0h1m0 0h1m0 0h1m2 0h1m2 0h1m2 0h1m2 0h1m0 0h1m-48 1h1m0 0h1m1 0h1m0 0h1m0 0h1m2 0h1m0 0h1m0 0h1m0 0h1m0 0h1m0 0h1m0 0h1m0 0h1m0 0h1m0 0h1m0 0h1m0 0h1m0 0h1m1 0h1m0 0h1m0 0h1m0 0h1m0 0h1m1 0h1m1 0h1m0 0h1m3 0h1m0 0h1m0 0h1m1 0h1m3 0h1m0 0h1m2 0h1m-46 1h1m0 0h1m1 0h1m0 0h1m2 0h1m0 0h1m0 0h1m1 0h1m0 0h1m2 0h1m0 0h1m1 0h1m1 0h1m1 0h1m0 0h1m0 0h1m1 0h1m0 0h1m0 0h1m1 0h1m1 0h1m0 0h1m0 0h1m4 0h1m-34 1h1m0 0h1m0 0h1m0 0h1m0 0h1m3 0h1m2 0h1m0 0h1m0 0h1m1 0h1m0 0h1m2 0h1m0 0h1m0 0h1m11 0h1m-43 1h1m2 0h1m5 0h1m2 0h1m9 0h1m1 0h1m5 0h1m5 0h1m-37 1h1m10 0h1m1 0h1m0 0h1m0 0h1m9 0h1m2 0h1m8 0h1m-23 2h1m5 0h1m2 0h1" stroke="#14914f" stroke-width="1.0" stroke-opacity="0.95" fill="none"/>
</g>
<path d="M495 674.5h1m2 0h1m0 0h1m-7 2h1m3 1h1m0 0h1m0 0h1m-7 1h1m-5 1h1m2 0h1m1 0h1m1 0h1m0 0h1m-8 1h1m0 0h1m4 0h1m1 0h1m-10 1h1m4 0h1m-8 1h1m3 0h1m1 0h1m0 0h1m0 0h1m-10 1h1m3 0h1m0 0h1m6 0h1m-12 1h1m9 0h1m0 0h1m-13 1h1m6 0h1m2 0h1m-4 1h1m4 0h1m0 0h1m-14 1h1m5 0h1m0 0h1m-5 1h1m6 0h1" stroke="#000" stroke-width="1.0" stroke-opacity="0.6" fill="none"/>
<g filter="url(#soft)">
<path d="M512 667.5h1m3 0h1m1 0h1m5 0h1m-22 1h1m10 0h1m0 0h1m0 0h1m0 0h1m1 0h1m7 0h1m-25 1h1m3 0h1m0 0h1m1 0h1m0 0h1m3 0h1m1 0h1m1 0h1m0 0h1m0 0h1m-21 1h1m5 0h1m5 0h1m0 0h1m0 0h1m2 0h1m0 0h1m0 0h1m0 0h1m2 0h1m0 0h1m0 0h1m1 0h1m0 0h1m-29 1h1m0 0h1m0 0h1m2 0h1m0 0h1m0 0h1m3 0h1m1 0h1m0 0h1m0 0h1m0 0h1m0 0h1m0 0h1m0 0h1m0 0h1m0 0h1m0 0h1m3 0h1m0 0h1m0 0h1m0 0h1m-30 1h1m0 0h1m1 0h1m0 0h1m0 0h1m0 0h1m0 0h1m0 0h1m0 0h1m0 0h1m1 0h1m0 0h1m0 0h1m0 0h1m1 0h1m0 0h1m0 0h1m0 0h1m0 0h1m0 0h1m0 0h1m0 0h1m1 0h1m0 0h1m0 0h1m-31 1h1m0 0h1m0 0h1m0 0h1m0 0h1m0 0h1m0 0h1m0 0h1m0 0h1m0 0h1m0 0h1m0 0h1m0 0h1m1 0h1m0 0h1m0 0h1m0 0h1m0 0h1m0 0h1m0 0h1m1 0h1m0 0h1m0 0h1m0 0h1m0 0h1m0 0h1m0 0h1m0 0h1m1 0h1m0 0h1m-32 1h1m0 0h1m0 0h1m0 0h1m0 0h1m0 0h1m1 0h1m0 0h1m0 0h1m0 0h1m0 0h1m0 0h1m0 0h1m0 0h1m0 0h1m0 0h1m0 0h1m0 0h1m0 0h1m0 0h1m0 0h1m0 0h1m0 0h1m0 0h1m0 0h1m0 0h1m0 0h1m0 0h1m0 0h1m0 0h1m-34 1h1m0 0h1m0 0h1m0 0h1m0 0h1m0 0h1m0 0h1m0 0h1m0 0h1m0 0h1m0 0h1m0 0h1m0 0h1m0 0h1m0 0h1m0 0h1m0 0h1m0 0h1m0 0h1m0 0h1m0 0h1m0 0h1m0 0h1m0 0h1m0 0h1m0 0h1m0 0h1m0 0h1m0 0h1m0 0h1m1 0h1m0 0h1m0 0h1m0 0h1m0 0h1m-35 1h1m0 0h1m0 0h1m0 0h1m0 0h1m0 0h1m0 0h1m0 0h1m0 0h1m0 0h1m0 0h1m0 0h1m0 0h1m0 0h1m0 0h1m0 0h1m0 0h1m0 0h1m0 0h1m0 0h1m0 0h1m0 0h1m0 0h1m0 0h1m0 0h1m0 0h1m0 0h1m0 0h1m0 0h1m0 0h1m1 0h1m0 0h1m0 0h1m0 0h1m-38 1h1m0 0h1m0 0h1m0 0h1m0 0h1m0 0h1m0 0h1m0 0h1m0 0h1m0 0h1m0 0h1m0 0h1m0 0h1m0 0h1m0 0h1m0 0h1m0 0h1m0 0h1m0 0h1m0 0h1m0 0h1m0 0h1m0 0h1m0 0h1m0 0h1m0 0h1m0 0h1m0 0h1m0 0h1m0 0h1m0 0h1m0 0h1m0 0h1m0 0h1m0 0h1m0 0h1m0 0h1m-37 1h1m0 0h1m0 0h1m0 0h1m0 0h1m0 0h1m0 0h1m0 0h1m0 0h1m0 0h1m0 0h1m0 0h1m0 0h1m0 0h1m0 0h1m0 0h1m0 0h1m0 0h1m0 0h1m0 0h1m0 0h1m0 0h1m0 0h1m0 0h1m0 0h1m0 0h1m0 0h1m0 0h1m0 0h1m0 0h1m0 0h1m0 0h1m0 0h1m0 0h1m0 0h1m0 0h1m0 0h1m0 0h1m-40 1h1m0 0h1m0 0h1m0 0h1m0 0h1m0 0h1m0 0h1m0 0h1m0 0h1m0 0h1m0 0h1m0 0h1m0 0h1m0 0h1m0 0h1m0 0h1m0 0h1m0 0h1m0 0h1m0 0h1m0 0h1m0 0h1m0 0h1m0 0h1m0 0h1m0 0h1m0 0h1m0 0h1m0 0h1m0 0h1m0 0h1m0 0h1m0 0h1m0 0h1m0 0h1m0 0h1m0 0h1m0 0h1m0 0h1m0 0h1m-40 1h1m0 0h1m0 0h1m0 0h1m0 0h1m0 0h1m0 0h1m0 0h1m0 0h1m0 0h1m0 0h1m0 0h1m0 0h1m0 0h1m0 0h1m0 0h1m0 0h1m0 0h1m0 0h1m0 0h1m0 0h1m0 0h1m0 0h1m0 0h1m0 0h1m0 0h1m0 0h1m0 0h1m0 0h1m0 0h1m0 0h1m0 0h1m1 0h1m0 0h1m0 0h1m0 0h1m0 0h1m-39 1h1m0 0h1m0 0h1m0 0h1m0 0h1m0 0h1m0 0h1m0 0h1m0 0h1m0 0h1m0 0h1m0 0h1m0 0h1m0 0h1m0 0h1m0 0h1m0 0h1m0 0h1m0 0h1m0 0h1m0 0h1m0 0h1m0 0h1m0 0h1m0 0h1m0 0h1m0 0h1m0 0h1m0 0h1m0 0h1m0 0h1m0 0h1m0 0h1m0 0h1m0 0h1m0 0h1m0 0h1m0 0h1m0 0h1m0 0h1m-40 1h1m0 0h1m0 0h1m0 0h1m0 0h1m0 0h1m0 0h1m0 0h1m0 0h1m0 0h1m0 0h1m0 0h1m0 0h1m0 0h1m0 0h1m0 0h1m0 0h1m0 0h1m0 0h1m0 0h1m0 0h1m0 0h1m0 0h1m0 0h1m0 0h1m0 0h1m0 0h1m0 0h1m0 0h1m0 0h1m0 0h1m0 0h1m0 0h1m0 0h1m0 0h1m0 0h1m0 0h1m0 0h1m0 0h1m-40 1h1m0 0h1m1 0h1m1 0h1m0 0h1m0 0h1m0 0h1m0 0h1m0 0h1m0 0h1m0 0h1m0 0h1m0 0h1m0 0h1m0 0h1m0 0h1m0 0h1m0 0h1m0 0h1m0 0h1m0 0h1m0 0h1m0 0h1m0 0h1m0 0h1m0 0h1m0 0h1m0 0h1m0 0h1m0 0h1m0 0h1m0 0h1m0 0h1m2 0h1m2 0h1m-40 1h1m1 0h1m3 0h1m0 0h1m0 0h1m0 0h1m0 0h1m0 0h1m0 0h1m0 0h1m0 0h1m0 0h1m0 0h1m0 0h1m0 0h1m0 0h1m0 0h1m0 0h1m0 0h1m0 0h1m0 0h1m0 0h1m0 0h1m0 0h1m0 0h1m3 0h1m0 0h1m0 0h1m0 0h1m2 0h1m-43 1h1m2 0h1m2 0h1m0 0h1m1 0h1m1 0h1m0 0h1m0 0h1m0 0h1m1 0h1m0 0h1m0 0h1m0 0h1m0 0h1m0 0h1m0 0h1m0 0h1m0 0h1m0 0h1m1 0h1m2 0h1m0 0h1m0 0h1m0 0h1m0 0h1m1 0h1m3 0h1m0 0h1m0 0h1m-36 1h1m0 0h1m3 0h1m1 0h1m1 0h1m0 0h1m0 0h1m0 0h1m1 0h1m1 0h1m0 0h1m0 0h1m0 0h1m0 0h1m0 0h1m0 0h1m0 0h1m0 0h1m1 0h1m1 0h1m3 0h1m2 0h1m0 0h1m-42 1h1m0 0h1m5 0h1m0 0h1m1 0h1m3 0h1m0 0h1m1 0h1m0 0h1m1 0h1m2 0h1m1 0h1m1 0h1m3 0h1m3 0h1m1 0h1m1 0h1m-31 1h1m2 0h1m2 0h1m3 0h1m3 0h1m0 0h1m0 0h1m1 0h1m0 0h1m10 0h1m-30 1h1m1 0h1m2 0h1m3 0h1m0 0h1m1 0h1m0 0h1m1 0h1m5 0h1m-15 1h1m5 0h1m0 0h1m10 0h1m1 2h1" stroke="#14914f" stroke-width="1.0" stroke-opacity="0.95" fill="none"/>
</g>
<polygon points="474.4,467.2 502.6,434.9 530.6,434.4 531,471.6" fill="none" stroke="#222" stroke-width="0.9"/>
<polygon points="474.4,583.9 502.4,551.5 530.6,550.6 531,587.1" fill="none" stroke="#222" stroke-width="0.9"/>
<polygon points="476.2,698.9 504.2,666.5 532.2,665.6 532.7,702.4" fill="none" stroke="#222" stroke-width="0.9"/>
<text x="468.1" y="426.2" font-size="12.4" fill="#3a903a" textLength="58.5" lengthAdjust="spacing">0% GFP+</text>
<text x="463.7" y="541.9" font-size="12.4" fill="#3a903a" textLength="66.4" lengthAdjust="spacing">64% GFP+</text>
<text x="464.6" y="657.8" font-size="12.4" fill="#3a903a" textLength="66.7" lengthAdjust="spacing">98% GFP+</text>
<text x="548.1" y="455" font-size="12.1" fill="#111" textLength="84.2" lengthAdjust="spacing">untransfected</text>
<text x="548.1" y="470.1" font-size="12.1" fill="#111" textLength="42.7" lengthAdjust="spacing">control</text>
<text x="546" y="562.5" font-size="12.0" fill="#111" textLength="35.7" lengthAdjust="spacing">D3 PT</text>
<text x="546.2" y="578" font-size="12.0" fill="#111" textLength="50.4" lengthAdjust="spacing">[-PURO]</text>
<text x="546.6" y="672.6" font-size="12.0" fill="#111" textLength="36.2" lengthAdjust="spacing">D3 PT</text>
<text x="546.7" y="688.8" font-size="12.0" fill="#111" textLength="54.8" lengthAdjust="spacing">[+PURO]</text>
<path d="M425.6 421.5V720.1" stroke="#222" stroke-width="1.3" fill="none"/>
<path d="M425.6 416.2L429 422.6H422.2Z" fill="#000"/>
<path d="M434.7 748.7H537.5" stroke="#222" stroke-width="1.3" fill="none"/>
<path d="M544.2 748.7L536.6 744.9V752.5Z" fill="#000"/>
<text transform="translate(416.2 562.8) rotate(-90)" font-size="12.5" fill="#111" text-anchor="middle" textLength="30.6" lengthAdjust="spacing">DAPI</text>
<text x="485.9" y="767.2" font-size="12.2" fill="#111" textLength="24.4" lengthAdjust="spacing">GFP</text>
<text x="9" y="814.7" font-size="14.2" fill="#111" font-family="Liberation Sans, sans-serif">d</text>
<text x="119.6 127 134.3 141.7 149.1 156.5 163.8 171.2 178.6 186 193.3 200.7 208.1 215.4 222.8 230.2 237.6 244.9 252.3 259.7 267.1 274.4 281.8 289.2 296.6 303.9 311.3 318.7 326 333.4 340.8 348.2 355.5 362.9 370.3 377.7 385 392.4 399.8 407.1 414.5 421.9 429.3 436.6 444 451.4 458.8 466.1 473.5 480.9 488.2 495.6 503 510.4 517.7 525.1 532.5 539.9 547.2 554.6 562" y="824.4" font-size="9.4" fill="#1a1a1a" text-anchor="middle">GTTTACTTGCTGTATGGTTAAACTTCCTTTCTGTAAACATCTTGGCTTCAACACAAAATAT</text>
<text x="566.3" y="824.4" font-size="9.4" fill="#1a1a1a">...</text>
<text x="119.6 127 134.3 141.7 149.1 156.5 163.8 171.2 178.6 186 193.3 274.4 281.8 289.2 296.6 303.9 311.3 318.7 326 333.4 340.8 348.2 355.5 362.9 370.3 377.7 385 392.4 399.8 407.1 414.5 421.9 429.3 436.6 444 451.4 458.8 466.1 473.5 480.9 488.2 495.6 503 510.4 517.7 525.1 532.5 539.9 547.2 554.6 562" y="873.6" font-size="9.4" fill="#1a1a1a" text-anchor="middle">GTTTACTTGCTACTTCCTTTCTGTAAACATCTTGGCTTCAACACAAAATAT</text>
<text x="566.3" y="873.6" font-size="9.4" fill="#1a1a1a">...</text>
<path d="M198.5 870.4h3.6M205.9 870.4h3.6M213.2 870.4h3.6M220.6 870.4h3.6M228 870.4h3.6M235.4 870.4h3.6M242.7 870.4h3.6M250.1 870.4h3.6M257.5 870.4h3.6M264.9 870.4h3.6" stroke="#8a8a8a" stroke-width="0.9" fill="none"/>
<text x="107.6" y="824.4" font-size="9.4" fill="#1a1a1a">...</text>
<text x="107.6" y="873.6" font-size="9.4" fill="#1a1a1a">...</text>
<text x="27.1" y="824.6" font-size="10.4" fill="#111" textLength="79.1" lengthAdjust="spacing">GRCh38 <tspan font-style="italic">LIG4+</tspan></text>
<text x="48.1" y="836.5" font-size="10.4" fill="#111" textLength="58.3" lengthAdjust="spacing">(wild-type)</text>
<text x="26.8" y="872.1" font-size="10.4" fill="#111" textLength="77.9" lengthAdjust="spacing">A5 Clone<tspan font-style="italic" dx="2">LIG4-</tspan></text>
<text x="76.4" y="884.1" font-size="10.4" fill="#111" textLength="28.3" lengthAdjust="spacing">(null)</text>
<text x="196.5" y="886.1" font-size="10.3" fill="#111" textLength="72.6" lengthAdjust="spacing">10bp deletion</text>
<text x="115.1" y="809.7" font-size="7.9" fill="#111" textLength="24.5" lengthAdjust="spacing">Chr13</text>
<text x="192.9" y="809.6" font-size="7.9" fill="#111" text-anchor="middle" textLength="51.3" lengthAdjust="spacing">108,210,832</text>
<text x="274.4" y="809.6" font-size="7.9" fill="#111" text-anchor="middle" textLength="51.3" lengthAdjust="spacing">108,210,843</text>
<path d="M192.9 812v2.6M274.4 812v2.6" stroke="#555" stroke-width="0.8"/>
<path d="M116 864.6H197.5M270.8 864.6H567" stroke="#5ec85e" stroke-width="1.1" fill="none"/>
<path d="M144.9 864.1L145.5 863.3L146.1 861.5L146.7 858.6L147.3 854.4L147.9 849.8L148.5 846L149.1 844.6L149.7 846L150.3 849.8L150.9 854.4L151.5 858.6L152.1 861.5L152.7 863.3L153.3 864.1M270.2 864.2L270.8 863.5L271.4 862.1L272 859.7L272.6 856.4L273.2 852.7L273.8 849.7L274.4 848.5L275 849.7L275.6 852.7L276.2 856.4L276.8 859.7L277.4 862.1L278 863.5L278.6 864.2M366.1 864.3L366.7 863.8L367.3 862.7L367.9 860.8L368.5 858.2L369.1 855.3L369.7 852.9L370.3 852L370.9 852.9L371.5 855.3L372.1 858.2L372.7 860.8L373.3 862.7L373.9 863.8L374.5 864.3M373.5 864.3L374.1 863.8L374.7 862.7L375.3 860.8L375.9 858.2L376.5 855.3L377.1 852.9L377.7 852L378.3 852.9L378.9 855.3L379.5 858.2L380.1 860.8L380.7 862.7L381.3 863.8L381.9 864.3M380.8 864.3L381.4 863.7L382 862.6L382.6 860.7L383.2 858L383.8 855L384.4 852.5L385 851.6L385.6 852.5L386.2 855L386.8 858L387.4 860.7L388 862.6L388.6 863.7L389.2 864.3M395.6 864.3L396.2 863.8L396.8 862.8L397.4 861.2L398 858.8L398.6 856.2L399.2 854L399.8 853.2L400.4 854L401 856.2L401.6 858.8L402.2 861.2L402.8 862.8L403.4 863.8L404 864.3M476.7 864.4L477.3 864L477.9 863.3L478.5 862L479.1 860.2L479.7 858.2L480.3 856.5L480.9 855.9L481.5 856.5L482.1 858.2L482.7 860.2L483.3 862L483.9 863.3L484.5 864L485.1 864.4M484.1 864.3L484.6 863.8L485.2 862.9L485.9 861.2L486.4 858.9L487.1 856.3L487.6 854.2L488.2 853.4L488.9 854.2L489.4 856.3L490.1 858.9L490.6 861.2L491.2 862.9L491.9 863.8L492.4 864.3M498.8 864.3L499.4 863.8L500 862.7L500.6 860.9L501.2 858.3L501.8 855.4L502.4 853.1L503 852.2L503.6 853.1L504.2 855.4L504.8 858.3L505.4 860.9L506 862.7L506.6 863.8L507.2 864.3M513.5 864.3L514.1 863.9L514.7 863.1L515.3 861.6L515.9 859.6L516.5 857.3L517.1 855.4L517.7 854.7L518.3 855.4L518.9 857.3L519.5 859.6L520.1 861.6L520.7 863.1L521.3 863.9L521.9 864.3M520.9 864.4L521.5 864L522.1 863.3L522.7 862L523.3 860.2L523.9 858.2L524.5 856.6L525.1 856L525.7 856.6L526.3 858.2L526.9 860.2L527.5 862L528.1 863.3L528.7 864L529.3 864.4M528.3 864.3L528.9 863.8L529.5 862.8L530.1 861L530.7 858.5L531.3 855.8L531.9 853.6L532.5 852.7L533.1 853.6L533.7 855.8L534.3 858.5L534.9 861L535.5 862.8L536.1 863.8L536.7 864.3M535.7 864.3L536.3 863.7L536.9 862.5L537.5 860.5L538.1 857.7L538.7 854.5L539.3 852L539.9 851L540.5 852L541.1 854.5L541.7 857.7L542.3 860.5L542.9 862.5L543.5 863.7L544.1 864.3M550.4 864.2L551 863.4L551.6 861.9L552.2 859.4L552.8 855.7L553.4 851.7L554 848.5L554.6 847.2L555.2 848.5L555.8 851.7L556.4 855.7L557 859.4L557.6 861.9L558.2 863.4L558.8 864.2" stroke="#d23a3a" stroke-width="0.9" fill="none" stroke-linejoin="round"/>
<path d="M152.3 864.2L152.9 863.5L153.5 862.2L154.1 859.8L154.7 856.5L155.3 852.8L155.9 849.8L156.5 848.7L157.1 849.8L157.7 852.8L158.3 856.5L158.9 859.8L159.5 862.2L160.1 863.5L160.7 864.2M181.8 864.1L182.4 863.2L183 861.3L183.6 858.1L184.2 853.6L184.8 848.7L185.4 844.7L186 843.1L186.6 844.7L187.2 848.7L187.8 853.6L188.4 858.1L189 861.3L189.6 863.2L190.2 864.1M277.6 864.1L278.2 863.4L278.8 861.8L279.4 859.1L280 855.2L280.6 851L281.2 847.5L281.8 846.2L282.4 847.5L283 851L283.6 855.2L284.2 859.1L284.8 861.8L285.4 863.4L286 864.1M299.7 864L300.3 862.9L300.9 860.7L301.5 856.9L302.1 851.7L302.7 845.8L303.3 841L303.9 839.2L304.5 841L305.1 845.8L305.7 851.7L306.3 856.9L306.9 860.7L307.5 862.9L308.1 864M307.1 864.2L307.7 863.4L308.3 862L308.9 859.4L309.5 855.8L310.1 851.9L310.7 848.6L311.3 847.4L311.9 848.6L312.5 851.9L313.1 855.8L313.7 859.4L314.3 862L314.9 863.4L315.5 864.2M336.6 864L337.2 863L337.8 860.9L338.4 857.4L339 852.5L339.6 847L340.2 842.5L340.8 840.8L341.4 842.5L342 847L342.6 852.5L343.2 857.4L343.8 860.9L344.4 863L345 864M388.2 864.1L388.8 863.4L389.4 861.9L390 859.3L390.6 855.6L391.2 851.5L391.8 848.2L392.4 846.9L393 848.2L393.6 851.5L394.2 855.6L394.8 859.3L395.4 861.9L396 863.4L396.6 864.1M410.3 863.9L410.9 862.9L411.5 860.7L412.1 856.9L412.7 851.6L413.3 845.6L413.9 840.8L414.5 839L415.1 840.8L415.7 845.6L416.3 851.6L416.9 856.9L417.5 860.7L418.1 862.9L418.7 863.9M447.2 864.1L447.8 863.3L448.4 861.5L449 858.6L449.6 854.5L450.2 849.9L450.8 846.1L451.4 844.7L452 846.1L452.6 849.9L453.2 854.5L453.8 858.6L454.4 861.5L455 863.3L455.6 864.1M469.3 864L469.9 863L470.5 861L471.1 857.5L471.7 852.6L472.3 847.1L472.9 842.7L473.5 841L474.1 842.7L474.7 847.1L475.3 852.6L475.9 857.5L476.5 861L477.1 863L477.7 864M491.4 864.2L492 863.5L492.6 862.1L493.2 859.7L493.8 856.4L494.4 852.7L495 849.7L495.6 848.5L496.2 849.7L496.8 852.7L497.4 856.4L498 859.7L498.6 862.1L499.2 863.5L499.8 864.2M506.2 864.2L506.8 863.5L507.4 862.1L508 859.7L508.6 856.4L509.2 852.7L509.8 849.7L510.4 848.5L511 849.7L511.6 852.7L512.2 856.4L512.8 859.7L513.4 862.1L514 863.5L514.6 864.2" stroke="#2f3fc8" stroke-width="0.9" fill="none" stroke-linejoin="round"/>
<path d="M115.4 864.3L116 863.7L116.6 862.6L117.2 860.8L117.8 858.1L118.4 855.2L119 852.8L119.6 851.9L120.2 852.8L120.8 855.2L121.4 858.1L122 860.8L122.6 862.6L123.2 863.7L123.8 864.3M174.4 863.9L175 862.7L175.6 860.2L176.2 856L176.8 850.1L177.4 843.5L178 838.2L178.6 836.1L179.2 838.2L179.8 843.5L180.4 850.1L181 856L181.6 860.2L182.2 862.7L182.8 863.9M351.3 863.9L351.9 862.7L352.5 860.2L353.1 855.9L353.7 849.9L354.3 843.2L354.9 837.8L355.5 835.7L356.1 837.8L356.7 843.2L357.3 849.9L357.9 855.9L358.5 860.2L359.1 862.7L359.7 863.9M432.4 863.9L433 862.7L433.6 860.2L434.2 856L434.8 850L435.4 843.4L436 838.1L436.6 836L437.2 838.1L437.8 843.4L438.4 850L439 856L439.6 860.2L440.2 862.7L440.8 863.9M439.8 864.3L440.4 863.7L441 862.6L441.6 860.7L442.2 858L442.8 855L443.4 852.6L444 851.7L444.6 852.6L445.2 855L445.8 858L446.4 860.7L447 862.6L447.6 863.7L448.2 864.3" stroke="#c9b23a" stroke-width="0.9" fill="none" stroke-linejoin="round"/>
<path d="M122.8 864.3L123.4 863.7L124 862.6L124.6 860.8L125.2 858.1L125.8 855.2L126.4 852.8L127 851.9L127.6 852.8L128.2 855.2L128.8 858.1L129.4 860.8L130 862.6L130.6 863.7L131.2 864.3M130.1 864L130.7 863.1L131.3 861.2L131.9 857.9L132.5 853.3L133.1 848.1L133.7 844L134.3 842.4L134.9 844L135.5 848.1L136.1 853.3L136.7 857.9L137.3 861.2L137.9 863.1L138.5 864M137.5 864.2L138.1 863.6L138.7 862.4L139.3 860.3L139.9 857.4L140.5 854.1L141.1 851.4L141.7 850.4L142.3 851.4L142.9 854.1L143.5 857.4L144.1 860.3L144.7 862.4L145.3 863.6L145.9 864.2M159.6 864.3L160.2 863.7L160.8 862.6L161.4 860.8L162 858.1L162.6 855.2L163.2 852.8L163.8 851.9L164.4 852.8L165 855.2L165.6 858.1L166.2 860.8L166.8 862.6L167.4 863.7L168 864.3M167 864.1L167.6 863.2L168.2 861.4L168.8 858.4L169.4 854.1L170 849.3L170.6 845.4L171.2 843.9L171.8 845.4L172.4 849.3L173 854.1L173.6 858.4L174.2 861.4L174.8 863.2L175.4 864.1M189.1 864.3L189.7 863.8L190.3 862.8L190.9 861L191.5 858.5L192.1 855.7L192.7 853.5L193.3 852.6L193.9 853.5L194.5 855.7L195.1 858.5L195.7 861L196.3 862.8L196.9 863.8L197.5 864.3M285 864.3L285.6 863.8L286.2 862.7L286.8 860.8L287.4 858.2L288 855.3L288.6 852.9L289.2 852L289.8 852.9L290.4 855.3L291 858.2L291.6 860.8L292.2 862.7L292.8 863.8L293.4 864.3M292.4 864L293 863L293.6 861.1L294.2 857.6L294.8 852.8L295.4 847.5L296 843.2L296.6 841.5L297.2 843.2L297.8 847.5L298.4 852.8L299 857.6L299.6 861.1L300.2 863L300.8 864M314.5 864.2L315.1 863.6L315.7 862.4L316.3 860.3L316.9 857.3L317.5 853.9L318.1 851.2L318.7 850.2L319.3 851.2L319.9 853.9L320.5 857.3L321.1 860.3L321.7 862.4L322.3 863.6L322.9 864.2M321.8 864L322.4 863L323 860.9L323.6 857.3L324.2 852.3L324.8 846.7L325.4 842.1L326 840.4L326.6 842.1L327.2 846.7L327.8 852.3L328.4 857.3L329 860.9L329.6 863L330.2 864M329.2 864.1L329.8 863.3L330.4 861.5L331 858.6L331.6 854.4L332.2 849.8L332.8 846L333.4 844.6L334 846L334.6 849.8L335.2 854.4L335.8 858.6L336.4 861.5L337 863.3L337.6 864.1M344 864.3L344.6 863.9L345.2 863L345.8 861.4L346.4 859.1L347 856.7L347.6 854.7L348.2 853.9L348.8 854.7L349.4 856.7L350 859.1L350.6 861.4L351.2 863L351.8 863.9L352.4 864.3M358.7 864.2L359.3 863.6L359.9 862.4L360.5 860.3L361.1 857.3L361.7 853.9L362.3 851.2L362.9 850.2L363.5 851.2L364.1 853.9L364.7 857.3L365.3 860.3L365.9 862.4L366.5 863.6L367.1 864.2M402.9 864.2L403.5 863.5L404.1 862L404.7 859.5L405.3 856L405.9 852.2L406.5 849L407.1 847.8L407.7 849L408.3 852.2L408.9 856L409.5 859.5L410.1 862L410.7 863.5L411.3 864.2M417.7 864.3L418.3 863.8L418.9 862.8L419.5 861L420.1 858.5L420.7 855.8L421.3 853.6L421.9 852.7L422.5 853.6L423.1 855.8L423.7 858.5L424.3 861L424.9 862.8L425.5 863.8L426.1 864.3M425.1 864.1L425.7 863.3L426.3 861.7L426.9 859L427.5 855.1L428.1 850.8L428.7 847.3L429.3 846L429.9 847.3L430.5 850.8L431.1 855.1L431.7 859L432.3 861.7L432.9 863.3L433.5 864.1M454.6 864.2L455.2 863.6L455.8 862.3L456.4 860.1L457 857L457.6 853.6L458.2 850.8L458.8 849.7L459.4 850.8L460 853.6L460.6 857L461.2 860.1L461.8 862.3L462.4 863.6L463 864.2M461.9 864.1L462.5 863.3L463.1 861.6L463.7 858.7L464.3 854.7L464.9 850.2L465.5 846.6L466.1 845.2L466.7 846.6L467.3 850.2L467.9 854.7L468.5 858.7L469.1 861.6L469.7 863.3L470.3 864.1M543 864.3L543.6 863.8L544.2 862.7L544.8 860.9L545.4 858.3L546 855.4L546.6 853.1L547.2 852.2L547.8 853.1L548.4 855.4L549 858.3L549.6 860.9L550.2 862.7L550.8 863.8L551.4 864.3M557.8 864.3L558.4 863.8L559 862.7L559.6 860.9L560.2 858.3L560.8 855.4L561.4 853.1L562 852.2L562.6 853.1L563.2 855.4L563.8 858.3L564.4 860.9L565 862.7L565.6 863.8L566.2 864.3" stroke="#3fbf3f" stroke-width="0.9" fill="none" stroke-linejoin="round"/>
</svg></body></html>
